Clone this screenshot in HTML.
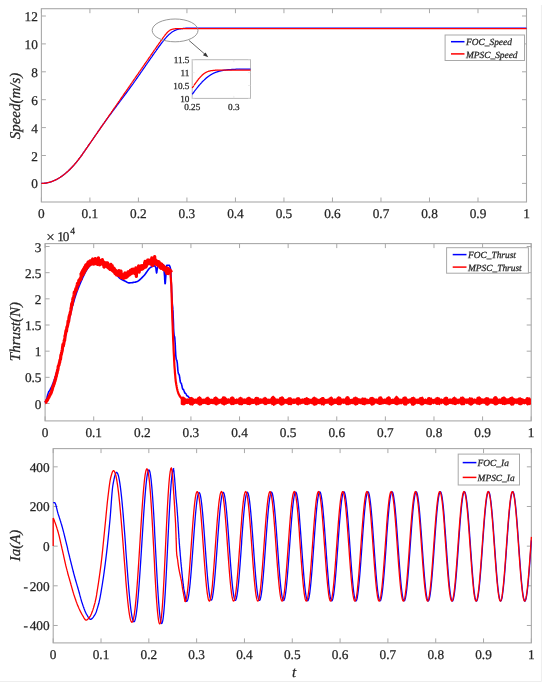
<!DOCTYPE html>
<html><head><meta charset="utf-8"><title>Speed, Thrust and Ia</title>
<style>
html,body{margin:0;padding:0;background:#fff;}
body{width:550px;height:688px;overflow:hidden;}
svg{display:block;}
svg text{fill:#262626;font-family:'Liberation Serif', 'Times New Roman', serif;text-rendering:geometricPrecision;stroke:#262626;stroke-width:0.25px;}
</style></head>
<body>
<svg width="550" height="688" viewBox="0 0 550 688">
<rect x="41.40" y="8.70" width="485.10" height="193.30" fill="none" stroke="#a9a9a9" stroke-width="1.1"/>
<path d="M41.40,202.00v-4.5 M41.40,8.70v4.5 M89.91,202.00v-4.5 M89.91,8.70v4.5 M138.42,202.00v-4.5 M138.42,8.70v4.5 M186.93,202.00v-4.5 M186.93,8.70v4.5 M235.44,202.00v-4.5 M235.44,8.70v4.5 M283.95,202.00v-4.5 M283.95,8.70v4.5 M332.46,202.00v-4.5 M332.46,8.70v4.5 M380.97,202.00v-4.5 M380.97,8.70v4.5 M429.48,202.00v-4.5 M429.48,8.70v4.5 M477.99,202.00v-4.5 M477.99,8.70v4.5 M526.50,202.00v-4.5 M526.50,8.70v4.5 M41.40,183.40h4.5 M526.50,183.40h-4.5 M41.40,155.50h4.5 M526.50,155.50h-4.5 M41.40,127.60h4.5 M526.50,127.60h-4.5 M41.40,99.70h4.5 M526.50,99.70h-4.5 M41.40,71.80h4.5 M526.50,71.80h-4.5 M41.40,43.90h4.5 M526.50,43.90h-4.5 M41.40,16.00h4.5 M526.50,16.00h-4.5" stroke="#a9a9a9" stroke-width="1" fill="none"/>
<text x="41.40" y="218.40" text-anchor="middle" font-size="13.3">0</text>
<text x="89.91" y="218.40" text-anchor="middle" font-size="13.3">0.1</text>
<text x="138.42" y="218.40" text-anchor="middle" font-size="13.3">0.2</text>
<text x="186.93" y="218.40" text-anchor="middle" font-size="13.3">0.3</text>
<text x="235.44" y="218.40" text-anchor="middle" font-size="13.3">0.4</text>
<text x="283.95" y="218.40" text-anchor="middle" font-size="13.3">0.5</text>
<text x="332.46" y="218.40" text-anchor="middle" font-size="13.3">0.6</text>
<text x="380.97" y="218.40" text-anchor="middle" font-size="13.3">0.7</text>
<text x="429.48" y="218.40" text-anchor="middle" font-size="13.3">0.8</text>
<text x="477.99" y="218.40" text-anchor="middle" font-size="13.3">0.9</text>
<text x="526.50" y="218.40" text-anchor="middle" font-size="13.3">1</text>
<text x="37.80" y="188.40" text-anchor="end" font-size="13.3">0</text>
<text x="37.80" y="160.50" text-anchor="end" font-size="13.3">2</text>
<text x="37.80" y="132.60" text-anchor="end" font-size="13.3">4</text>
<text x="37.80" y="104.70" text-anchor="end" font-size="13.3">6</text>
<text x="37.80" y="76.80" text-anchor="end" font-size="13.3">8</text>
<text x="37.80" y="48.90" text-anchor="end" font-size="13.3">10</text>
<text x="37.80" y="21.00" text-anchor="end" font-size="13.3">12</text>
<path d="M41.4,183.4 L41.7,183.4 L42.0,183.4 L42.4,183.4 L42.7,183.4 L43.0,183.4 L43.3,183.3 L43.7,183.3 L44.0,183.3 L44.3,183.3 L44.6,183.2 L45.0,183.2 L45.3,183.1 L45.6,183.1 L45.9,183.0 L46.3,183.0 L46.6,182.9 L46.9,182.9 L47.2,182.8 L47.5,182.7 L47.9,182.7 L48.2,182.6 L48.5,182.5 L48.8,182.4 L49.2,182.4 L49.5,182.3 L49.8,182.2 L50.1,182.1 L50.5,182.0 L50.8,181.9 L51.1,181.8 L51.4,181.7 L51.8,181.5 L52.1,181.4 L52.4,181.3 L52.7,181.2 L53.1,181.0 L53.4,180.9 L53.7,180.8 L54.0,180.6 L54.3,180.5 L54.7,180.3 L55.0,180.2 L55.3,180.0 L55.6,179.9 L56.0,179.7 L56.3,179.6 L56.6,179.4 L56.9,179.2 L57.3,179.0 L57.6,178.9 L57.9,178.7 L58.2,178.5 L58.6,178.3 L58.9,178.1 L59.2,177.9 L59.5,177.7 L59.8,177.5 L60.2,177.3 L60.5,177.1 L60.8,176.9 L61.1,176.6 L61.5,176.4 L61.8,176.2 L62.1,176.0 L62.4,175.7 L62.8,175.5 L63.1,175.2 L63.4,175.0 L63.7,174.8 L64.1,174.5 L64.4,174.2 L64.7,174.0 L65.0,173.7 L65.3,173.5 L65.7,173.2 L66.0,172.9 L66.3,172.6 L66.6,172.4 L67.0,172.1 L67.3,171.8 L67.6,171.5 L67.9,171.2 L68.3,170.9 L68.6,170.6 L68.9,170.3 L69.2,170.0 L69.6,169.7 L69.9,169.3 L70.2,169.0 L70.5,168.7 L70.8,168.4 L71.2,168.0 L71.5,167.7 L71.8,167.4 L72.1,167.0 L72.5,166.7 L72.8,166.3 L73.1,166.0 L73.4,165.6 L73.8,165.2 L74.1,164.9 L74.4,164.5 L74.7,164.1 L75.1,163.8 L75.4,163.4 L75.7,163.0 L76.0,162.6 L76.4,162.2 L76.7,161.8 L77.0,161.4 L77.3,161.0 L77.6,160.6 L78.0,160.2 L78.3,159.8 L78.6,159.4 L78.9,159.0 L79.3,158.5 L79.6,158.1 L79.9,157.7 L80.2,157.3 L80.6,156.8 L80.9,156.4 L81.2,155.9 L81.5,155.5 L81.9,155.0 L82.2,154.6 L82.5,154.1 L82.8,153.7 L83.1,153.2 L83.5,152.7 L83.8,152.3 L84.1,151.8 L84.4,151.3 L84.8,150.8 L85.1,150.4 L85.4,149.9 L85.7,149.4 L86.1,149.0 L86.4,148.5 L86.7,148.0 L87.0,147.6 L87.4,147.1 L87.7,146.6 L88.0,146.2 L88.3,145.7 L88.6,145.2 L89.0,144.8 L89.3,144.3 L89.6,143.8 L89.9,143.4 L90.3,142.9 L90.6,142.4 L90.9,142.0 L91.2,141.5 L91.6,141.0 L91.9,140.5 L92.2,140.1 L92.5,139.6 L92.9,139.1 L93.2,138.7 L93.5,138.2 L93.8,137.7 L94.1,137.3 L94.5,136.8 L94.8,136.3 L95.1,135.9 L95.4,135.4 L95.8,134.9 L96.1,134.5 L96.4,134.0 L96.7,133.5 L97.1,133.1 L97.4,132.6 L97.7,132.1 L98.0,131.7 L98.4,131.2 L98.7,130.7 L99.0,130.3 L99.3,129.8 L99.7,129.3 L100.0,128.8 L100.3,128.4 L100.6,127.9 L100.9,127.5 L101.3,127.0 L101.6,126.5 L101.9,126.1 L102.2,125.6 L102.6,125.1 L102.9,124.7 L103.2,124.2 L103.5,123.8 L103.9,123.3 L104.2,122.9 L104.5,122.4 L104.8,122.0 L105.2,121.5 L105.5,121.1 L105.8,120.6 L106.1,120.2 L106.4,119.7 L106.8,119.3 L107.1,118.8 L107.4,118.4 L107.7,117.9 L108.1,117.5 L108.4,117.0 L108.7,116.6 L109.0,116.2 L109.4,115.7 L109.7,115.3 L110.0,114.8 L110.3,114.4 L110.7,114.0 L111.0,113.5 L111.3,113.1 L111.6,112.6 L111.9,112.2 L112.3,111.8 L112.6,111.3 L112.9,110.9 L113.2,110.4 L113.6,110.0 L113.9,109.6 L114.2,109.1 L114.5,108.7 L114.9,108.3 L115.2,107.8 L115.5,107.4 L115.8,107.0 L116.2,106.5 L116.5,106.1 L116.8,105.7 L117.1,105.2 L117.4,104.8 L117.8,104.4 L118.1,103.9 L118.4,103.5 L118.7,103.1 L119.1,102.6 L119.4,102.2 L119.7,101.8 L120.0,101.3 L120.4,100.9 L120.7,100.5 L121.0,100.0 L121.3,99.6 L121.7,99.2 L122.0,98.7 L122.3,98.3 L122.6,97.9 L123.0,97.4 L123.3,97.0 L123.6,96.6 L123.9,96.1 L124.2,95.7 L124.6,95.3 L124.9,94.8 L125.2,94.4 L125.5,94.0 L125.9,93.5 L126.2,93.1 L126.5,92.6 L126.8,92.2 L127.2,91.8 L127.5,91.3 L127.8,90.9 L128.1,90.4 L128.5,90.0 L128.8,89.6 L129.1,89.1 L129.4,88.7 L129.7,88.2 L130.1,87.8 L130.4,87.3 L130.7,86.9 L131.0,86.4 L131.4,86.0 L131.7,85.6 L132.0,85.1 L132.3,84.7 L132.7,84.2 L133.0,83.8 L133.3,83.3 L133.6,82.9 L134.0,82.4 L134.3,81.9 L134.6,81.5 L134.9,81.0 L135.2,80.6 L135.6,80.1 L135.9,79.7 L136.2,79.2 L136.5,78.7 L136.9,78.3 L137.2,77.8 L137.5,77.4 L137.8,76.9 L138.2,76.4 L138.5,76.0 L138.8,75.5 L139.1,75.0 L139.5,74.5 L139.8,74.1 L140.1,73.6 L140.4,73.1 L140.8,72.7 L141.1,72.2 L141.4,71.7 L141.7,71.3 L142.0,70.8 L142.4,70.3 L142.7,69.9 L143.0,69.4 L143.3,68.9 L143.7,68.5 L144.0,68.0 L144.3,67.5 L144.6,67.1 L145.0,66.6 L145.3,66.1 L145.6,65.7 L145.9,65.2 L146.3,64.7 L146.6,64.3 L146.9,63.8 L147.2,63.3 L147.5,62.9 L147.9,62.4 L148.2,61.9 L148.5,61.5 L148.8,61.0 L149.2,60.5 L149.5,60.1 L149.8,59.6 L150.1,59.1 L150.5,58.7 L150.8,58.2 L151.1,57.7 L151.4,57.3 L151.8,56.8 L152.1,56.4 L152.4,55.9 L152.7,55.4 L153.0,55.0 L153.4,54.5 L153.7,54.0 L154.0,53.6 L154.3,53.1 L154.7,52.7 L155.0,52.2 L155.3,51.8 L155.6,51.3 L156.0,50.8 L156.3,50.4 L156.6,49.9 L156.9,49.5 L157.3,49.0 L157.6,48.6 L157.9,48.1 L158.2,47.7 L158.5,47.2 L158.9,46.8 L159.2,46.3 L159.5,45.9 L159.8,45.5 L160.2,45.0 L160.5,44.6 L160.8,44.1 L161.1,43.7 L161.5,43.3 L161.8,42.9 L162.1,42.4 L162.4,42.0 L162.8,41.6 L163.1,41.2 L163.4,40.8 L163.7,40.4 L164.1,40.0 L164.4,39.6 L164.7,39.2 L165.0,38.8 L165.3,38.4 L165.7,38.0 L166.0,37.7 L166.3,37.3 L166.6,36.9 L167.0,36.6 L167.3,36.3 L167.6,35.9 L167.9,35.6 L168.3,35.3 L168.6,34.9 L168.9,34.6 L169.2,34.3 L169.6,34.0 L169.9,33.7 L170.2,33.5 L170.5,33.2 L170.8,32.9 L171.2,32.7 L171.5,32.5 L171.8,32.2 L172.1,32.0 L172.5,31.8 L172.8,31.6 L173.1,31.4 L173.4,31.2 L173.8,31.0 L174.1,30.8 L174.4,30.7 L174.7,30.5 L175.1,30.4 L175.4,30.2 L175.7,30.1 L176.0,29.9 L176.3,29.8 L176.7,29.7 L177.0,29.6 L177.3,29.5 L177.6,29.4 L178.0,29.3 L178.3,29.2 L178.6,29.1 L178.9,29.1 L179.3,29.0 L179.6,28.9 L179.9,28.9 L180.2,28.8 L180.6,28.8 L180.9,28.7 L181.2,28.7 L181.5,28.6 L181.8,28.6 L182.2,28.5 L182.5,28.5 L182.8,28.5 L183.1,28.4 L183.5,28.4 L183.8,28.4 L184.1,28.3 L184.4,28.3 L184.8,28.3 L185.1,28.3 L185.4,28.3 L185.7,28.2 L186.1,28.2 L186.4,28.2 L186.7,28.2 L187.0,28.2 L187.4,28.2 L187.7,28.2 L188.0,28.1 L188.3,28.1 L188.6,28.1 L189.0,28.1 L189.3,28.1 L189.6,28.1 L189.9,28.1 L190.3,28.1 L190.6,28.1 L190.9,28.1 L191.2,28.1 L191.6,28.1 L191.9,28.1 L192.2,28.1 L192.5,28.0 L192.9,28.0 L193.2,28.0 L193.5,28.0 L193.8,28.0 L194.1,28.0 L194.5,28.0 L194.8,28.0 L195.1,28.0 L195.4,28.0 L195.8,28.0 L196.1,28.0 L196.4,28.0 L196.7,28.0 L197.1,28.0 L197.4,28.0 L197.7,28.0 L198.0,28.0 L198.4,28.0 L198.7,28.0 L199.0,28.0 L199.3,28.0 L199.6,28.0 L200.0,28.0 L200.3,28.0 L200.6,28.0 L200.9,28.0 L201.3,28.0 L201.6,28.0 L201.9,28.0 L202.2,28.0 L202.6,28.0 L202.9,28.0 L203.2,28.0 L203.5,28.0 L203.9,28.0 L204.2,28.0 L204.5,28.0 L204.8,28.0 L205.1,28.0 L205.5,28.0 L205.8,28.0 L206.1,28.0 L206.4,28.0 L206.8,28.0 L207.1,28.0 L207.4,28.0 L207.7,28.0 L208.1,28.0 L208.4,28.0 L208.7,28.0 L209.0,28.0 L209.4,28.0 L209.7,28.0 L210.0,28.0 L210.3,28.0 L210.7,28.0 L211.0,28.0 L211.3,28.0 L211.6,28.0 L211.9,28.0 L212.3,28.0 L212.6,28.0 L212.9,28.0 L213.2,28.0 L213.6,28.0 L213.9,28.0 L214.2,28.0 L214.5,28.0 L214.9,28.0 L215.2,28.0 L215.5,28.0 L215.8,28.0 L216.2,28.0 L216.5,28.0 L216.8,28.0 L217.1,28.0 L217.4,28.0 L217.8,28.0 L218.1,28.0 L218.4,28.0 L218.7,28.0 L219.1,28.0 L219.4,28.0 L219.7,28.0 L220.0,28.0 L220.4,28.0 L220.7,28.0 L221.0,28.0 L221.3,28.0 L221.7,28.0 L222.0,28.0 L222.3,28.0 L222.6,28.0 L222.9,28.0 L223.3,28.0 L223.6,28.0 L223.9,28.0 L224.2,28.0 L224.6,28.0 L224.9,28.0 L225.2,28.0 L225.5,28.0 L225.9,28.0 L226.2,28.0 L226.5,28.0 L226.8,28.0 L227.2,28.0 L227.5,28.0 L227.8,28.0 L228.1,28.0 L228.4,28.0 L228.8,28.0 L229.1,28.0 L229.4,28.0 L229.7,28.0 L230.1,28.0 L230.4,28.0 L230.7,28.0 L231.0,28.0 L231.4,28.0 L231.7,28.0 L232.0,28.0 L232.3,28.0 L232.7,28.0 L233.0,28.0 L233.3,28.0 L233.6,28.0 L234.0,28.0 L234.3,28.0 L234.6,28.0 L234.9,28.0 L235.2,28.0 L235.6,28.0 L235.9,28.0 L236.2,28.0 L236.5,28.0 L236.9,28.0 L237.2,28.0 L237.5,28.0 L237.8,28.0 L238.2,28.0 L238.5,28.0 L238.8,28.0 L239.1,28.0 L239.5,28.0 L239.8,28.0 L240.1,28.0 L240.4,28.0 L240.7,28.0 L241.1,28.0 L241.4,28.0 L241.7,28.0 L242.0,28.0 L242.4,28.0 L242.7,28.0 L243.0,28.0 L243.3,28.0 L243.7,28.0 L244.0,28.0 L244.3,28.0 L244.6,28.0 L245.0,28.0 L245.3,28.0 L245.6,28.0 L245.9,28.0 L246.2,28.0 L246.6,28.0 L246.9,28.0 L247.2,28.0 L247.5,28.0 L247.9,28.0 L248.2,28.0 L248.5,28.0 L248.8,28.0 L249.2,28.0 L249.5,28.0 L249.8,28.0 L250.1,28.0 L250.5,28.0 L250.8,28.0 L251.1,28.0 L251.4,28.0 L251.8,28.0 L252.1,28.0 L252.4,28.0 L252.7,28.0 L253.0,28.0 L253.4,28.0 L253.7,28.0 L254.0,28.0 L254.3,28.0 L254.7,28.0 L255.0,28.0 L255.3,28.0 L255.6,28.0 L256.0,28.0 L256.3,28.0 L256.6,28.0 L256.9,28.0 L257.3,28.0 L257.6,28.0 L257.9,28.0 L258.2,28.0 L258.5,28.0 L258.9,28.0 L259.2,28.0 L259.5,28.0 L259.8,28.0 L260.2,28.0 L260.5,28.0 L260.8,28.0 L261.1,28.0 L261.5,28.0 L261.8,28.0 L262.1,28.0 L262.4,28.0 L262.8,28.0 L263.1,28.0 L263.4,28.0 L263.7,28.0 L264.0,28.0 L264.4,28.0 L264.7,28.0 L265.0,28.0 L265.3,28.0 L265.7,28.0 L266.0,28.0 L266.3,28.0 L266.6,28.0 L267.0,28.0 L267.3,28.0 L267.6,28.0 L267.9,28.0 L268.3,28.0 L268.6,28.0 L268.9,28.0 L269.2,28.0 L269.5,28.0 L269.9,28.0 L270.2,28.0 L270.5,28.0 L270.8,28.0 L271.2,28.0 L271.5,28.0 L271.8,28.0 L272.1,28.0 L272.5,28.0 L272.8,28.0 L273.1,28.0 L273.4,28.0 L273.8,28.0 L274.1,28.0 L274.4,28.0 L274.7,28.0 L275.1,28.0 L275.4,28.0 L275.7,28.0 L276.0,28.0 L276.3,28.0 L276.7,28.0 L277.0,28.0 L277.3,28.0 L277.6,28.0 L278.0,28.0 L278.3,28.0 L278.6,28.0 L278.9,28.0 L279.3,28.0 L279.6,28.0 L279.9,28.0 L280.2,28.0 L280.6,28.0 L280.9,28.0 L281.2,28.0 L281.5,28.0 L281.8,28.0 L282.2,28.0 L282.5,28.0 L282.8,28.0 L283.1,28.0 L283.5,28.0 L283.8,28.0 L284.1,28.0 L284.4,28.0 L284.8,28.0 L285.1,28.0 L285.4,28.0 L285.7,28.0 L286.1,28.0 L286.4,28.0 L286.7,28.0 L287.0,28.0 L287.3,28.0 L287.7,28.0 L288.0,28.0 L288.3,28.0 L288.6,28.0 L289.0,28.0 L289.3,28.0 L289.6,28.0 L289.9,28.0 L290.3,28.0 L290.6,28.0 L290.9,28.0 L291.2,28.0 L291.6,28.0 L291.9,28.0 L292.2,28.0 L292.5,28.0 L292.8,28.0 L293.2,28.0 L293.5,28.0 L293.8,28.0 L294.1,28.0 L294.5,28.0 L294.8,28.0 L295.1,28.0 L295.4,28.0 L295.8,28.0 L296.1,28.0 L296.4,28.0 L296.7,28.0 L297.1,28.0 L297.4,28.0 L297.7,28.0 L298.0,28.0 L298.4,28.0 L298.7,28.0 L299.0,28.0 L299.3,28.0 L299.6,28.0 L300.0,28.0 L300.3,28.0 L300.6,28.0 L300.9,28.0 L301.3,28.0 L301.6,28.0 L301.9,28.0 L302.2,28.0 L302.6,28.0 L302.9,28.0 L303.2,28.0 L303.5,28.0 L303.9,28.0 L304.2,28.0 L304.5,28.0 L304.8,28.0 L305.1,28.0 L305.5,28.0 L305.8,28.0 L306.1,28.0 L306.4,28.0 L306.8,28.0 L307.1,28.0 L307.4,28.0 L307.7,28.0 L308.1,28.0 L308.4,28.0 L308.7,28.0 L309.0,28.0 L309.4,28.0 L309.7,28.0 L310.0,28.0 L310.3,28.0 L310.6,28.0 L311.0,28.0 L311.3,28.0 L311.6,28.0 L311.9,28.0 L312.3,28.0 L312.6,28.0 L312.9,28.0 L313.2,28.0 L313.6,28.0 L313.9,28.0 L314.2,28.0 L314.5,28.0 L314.9,28.0 L315.2,28.0 L315.5,28.0 L315.8,28.0 L316.1,28.0 L316.5,28.0 L316.8,28.0 L317.1,28.0 L317.4,28.0 L317.8,28.0 L318.1,28.0 L318.4,28.0 L318.7,28.0 L319.1,28.0 L319.4,28.0 L319.7,28.0 L320.0,28.0 L320.4,28.0 L320.7,28.0 L321.0,28.0 L321.3,28.0 L321.7,28.0 L322.0,28.0 L322.3,28.0 L322.6,28.0 L322.9,28.0 L323.3,28.0 L323.6,28.0 L323.9,28.0 L324.2,28.0 L324.6,28.0 L324.9,28.0 L325.2,28.0 L325.5,28.0 L325.9,28.0 L326.2,28.0 L326.5,28.0 L326.8,28.0 L327.2,28.0 L327.5,28.0 L327.8,28.0 L328.1,28.0 L328.4,28.0 L328.8,28.0 L329.1,28.0 L329.4,28.0 L329.7,28.0 L330.1,28.0 L330.4,28.0 L330.7,28.0 L331.0,28.0 L331.4,28.0 L331.7,28.0 L332.0,28.0 L332.3,28.0 L332.7,28.0 L333.0,28.0 L333.3,28.0 L333.6,28.0 L333.9,28.0 L334.3,28.0 L334.6,28.0 L334.9,28.0 L335.2,28.0 L335.6,28.0 L335.9,28.0 L336.2,28.0 L336.5,28.0 L336.9,28.0 L337.2,28.0 L337.5,28.0 L337.8,28.0 L338.2,28.0 L338.5,28.0 L338.8,28.0 L339.1,28.0 L339.5,28.0 L339.8,28.0 L340.1,28.0 L340.4,28.0 L340.7,28.0 L341.1,28.0 L341.4,28.0 L341.7,28.0 L342.0,28.0 L342.4,28.0 L342.7,28.0 L343.0,28.0 L343.3,28.0 L343.7,28.0 L344.0,28.0 L344.3,28.0 L344.6,28.0 L345.0,28.0 L345.3,28.0 L345.6,28.0 L345.9,28.0 L346.2,28.0 L346.6,28.0 L346.9,28.0 L347.2,28.0 L347.5,28.0 L347.9,28.0 L348.2,28.0 L348.5,28.0 L348.8,28.0 L349.2,28.0 L349.5,28.0 L349.8,28.0 L350.1,28.0 L350.5,28.0 L350.8,28.0 L351.1,28.0 L351.4,28.0 L351.7,28.0 L352.1,28.0 L352.4,28.0 L352.7,28.0 L353.0,28.0 L353.4,28.0 L353.7,28.0 L354.0,28.0 L354.3,28.0 L354.7,28.0 L355.0,28.0 L355.3,28.0 L355.6,28.0 L356.0,28.0 L356.3,28.0 L356.6,28.0 L356.9,28.0 L357.2,28.0 L357.6,28.0 L357.9,28.0 L358.2,28.0 L358.5,28.0 L358.9,28.0 L359.2,28.0 L359.5,28.0 L359.8,28.0 L360.2,28.0 L360.5,28.0 L360.8,28.0 L361.1,28.0 L361.5,28.0 L361.8,28.0 L362.1,28.0 L362.4,28.0 L362.8,28.0 L363.1,28.0 L363.4,28.0 L363.7,28.0 L364.0,28.0 L364.4,28.0 L364.7,28.0 L365.0,28.0 L365.3,28.0 L365.7,28.0 L366.0,28.0 L366.3,28.0 L366.6,28.0 L367.0,28.0 L367.3,28.0 L367.6,28.0 L367.9,28.0 L368.3,28.0 L368.6,28.0 L368.9,28.0 L369.2,28.0 L369.5,28.0 L369.9,28.0 L370.2,28.0 L370.5,28.0 L370.8,28.0 L371.2,28.0 L371.5,28.0 L371.8,28.0 L372.1,28.0 L372.5,28.0 L372.8,28.0 L373.1,28.0 L373.4,28.0 L373.8,28.0 L374.1,28.0 L374.4,28.0 L374.7,28.0 L375.0,28.0 L375.4,28.0 L375.7,28.0 L376.0,28.0 L376.3,28.0 L376.7,28.0 L377.0,28.0 L377.3,28.0 L377.6,28.0 L378.0,28.0 L378.3,28.0 L378.6,28.0 L378.9,28.0 L379.3,28.0 L379.6,28.0 L379.9,28.0 L380.2,28.0 L380.5,28.0 L380.9,28.0 L381.2,28.0 L381.5,28.0 L381.8,28.0 L382.2,28.0 L382.5,28.0 L382.8,28.0 L383.1,28.0 L383.5,28.0 L383.8,28.0 L384.1,28.0 L384.4,28.0 L384.8,28.0 L385.1,28.0 L385.4,28.0 L385.7,28.0 L386.1,28.0 L386.4,28.0 L386.7,28.0 L387.0,28.0 L387.3,28.0 L387.7,28.0 L388.0,28.0 L388.3,28.0 L388.6,28.0 L389.0,28.0 L389.3,28.0 L389.6,28.0 L389.9,28.0 L390.3,28.0 L390.6,28.0 L390.9,28.0 L391.2,28.0 L391.6,28.0 L391.9,28.0 L392.2,28.0 L392.5,28.0 L392.8,28.0 L393.2,28.0 L393.5,28.0 L393.8,28.0 L394.1,28.0 L394.5,28.0 L394.8,28.0 L395.1,28.0 L395.4,28.0 L395.8,28.0 L396.1,28.0 L396.4,28.0 L396.7,28.0 L397.1,28.0 L397.4,28.0 L397.7,28.0 L398.0,28.0 L398.3,28.0 L398.7,28.0 L399.0,28.0 L399.3,28.0 L399.6,28.0 L400.0,28.0 L400.3,28.0 L400.6,28.0 L400.9,28.0 L401.3,28.0 L401.6,28.0 L401.9,28.0 L402.2,28.0 L402.6,28.0 L402.9,28.0 L403.2,28.0 L403.5,28.0 L403.8,28.0 L404.2,28.0 L404.5,28.0 L404.8,28.0 L405.1,28.0 L405.5,28.0 L405.8,28.0 L406.1,28.0 L406.4,28.0 L406.8,28.0 L407.1,28.0 L407.4,28.0 L407.7,28.0 L408.1,28.0 L408.4,28.0 L408.7,28.0 L409.0,28.0 L409.4,28.0 L409.7,28.0 L410.0,28.0 L410.3,28.0 L410.6,28.0 L411.0,28.0 L411.3,28.0 L411.6,28.0 L411.9,28.0 L412.3,28.0 L412.6,28.0 L412.9,28.0 L413.2,28.0 L413.6,28.0 L413.9,28.0 L414.2,28.0 L414.5,28.0 L414.9,28.0 L415.2,28.0 L415.5,28.0 L415.8,28.0 L416.1,28.0 L416.5,28.0 L416.8,28.0 L417.1,28.0 L417.4,28.0 L417.8,28.0 L418.1,28.0 L418.4,28.0 L418.7,28.0 L419.1,28.0 L419.4,28.0 L419.7,28.0 L420.0,28.0 L420.4,28.0 L420.7,28.0 L421.0,28.0 L421.3,28.0 L421.6,28.0 L422.0,28.0 L422.3,28.0 L422.6,28.0 L422.9,28.0 L423.3,28.0 L423.6,28.0 L423.9,28.0 L424.2,28.0 L424.6,28.0 L424.9,28.0 L425.2,28.0 L425.5,28.0 L425.9,28.0 L426.2,28.0 L426.5,28.0 L426.8,28.0 L427.1,28.0 L427.5,28.0 L427.8,28.0 L428.1,28.0 L428.4,28.0 L428.8,28.0 L429.1,28.0 L429.4,28.0 L429.7,28.0 L430.1,28.0 L430.4,28.0 L430.7,28.0 L431.0,28.0 L431.4,28.0 L431.7,28.0 L432.0,28.0 L432.3,28.0 L432.7,28.0 L433.0,28.0 L433.3,28.0 L433.6,28.0 L433.9,28.0 L434.3,28.0 L434.6,28.0 L434.9,28.0 L435.2,28.0 L435.6,28.0 L435.9,28.0 L436.2,28.0 L436.5,28.0 L436.9,28.0 L437.2,28.0 L437.5,28.0 L437.8,28.0 L438.2,28.0 L438.5,28.0 L438.8,28.0 L439.1,28.0 L439.4,28.0 L439.8,28.0 L440.1,28.0 L440.4,28.0 L440.7,28.0 L441.1,28.0 L441.4,28.0 L441.7,28.0 L442.0,28.0 L442.4,28.0 L442.7,28.0 L443.0,28.0 L443.3,28.0 L443.7,28.0 L444.0,28.0 L444.3,28.0 L444.6,28.0 L444.9,28.0 L445.3,28.0 L445.6,28.0 L445.9,28.0 L446.2,28.0 L446.6,28.0 L446.9,28.0 L447.2,28.0 L447.5,28.0 L447.9,28.0 L448.2,28.0 L448.5,28.0 L448.8,28.0 L449.2,28.0 L449.5,28.0 L449.8,28.0 L450.1,28.0 L450.5,28.0 L450.8,28.0 L451.1,28.0 L451.4,28.0 L451.7,28.0 L452.1,28.0 L452.4,28.0 L452.7,28.0 L453.0,28.0 L453.4,28.0 L453.7,28.0 L454.0,28.0 L454.3,28.0 L454.7,28.0 L455.0,28.0 L455.3,28.0 L455.6,28.0 L456.0,28.0 L456.3,28.0 L456.6,28.0 L456.9,28.0 L457.2,28.0 L457.6,28.0 L457.9,28.0 L458.2,28.0 L458.5,28.0 L458.9,28.0 L459.2,28.0 L459.5,28.0 L459.8,28.0 L460.2,28.0 L460.5,28.0 L460.8,28.0 L461.1,28.0 L461.5,28.0 L461.8,28.0 L462.1,28.0 L462.4,28.0 L462.7,28.0 L463.1,28.0 L463.4,28.0 L463.7,28.0 L464.0,28.0 L464.4,28.0 L464.7,28.0 L465.0,28.0 L465.3,28.0 L465.7,28.0 L466.0,28.0 L466.3,28.0 L466.6,28.0 L467.0,28.0 L467.3,28.0 L467.6,28.0 L467.9,28.0 L468.2,28.0 L468.6,28.0 L468.9,28.0 L469.2,28.0 L469.5,28.0 L469.9,28.0 L470.2,28.0 L470.5,28.0 L470.8,28.0 L471.2,28.0 L471.5,28.0 L471.8,28.0 L472.1,28.0 L472.5,28.0 L472.8,28.0 L473.1,28.0 L473.4,28.0 L473.8,28.0 L474.1,28.0 L474.4,28.0 L474.7,28.0 L475.0,28.0 L475.4,28.0 L475.7,28.0 L476.0,28.0 L476.3,28.0 L476.7,28.0 L477.0,28.0 L477.3,28.0 L477.6,28.0 L478.0,28.0 L478.3,28.0 L478.6,28.0 L478.9,28.0 L479.3,28.0 L479.6,28.0 L479.9,28.0 L480.2,28.0 L480.5,28.0 L480.9,28.0 L481.2,28.0 L481.5,28.0 L481.8,28.0 L482.2,28.0 L482.5,28.0 L482.8,28.0 L483.1,28.0 L483.5,28.0 L483.8,28.0 L484.1,28.0 L484.4,28.0 L484.8,28.0 L485.1,28.0 L485.4,28.0 L485.7,28.0 L486.0,28.0 L486.4,28.0 L486.7,28.0 L487.0,28.0 L487.3,28.0 L487.7,28.0 L488.0,28.0 L488.3,28.0 L488.6,28.0 L489.0,28.0 L489.3,28.0 L489.6,28.0 L489.9,28.0 L490.3,28.0 L490.6,28.0 L490.9,28.0 L491.2,28.0 L491.5,28.0 L491.9,28.0 L492.2,28.0 L492.5,28.0 L492.8,28.0 L493.2,28.0 L493.5,28.0 L493.8,28.0 L494.1,28.0 L494.5,28.0 L494.8,28.0 L495.1,28.0 L495.4,28.0 L495.8,28.0 L496.1,28.0 L496.4,28.0 L496.7,28.0 L497.1,28.0 L497.4,28.0 L497.7,28.0 L498.0,28.0 L498.3,28.0 L498.7,28.0 L499.0,28.0 L499.3,28.0 L499.6,28.0 L500.0,28.0 L500.3,28.0 L500.6,28.0 L500.9,28.0 L501.3,28.0 L501.6,28.0 L501.9,28.0 L502.2,28.0 L502.6,28.0 L502.9,28.0 L503.2,28.0 L503.5,28.0 L503.8,28.0 L504.2,28.0 L504.5,28.0 L504.8,28.0 L505.1,28.0 L505.5,28.0 L505.8,28.0 L506.1,28.0 L506.4,28.0 L506.8,28.0 L507.1,28.0 L507.4,28.0 L507.7,28.0 L508.1,28.0 L508.4,28.0 L508.7,28.0 L509.0,28.0 L509.3,28.0 L509.7,28.0 L510.0,28.0 L510.3,28.0 L510.6,28.0 L511.0,28.0 L511.3,28.0 L511.6,28.0 L511.9,28.0 L512.3,28.0 L512.6,28.0 L512.9,28.0 L513.2,28.0 L513.6,28.0 L513.9,28.0 L514.2,28.0 L514.5,28.0 L514.8,28.0 L515.2,28.0 L515.5,28.0 L515.8,28.0 L516.1,28.0 L516.5,28.0 L516.8,28.0 L517.1,28.0 L517.4,28.0 L517.8,28.0 L518.1,28.0 L518.4,28.0 L518.7,28.0 L519.1,28.0 L519.4,28.0 L519.7,28.0 L520.0,28.0 L520.4,28.0 L520.7,28.0 L521.0,28.0 L521.3,28.0 L521.6,28.0 L522.0,28.0 L522.3,28.0 L522.6,28.0 L522.9,28.0 L523.3,28.0 L523.6,28.0 L523.9,28.0 L524.2,28.0 L524.6,28.0 L524.9,28.0 L525.2,28.0 L525.5,28.0 L525.9,28.0 L526.2,28.0 L526.5,28.0" stroke="#0000ff" stroke-width="1.25" fill="none"/>
<path d="M41.4,183.4 L41.7,183.4 L42.0,183.4 L42.4,183.4 L42.7,183.4 L43.0,183.4 L43.3,183.3 L43.7,183.3 L44.0,183.3 L44.3,183.3 L44.6,183.2 L45.0,183.2 L45.3,183.1 L45.6,183.1 L45.9,183.0 L46.3,183.0 L46.6,182.9 L46.9,182.9 L47.2,182.8 L47.5,182.7 L47.9,182.7 L48.2,182.6 L48.5,182.5 L48.8,182.4 L49.2,182.4 L49.5,182.3 L49.8,182.2 L50.1,182.1 L50.5,182.0 L50.8,181.9 L51.1,181.8 L51.4,181.7 L51.8,181.5 L52.1,181.4 L52.4,181.3 L52.7,181.2 L53.1,181.0 L53.4,180.9 L53.7,180.8 L54.0,180.6 L54.3,180.5 L54.7,180.3 L55.0,180.2 L55.3,180.0 L55.6,179.9 L56.0,179.7 L56.3,179.6 L56.6,179.4 L56.9,179.2 L57.3,179.0 L57.6,178.9 L57.9,178.7 L58.2,178.5 L58.6,178.3 L58.9,178.1 L59.2,177.9 L59.5,177.7 L59.8,177.5 L60.2,177.3 L60.5,177.1 L60.8,176.9 L61.1,176.6 L61.5,176.4 L61.8,176.2 L62.1,176.0 L62.4,175.7 L62.8,175.5 L63.1,175.2 L63.4,175.0 L63.7,174.8 L64.1,174.5 L64.4,174.2 L64.7,174.0 L65.0,173.7 L65.3,173.5 L65.7,173.2 L66.0,172.9 L66.3,172.6 L66.6,172.4 L67.0,172.1 L67.3,171.8 L67.6,171.5 L67.9,171.2 L68.3,170.9 L68.6,170.6 L68.9,170.3 L69.2,170.0 L69.6,169.7 L69.9,169.3 L70.2,169.0 L70.5,168.7 L70.8,168.4 L71.2,168.0 L71.5,167.7 L71.8,167.4 L72.1,167.0 L72.5,166.7 L72.8,166.3 L73.1,166.0 L73.4,165.6 L73.8,165.2 L74.1,164.9 L74.4,164.5 L74.7,164.1 L75.1,163.8 L75.4,163.4 L75.7,163.0 L76.0,162.6 L76.4,162.2 L76.7,161.8 L77.0,161.4 L77.3,161.0 L77.6,160.6 L78.0,160.2 L78.3,159.8 L78.6,159.4 L78.9,159.0 L79.3,158.5 L79.6,158.1 L79.9,157.7 L80.2,157.3 L80.6,156.8 L80.9,156.4 L81.2,155.9 L81.5,155.5 L81.9,155.0 L82.2,154.6 L82.5,154.1 L82.8,153.7 L83.1,153.2 L83.5,152.7 L83.8,152.3 L84.1,151.8 L84.4,151.3 L84.8,150.8 L85.1,150.4 L85.4,149.9 L85.7,149.4 L86.1,149.0 L86.4,148.5 L86.7,148.0 L87.0,147.6 L87.4,147.1 L87.7,146.6 L88.0,146.2 L88.3,145.7 L88.6,145.2 L89.0,144.8 L89.3,144.3 L89.6,143.8 L89.9,143.4 L90.3,142.9 L90.6,142.4 L90.9,142.0 L91.2,141.5 L91.6,141.0 L91.9,140.5 L92.2,140.1 L92.5,139.6 L92.9,139.1 L93.2,138.7 L93.5,138.2 L93.8,137.7 L94.1,137.3 L94.5,136.8 L94.8,136.3 L95.1,135.9 L95.4,135.4 L95.8,134.9 L96.1,134.5 L96.4,134.0 L96.7,133.5 L97.1,133.1 L97.4,132.6 L97.7,132.1 L98.0,131.7 L98.4,131.2 L98.7,130.7 L99.0,130.3 L99.3,129.8 L99.7,129.3 L100.0,128.8 L100.3,128.4 L100.6,127.9 L100.9,127.4 L101.3,127.0 L101.6,126.5 L101.9,126.0 L102.2,125.6 L102.6,125.1 L102.9,124.6 L103.2,124.2 L103.5,123.7 L103.9,123.2 L104.2,122.8 L104.5,122.3 L104.8,121.8 L105.2,121.4 L105.5,120.9 L105.8,120.4 L106.1,120.0 L106.4,119.5 L106.8,119.0 L107.1,118.5 L107.4,118.1 L107.7,117.6 L108.1,117.1 L108.4,116.7 L108.7,116.2 L109.0,115.7 L109.4,115.3 L109.7,114.8 L110.0,114.3 L110.3,113.9 L110.7,113.4 L111.0,112.9 L111.3,112.5 L111.6,112.0 L111.9,111.5 L112.3,111.1 L112.6,110.6 L112.9,110.1 L113.2,109.7 L113.6,109.2 L113.9,108.7 L114.2,108.2 L114.5,107.8 L114.9,107.3 L115.2,106.8 L115.5,106.4 L115.8,105.9 L116.2,105.4 L116.5,105.0 L116.8,104.5 L117.1,104.0 L117.4,103.6 L117.8,103.1 L118.1,102.6 L118.4,102.2 L118.7,101.7 L119.1,101.2 L119.4,100.8 L119.7,100.3 L120.0,99.8 L120.4,99.4 L120.7,98.9 L121.0,98.4 L121.3,98.0 L121.7,97.5 L122.0,97.0 L122.3,96.5 L122.6,96.1 L123.0,95.6 L123.3,95.1 L123.6,94.7 L123.9,94.2 L124.2,93.7 L124.6,93.3 L124.9,92.8 L125.2,92.3 L125.5,91.9 L125.9,91.4 L126.2,90.9 L126.5,90.5 L126.8,90.0 L127.2,89.5 L127.5,89.1 L127.8,88.6 L128.1,88.1 L128.5,87.7 L128.8,87.2 L129.1,86.7 L129.4,86.2 L129.7,85.8 L130.1,85.3 L130.4,84.8 L130.7,84.4 L131.0,83.9 L131.4,83.4 L131.7,83.0 L132.0,82.5 L132.3,82.0 L132.7,81.6 L133.0,81.1 L133.3,80.6 L133.6,80.2 L134.0,79.7 L134.3,79.2 L134.6,78.8 L134.9,78.3 L135.2,77.8 L135.6,77.4 L135.9,76.9 L136.2,76.4 L136.5,76.0 L136.9,75.5 L137.2,75.0 L137.5,74.5 L137.8,74.1 L138.2,73.6 L138.5,73.1 L138.8,72.7 L139.1,72.2 L139.5,71.7 L139.8,71.3 L140.1,70.8 L140.4,70.3 L140.8,69.9 L141.1,69.4 L141.4,68.9 L141.7,68.5 L142.0,68.0 L142.4,67.5 L142.7,67.1 L143.0,66.6 L143.3,66.1 L143.7,65.7 L144.0,65.2 L144.3,64.7 L144.6,64.2 L145.0,63.8 L145.3,63.3 L145.6,62.8 L145.9,62.4 L146.3,61.9 L146.6,61.4 L146.9,61.0 L147.2,60.5 L147.5,60.0 L147.9,59.6 L148.2,59.1 L148.5,58.6 L148.8,58.2 L149.2,57.7 L149.5,57.2 L149.8,56.8 L150.1,56.3 L150.5,55.8 L150.8,55.4 L151.1,54.9 L151.4,54.4 L151.8,54.0 L152.1,53.5 L152.4,53.0 L152.7,52.5 L153.0,52.1 L153.4,51.6 L153.7,51.1 L154.0,50.7 L154.3,50.2 L154.7,49.7 L155.0,49.3 L155.3,48.8 L155.6,48.3 L156.0,47.9 L156.3,47.4 L156.6,46.9 L156.9,46.5 L157.3,46.0 L157.6,45.5 L157.9,45.1 L158.2,44.6 L158.5,44.1 L158.9,43.7 L159.2,43.2 L159.5,42.7 L159.8,42.3 L160.2,41.8 L160.5,41.4 L160.8,40.9 L161.1,40.4 L161.5,40.0 L161.8,39.5 L162.1,39.1 L162.4,38.6 L162.8,38.2 L163.1,37.7 L163.4,37.3 L163.7,36.8 L164.1,36.4 L164.4,36.0 L164.7,35.6 L165.0,35.1 L165.3,34.7 L165.7,34.3 L166.0,33.9 L166.3,33.6 L166.6,33.2 L167.0,32.8 L167.3,32.5 L167.6,32.2 L167.9,31.8 L168.3,31.5 L168.6,31.3 L168.9,31.0 L169.2,30.7 L169.6,30.5 L169.9,30.3 L170.2,30.1 L170.5,29.9 L170.8,29.8 L171.2,29.6 L171.5,29.5 L171.8,29.4 L172.1,29.3 L172.5,29.2 L172.8,29.1 L173.1,29.0 L173.4,29.0 L173.8,28.9 L174.1,28.9 L174.4,28.8 L174.7,28.8 L175.1,28.8 L175.4,28.7 L175.7,28.7 L176.0,28.7 L176.3,28.7 L176.7,28.6 L177.0,28.6 L177.3,28.6 L177.6,28.6 L178.0,28.6 L178.3,28.6 L178.6,28.6 L178.9,28.6 L179.3,28.6 L179.6,28.6 L179.9,28.6 L180.2,28.6 L180.6,28.6 L180.9,28.6 L181.2,28.6 L181.5,28.6 L181.8,28.6 L182.2,28.6 L182.5,28.6 L182.8,28.6 L183.1,28.6 L183.5,28.6 L183.8,28.6 L184.1,28.6 L184.4,28.6 L184.8,28.6 L185.1,28.6 L185.4,28.6 L185.7,28.6 L186.1,28.6 L186.4,28.6 L186.7,28.6 L187.0,28.6 L187.4,28.6 L187.7,28.6 L188.0,28.6 L188.3,28.6 L188.6,28.6 L189.0,28.6 L189.3,28.6 L189.6,28.6 L189.9,28.6 L190.3,28.6 L190.6,28.6 L190.9,28.6 L191.2,28.6 L191.6,28.6 L191.9,28.6 L192.2,28.6 L192.5,28.6 L192.9,28.6 L193.2,28.6 L193.5,28.6 L193.8,28.6 L194.1,28.6 L194.5,28.6 L194.8,28.6 L195.1,28.6 L195.4,28.6 L195.8,28.6 L196.1,28.6 L196.4,28.6 L196.7,28.6 L197.1,28.6 L197.4,28.6 L197.7,28.6 L198.0,28.6 L198.4,28.6 L198.7,28.6 L199.0,28.6 L199.3,28.6 L199.6,28.6 L200.0,28.6 L200.3,28.6 L200.6,28.6 L200.9,28.6 L201.3,28.6 L201.6,28.6 L201.9,28.6 L202.2,28.6 L202.6,28.6 L202.9,28.6 L203.2,28.6 L203.5,28.6 L203.9,28.6 L204.2,28.6 L204.5,28.6 L204.8,28.6 L205.1,28.6 L205.5,28.6 L205.8,28.6 L206.1,28.6 L206.4,28.6 L206.8,28.6 L207.1,28.6 L207.4,28.6 L207.7,28.6 L208.1,28.6 L208.4,28.6 L208.7,28.6 L209.0,28.6 L209.4,28.6 L209.7,28.6 L210.0,28.6 L210.3,28.6 L210.7,28.6 L211.0,28.6 L211.3,28.6 L211.6,28.6 L211.9,28.6 L212.3,28.6 L212.6,28.6 L212.9,28.6 L213.2,28.6 L213.6,28.6 L213.9,28.6 L214.2,28.6 L214.5,28.6 L214.9,28.6 L215.2,28.6 L215.5,28.6 L215.8,28.6 L216.2,28.6 L216.5,28.6 L216.8,28.6 L217.1,28.6 L217.4,28.6 L217.8,28.6 L218.1,28.6 L218.4,28.6 L218.7,28.6 L219.1,28.6 L219.4,28.6 L219.7,28.6 L220.0,28.6 L220.4,28.6 L220.7,28.6 L221.0,28.6 L221.3,28.6 L221.7,28.6 L222.0,28.6 L222.3,28.6 L222.6,28.6 L222.9,28.6 L223.3,28.6 L223.6,28.6 L223.9,28.6 L224.2,28.6 L224.6,28.6 L224.9,28.6 L225.2,28.6 L225.5,28.6 L225.9,28.6 L226.2,28.6 L226.5,28.6 L226.8,28.6 L227.2,28.6 L227.5,28.6 L227.8,28.6 L228.1,28.6 L228.4,28.6 L228.8,28.6 L229.1,28.6 L229.4,28.6 L229.7,28.6 L230.1,28.6 L230.4,28.6 L230.7,28.6 L231.0,28.6 L231.4,28.6 L231.7,28.6 L232.0,28.6 L232.3,28.6 L232.7,28.6 L233.0,28.6 L233.3,28.6 L233.6,28.6 L234.0,28.6 L234.3,28.6 L234.6,28.6 L234.9,28.6 L235.2,28.6 L235.6,28.6 L235.9,28.6 L236.2,28.6 L236.5,28.6 L236.9,28.6 L237.2,28.6 L237.5,28.6 L237.8,28.6 L238.2,28.6 L238.5,28.6 L238.8,28.6 L239.1,28.6 L239.5,28.6 L239.8,28.6 L240.1,28.6 L240.4,28.6 L240.7,28.6 L241.1,28.6 L241.4,28.6 L241.7,28.6 L242.0,28.6 L242.4,28.6 L242.7,28.6 L243.0,28.6 L243.3,28.6 L243.7,28.6 L244.0,28.6 L244.3,28.6 L244.6,28.6 L245.0,28.6 L245.3,28.6 L245.6,28.6 L245.9,28.6 L246.2,28.6 L246.6,28.6 L246.9,28.6 L247.2,28.6 L247.5,28.6 L247.9,28.6 L248.2,28.6 L248.5,28.6 L248.8,28.6 L249.2,28.6 L249.5,28.6 L249.8,28.6 L250.1,28.6 L250.5,28.6 L250.8,28.6 L251.1,28.6 L251.4,28.6 L251.8,28.6 L252.1,28.6 L252.4,28.6 L252.7,28.6 L253.0,28.6 L253.4,28.6 L253.7,28.6 L254.0,28.6 L254.3,28.6 L254.7,28.6 L255.0,28.6 L255.3,28.6 L255.6,28.6 L256.0,28.6 L256.3,28.6 L256.6,28.6 L256.9,28.6 L257.3,28.6 L257.6,28.6 L257.9,28.6 L258.2,28.6 L258.5,28.6 L258.9,28.6 L259.2,28.6 L259.5,28.6 L259.8,28.6 L260.2,28.6 L260.5,28.6 L260.8,28.6 L261.1,28.6 L261.5,28.6 L261.8,28.6 L262.1,28.6 L262.4,28.6 L262.8,28.6 L263.1,28.6 L263.4,28.6 L263.7,28.6 L264.0,28.6 L264.4,28.6 L264.7,28.6 L265.0,28.6 L265.3,28.6 L265.7,28.6 L266.0,28.6 L266.3,28.6 L266.6,28.6 L267.0,28.6 L267.3,28.6 L267.6,28.6 L267.9,28.6 L268.3,28.6 L268.6,28.6 L268.9,28.6 L269.2,28.6 L269.5,28.6 L269.9,28.6 L270.2,28.6 L270.5,28.6 L270.8,28.6 L271.2,28.6 L271.5,28.6 L271.8,28.6 L272.1,28.6 L272.5,28.6 L272.8,28.6 L273.1,28.6 L273.4,28.6 L273.8,28.6 L274.1,28.6 L274.4,28.6 L274.7,28.6 L275.1,28.6 L275.4,28.6 L275.7,28.6 L276.0,28.6 L276.3,28.6 L276.7,28.6 L277.0,28.6 L277.3,28.6 L277.6,28.6 L278.0,28.6 L278.3,28.6 L278.6,28.6 L278.9,28.6 L279.3,28.6 L279.6,28.6 L279.9,28.6 L280.2,28.6 L280.6,28.6 L280.9,28.6 L281.2,28.6 L281.5,28.6 L281.8,28.6 L282.2,28.6 L282.5,28.6 L282.8,28.6 L283.1,28.6 L283.5,28.6 L283.8,28.6 L284.1,28.6 L284.4,28.6 L284.8,28.6 L285.1,28.6 L285.4,28.6 L285.7,28.6 L286.1,28.6 L286.4,28.6 L286.7,28.6 L287.0,28.6 L287.3,28.6 L287.7,28.6 L288.0,28.6 L288.3,28.6 L288.6,28.6 L289.0,28.6 L289.3,28.6 L289.6,28.6 L289.9,28.6 L290.3,28.6 L290.6,28.6 L290.9,28.6 L291.2,28.6 L291.6,28.6 L291.9,28.6 L292.2,28.6 L292.5,28.6 L292.8,28.6 L293.2,28.6 L293.5,28.6 L293.8,28.6 L294.1,28.6 L294.5,28.6 L294.8,28.6 L295.1,28.6 L295.4,28.6 L295.8,28.6 L296.1,28.6 L296.4,28.6 L296.7,28.6 L297.1,28.6 L297.4,28.6 L297.7,28.6 L298.0,28.6 L298.4,28.6 L298.7,28.6 L299.0,28.6 L299.3,28.6 L299.6,28.6 L300.0,28.6 L300.3,28.6 L300.6,28.6 L300.9,28.6 L301.3,28.6 L301.6,28.6 L301.9,28.6 L302.2,28.6 L302.6,28.6 L302.9,28.6 L303.2,28.6 L303.5,28.6 L303.9,28.6 L304.2,28.6 L304.5,28.6 L304.8,28.6 L305.1,28.6 L305.5,28.6 L305.8,28.6 L306.1,28.6 L306.4,28.6 L306.8,28.6 L307.1,28.6 L307.4,28.6 L307.7,28.6 L308.1,28.6 L308.4,28.6 L308.7,28.6 L309.0,28.6 L309.4,28.6 L309.7,28.6 L310.0,28.6 L310.3,28.6 L310.6,28.6 L311.0,28.6 L311.3,28.6 L311.6,28.6 L311.9,28.6 L312.3,28.6 L312.6,28.6 L312.9,28.6 L313.2,28.6 L313.6,28.6 L313.9,28.6 L314.2,28.6 L314.5,28.6 L314.9,28.6 L315.2,28.6 L315.5,28.6 L315.8,28.6 L316.1,28.6 L316.5,28.6 L316.8,28.6 L317.1,28.6 L317.4,28.6 L317.8,28.6 L318.1,28.6 L318.4,28.6 L318.7,28.6 L319.1,28.6 L319.4,28.6 L319.7,28.6 L320.0,28.6 L320.4,28.6 L320.7,28.6 L321.0,28.6 L321.3,28.6 L321.7,28.6 L322.0,28.6 L322.3,28.6 L322.6,28.6 L322.9,28.6 L323.3,28.6 L323.6,28.6 L323.9,28.6 L324.2,28.6 L324.6,28.6 L324.9,28.6 L325.2,28.6 L325.5,28.6 L325.9,28.6 L326.2,28.6 L326.5,28.6 L326.8,28.6 L327.2,28.6 L327.5,28.6 L327.8,28.6 L328.1,28.6 L328.4,28.6 L328.8,28.6 L329.1,28.6 L329.4,28.6 L329.7,28.6 L330.1,28.6 L330.4,28.6 L330.7,28.6 L331.0,28.6 L331.4,28.6 L331.7,28.6 L332.0,28.6 L332.3,28.6 L332.7,28.6 L333.0,28.6 L333.3,28.6 L333.6,28.6 L333.9,28.6 L334.3,28.6 L334.6,28.6 L334.9,28.6 L335.2,28.6 L335.6,28.6 L335.9,28.6 L336.2,28.6 L336.5,28.6 L336.9,28.6 L337.2,28.6 L337.5,28.6 L337.8,28.6 L338.2,28.6 L338.5,28.6 L338.8,28.6 L339.1,28.6 L339.5,28.6 L339.8,28.6 L340.1,28.6 L340.4,28.6 L340.7,28.6 L341.1,28.6 L341.4,28.6 L341.7,28.6 L342.0,28.6 L342.4,28.6 L342.7,28.6 L343.0,28.6 L343.3,28.6 L343.7,28.6 L344.0,28.6 L344.3,28.6 L344.6,28.6 L345.0,28.6 L345.3,28.6 L345.6,28.6 L345.9,28.6 L346.2,28.6 L346.6,28.6 L346.9,28.6 L347.2,28.6 L347.5,28.6 L347.9,28.6 L348.2,28.6 L348.5,28.6 L348.8,28.6 L349.2,28.6 L349.5,28.6 L349.8,28.6 L350.1,28.6 L350.5,28.6 L350.8,28.6 L351.1,28.6 L351.4,28.6 L351.7,28.6 L352.1,28.6 L352.4,28.6 L352.7,28.6 L353.0,28.6 L353.4,28.6 L353.7,28.6 L354.0,28.6 L354.3,28.6 L354.7,28.6 L355.0,28.6 L355.3,28.6 L355.6,28.6 L356.0,28.6 L356.3,28.6 L356.6,28.6 L356.9,28.6 L357.2,28.6 L357.6,28.6 L357.9,28.6 L358.2,28.6 L358.5,28.6 L358.9,28.6 L359.2,28.6 L359.5,28.6 L359.8,28.6 L360.2,28.6 L360.5,28.6 L360.8,28.6 L361.1,28.6 L361.5,28.6 L361.8,28.6 L362.1,28.6 L362.4,28.6 L362.8,28.6 L363.1,28.6 L363.4,28.6 L363.7,28.6 L364.0,28.6 L364.4,28.6 L364.7,28.6 L365.0,28.6 L365.3,28.6 L365.7,28.6 L366.0,28.6 L366.3,28.6 L366.6,28.6 L367.0,28.6 L367.3,28.6 L367.6,28.6 L367.9,28.6 L368.3,28.6 L368.6,28.6 L368.9,28.6 L369.2,28.6 L369.5,28.6 L369.9,28.6 L370.2,28.6 L370.5,28.6 L370.8,28.6 L371.2,28.6 L371.5,28.6 L371.8,28.6 L372.1,28.6 L372.5,28.6 L372.8,28.6 L373.1,28.6 L373.4,28.6 L373.8,28.6 L374.1,28.6 L374.4,28.6 L374.7,28.6 L375.0,28.6 L375.4,28.6 L375.7,28.6 L376.0,28.6 L376.3,28.6 L376.7,28.6 L377.0,28.6 L377.3,28.6 L377.6,28.6 L378.0,28.6 L378.3,28.6 L378.6,28.6 L378.9,28.6 L379.3,28.6 L379.6,28.6 L379.9,28.6 L380.2,28.6 L380.5,28.6 L380.9,28.6 L381.2,28.6 L381.5,28.6 L381.8,28.6 L382.2,28.6 L382.5,28.6 L382.8,28.6 L383.1,28.6 L383.5,28.6 L383.8,28.6 L384.1,28.6 L384.4,28.6 L384.8,28.6 L385.1,28.6 L385.4,28.6 L385.7,28.6 L386.1,28.6 L386.4,28.6 L386.7,28.6 L387.0,28.6 L387.3,28.6 L387.7,28.6 L388.0,28.6 L388.3,28.6 L388.6,28.6 L389.0,28.6 L389.3,28.6 L389.6,28.6 L389.9,28.6 L390.3,28.6 L390.6,28.6 L390.9,28.6 L391.2,28.6 L391.6,28.6 L391.9,28.6 L392.2,28.6 L392.5,28.6 L392.8,28.6 L393.2,28.6 L393.5,28.6 L393.8,28.6 L394.1,28.6 L394.5,28.6 L394.8,28.6 L395.1,28.6 L395.4,28.6 L395.8,28.6 L396.1,28.6 L396.4,28.6 L396.7,28.6 L397.1,28.6 L397.4,28.6 L397.7,28.6 L398.0,28.6 L398.3,28.6 L398.7,28.6 L399.0,28.6 L399.3,28.6 L399.6,28.6 L400.0,28.6 L400.3,28.6 L400.6,28.6 L400.9,28.6 L401.3,28.6 L401.6,28.6 L401.9,28.6 L402.2,28.6 L402.6,28.6 L402.9,28.6 L403.2,28.6 L403.5,28.6 L403.8,28.6 L404.2,28.6 L404.5,28.6 L404.8,28.6 L405.1,28.6 L405.5,28.6 L405.8,28.6 L406.1,28.6 L406.4,28.6 L406.8,28.6 L407.1,28.6 L407.4,28.6 L407.7,28.6 L408.1,28.6 L408.4,28.6 L408.7,28.6 L409.0,28.6 L409.4,28.6 L409.7,28.6 L410.0,28.6 L410.3,28.6 L410.6,28.6 L411.0,28.6 L411.3,28.6 L411.6,28.6 L411.9,28.6 L412.3,28.6 L412.6,28.6 L412.9,28.6 L413.2,28.6 L413.6,28.6 L413.9,28.6 L414.2,28.6 L414.5,28.6 L414.9,28.6 L415.2,28.6 L415.5,28.6 L415.8,28.6 L416.1,28.6 L416.5,28.6 L416.8,28.6 L417.1,28.6 L417.4,28.6 L417.8,28.6 L418.1,28.6 L418.4,28.6 L418.7,28.6 L419.1,28.6 L419.4,28.6 L419.7,28.6 L420.0,28.6 L420.4,28.6 L420.7,28.6 L421.0,28.6 L421.3,28.6 L421.6,28.6 L422.0,28.6 L422.3,28.6 L422.6,28.6 L422.9,28.6 L423.3,28.6 L423.6,28.6 L423.9,28.6 L424.2,28.6 L424.6,28.6 L424.9,28.6 L425.2,28.6 L425.5,28.6 L425.9,28.6 L426.2,28.6 L426.5,28.6 L426.8,28.6 L427.1,28.6 L427.5,28.6 L427.8,28.6 L428.1,28.6 L428.4,28.6 L428.8,28.6 L429.1,28.6 L429.4,28.6 L429.7,28.6 L430.1,28.6 L430.4,28.6 L430.7,28.6 L431.0,28.6 L431.4,28.6 L431.7,28.6 L432.0,28.6 L432.3,28.6 L432.7,28.6 L433.0,28.6 L433.3,28.6 L433.6,28.6 L433.9,28.6 L434.3,28.6 L434.6,28.6 L434.9,28.6 L435.2,28.6 L435.6,28.6 L435.9,28.6 L436.2,28.6 L436.5,28.6 L436.9,28.6 L437.2,28.6 L437.5,28.6 L437.8,28.6 L438.2,28.6 L438.5,28.6 L438.8,28.6 L439.1,28.6 L439.4,28.6 L439.8,28.6 L440.1,28.6 L440.4,28.6 L440.7,28.6 L441.1,28.6 L441.4,28.6 L441.7,28.6 L442.0,28.6 L442.4,28.6 L442.7,28.6 L443.0,28.6 L443.3,28.6 L443.7,28.6 L444.0,28.6 L444.3,28.6 L444.6,28.6 L444.9,28.6 L445.3,28.6 L445.6,28.6 L445.9,28.6 L446.2,28.6 L446.6,28.6 L446.9,28.6 L447.2,28.6 L447.5,28.6 L447.9,28.6 L448.2,28.6 L448.5,28.6 L448.8,28.6 L449.2,28.6 L449.5,28.6 L449.8,28.6 L450.1,28.6 L450.5,28.6 L450.8,28.6 L451.1,28.6 L451.4,28.6 L451.7,28.6 L452.1,28.6 L452.4,28.6 L452.7,28.6 L453.0,28.6 L453.4,28.6 L453.7,28.6 L454.0,28.6 L454.3,28.6 L454.7,28.6 L455.0,28.6 L455.3,28.6 L455.6,28.6 L456.0,28.6 L456.3,28.6 L456.6,28.6 L456.9,28.6 L457.2,28.6 L457.6,28.6 L457.9,28.6 L458.2,28.6 L458.5,28.6 L458.9,28.6 L459.2,28.6 L459.5,28.6 L459.8,28.6 L460.2,28.6 L460.5,28.6 L460.8,28.6 L461.1,28.6 L461.5,28.6 L461.8,28.6 L462.1,28.6 L462.4,28.6 L462.7,28.6 L463.1,28.6 L463.4,28.6 L463.7,28.6 L464.0,28.6 L464.4,28.6 L464.7,28.6 L465.0,28.6 L465.3,28.6 L465.7,28.6 L466.0,28.6 L466.3,28.6 L466.6,28.6 L467.0,28.6 L467.3,28.6 L467.6,28.6 L467.9,28.6 L468.2,28.6 L468.6,28.6 L468.9,28.6 L469.2,28.6 L469.5,28.6 L469.9,28.6 L470.2,28.6 L470.5,28.6 L470.8,28.6 L471.2,28.6 L471.5,28.6 L471.8,28.6 L472.1,28.6 L472.5,28.6 L472.8,28.6 L473.1,28.6 L473.4,28.6 L473.8,28.6 L474.1,28.6 L474.4,28.6 L474.7,28.6 L475.0,28.6 L475.4,28.6 L475.7,28.6 L476.0,28.6 L476.3,28.6 L476.7,28.6 L477.0,28.6 L477.3,28.6 L477.6,28.6 L478.0,28.6 L478.3,28.6 L478.6,28.6 L478.9,28.6 L479.3,28.6 L479.6,28.6 L479.9,28.6 L480.2,28.6 L480.5,28.6 L480.9,28.6 L481.2,28.6 L481.5,28.6 L481.8,28.6 L482.2,28.6 L482.5,28.6 L482.8,28.6 L483.1,28.6 L483.5,28.6 L483.8,28.6 L484.1,28.6 L484.4,28.6 L484.8,28.6 L485.1,28.6 L485.4,28.6 L485.7,28.6 L486.0,28.6 L486.4,28.6 L486.7,28.6 L487.0,28.6 L487.3,28.6 L487.7,28.6 L488.0,28.6 L488.3,28.6 L488.6,28.6 L489.0,28.6 L489.3,28.6 L489.6,28.6 L489.9,28.6 L490.3,28.6 L490.6,28.6 L490.9,28.6 L491.2,28.6 L491.5,28.6 L491.9,28.6 L492.2,28.6 L492.5,28.6 L492.8,28.6 L493.2,28.6 L493.5,28.6 L493.8,28.6 L494.1,28.6 L494.5,28.6 L494.8,28.6 L495.1,28.6 L495.4,28.6 L495.8,28.6 L496.1,28.6 L496.4,28.6 L496.7,28.6 L497.1,28.6 L497.4,28.6 L497.7,28.6 L498.0,28.6 L498.3,28.6 L498.7,28.6 L499.0,28.6 L499.3,28.6 L499.6,28.6 L500.0,28.6 L500.3,28.6 L500.6,28.6 L500.9,28.6 L501.3,28.6 L501.6,28.6 L501.9,28.6 L502.2,28.6 L502.6,28.6 L502.9,28.6 L503.2,28.6 L503.5,28.6 L503.8,28.6 L504.2,28.6 L504.5,28.6 L504.8,28.6 L505.1,28.6 L505.5,28.6 L505.8,28.6 L506.1,28.6 L506.4,28.6 L506.8,28.6 L507.1,28.6 L507.4,28.6 L507.7,28.6 L508.1,28.6 L508.4,28.6 L508.7,28.6 L509.0,28.6 L509.3,28.6 L509.7,28.6 L510.0,28.6 L510.3,28.6 L510.6,28.6 L511.0,28.6 L511.3,28.6 L511.6,28.6 L511.9,28.6 L512.3,28.6 L512.6,28.6 L512.9,28.6 L513.2,28.6 L513.6,28.6 L513.9,28.6 L514.2,28.6 L514.5,28.6 L514.8,28.6 L515.2,28.6 L515.5,28.6 L515.8,28.6 L516.1,28.6 L516.5,28.6 L516.8,28.6 L517.1,28.6 L517.4,28.6 L517.8,28.6 L518.1,28.6 L518.4,28.6 L518.7,28.6 L519.1,28.6 L519.4,28.6 L519.7,28.6 L520.0,28.6 L520.4,28.6 L520.7,28.6 L521.0,28.6 L521.3,28.6 L521.6,28.6 L522.0,28.6 L522.3,28.6 L522.6,28.6 L522.9,28.6 L523.3,28.6 L523.6,28.6 L523.9,28.6 L524.2,28.6 L524.6,28.6 L524.9,28.6 L525.2,28.6 L525.5,28.6 L525.9,28.6 L526.2,28.6 L526.5,28.6" stroke="#ff0000" stroke-width="1.25" fill="none"/>
<ellipse cx="175.1" cy="30.4" rx="22.9" ry="11.4" fill="none" stroke="#8c8c8c" stroke-width="0.9"/>
<path d="M189.1,40.5 L206.5,55.6" stroke="#555" stroke-width="0.9" fill="none"/>
<path d="M208.3,57.3 L202.9,55.2 L205.6,52.4 Z" fill="#333"/>
<rect x="192.2" y="59.7" width="58.30" height="38.70" fill="#fff" stroke="#b8b8b8" stroke-width="1"/>
<path d="M192.2,94.3 L192.4,94.1 L192.6,93.8 L192.8,93.5 L193.0,93.3 L193.2,93.0 L193.4,92.7 L193.6,92.5 L193.8,92.2 L194.0,92.0 L194.1,91.7 L194.3,91.4 L194.5,91.2 L194.7,90.9 L194.9,90.7 L195.1,90.4 L195.3,90.1 L195.5,89.9 L195.7,89.6 L195.9,89.4 L196.1,89.1 L196.3,88.9 L196.5,88.6 L196.7,88.4 L196.9,88.1 L197.1,87.9 L197.3,87.7 L197.5,87.4 L197.7,87.2 L197.9,86.9 L198.0,86.7 L198.2,86.5 L198.4,86.2 L198.6,86.0 L198.8,85.8 L199.0,85.5 L199.2,85.3 L199.4,85.1 L199.6,84.8 L199.8,84.6 L200.0,84.4 L200.2,84.2 L200.4,83.9 L200.6,83.7 L200.8,83.5 L201.0,83.3 L201.2,83.1 L201.4,82.9 L201.6,82.7 L201.8,82.4 L201.9,82.2 L202.1,82.0 L202.3,81.8 L202.5,81.6 L202.7,81.4 L202.9,81.2 L203.1,81.0 L203.3,80.8 L203.5,80.6 L203.7,80.4 L203.9,80.3 L204.1,80.1 L204.3,79.9 L204.5,79.7 L204.7,79.5 L204.9,79.3 L205.1,79.2 L205.3,79.0 L205.5,78.8 L205.7,78.6 L205.8,78.5 L206.0,78.3 L206.2,78.1 L206.4,78.0 L206.6,77.8 L206.8,77.6 L207.0,77.5 L207.2,77.3 L207.4,77.2 L207.6,77.0 L207.8,76.9 L208.0,76.7 L208.2,76.6 L208.4,76.4 L208.6,76.3 L208.8,76.1 L209.0,76.0 L209.2,75.9 L209.4,75.7 L209.6,75.6 L209.7,75.5 L209.9,75.3 L210.1,75.2 L210.3,75.1 L210.5,75.0 L210.7,74.8 L210.9,74.7 L211.1,74.6 L211.3,74.5 L211.5,74.4 L211.7,74.3 L211.9,74.2 L212.1,74.0 L212.3,73.9 L212.5,73.8 L212.7,73.7 L212.9,73.6 L213.1,73.5 L213.3,73.4 L213.5,73.3 L213.6,73.2 L213.8,73.2 L214.0,73.1 L214.2,73.0 L214.4,72.9 L214.6,72.8 L214.8,72.7 L215.0,72.6 L215.2,72.6 L215.4,72.5 L215.6,72.4 L215.8,72.3 L216.0,72.2 L216.2,72.2 L216.4,72.1 L216.6,72.0 L216.8,72.0 L217.0,71.9 L217.2,71.8 L217.4,71.8 L217.5,71.7 L217.7,71.6 L217.9,71.6 L218.1,71.5 L218.3,71.5 L218.5,71.4 L218.7,71.3 L218.9,71.3 L219.1,71.2 L219.3,71.2 L219.5,71.1 L219.7,71.1 L219.9,71.0 L220.1,71.0 L220.3,70.9 L220.5,70.9 L220.7,70.8 L220.9,70.8 L221.1,70.8 L221.3,70.7 L221.4,70.7 L221.6,70.6 L221.8,70.6 L222.0,70.5 L222.2,70.5 L222.4,70.5 L222.6,70.4 L222.8,70.4 L223.0,70.4 L223.2,70.3 L223.4,70.3 L223.6,70.3 L223.8,70.2 L224.0,70.2 L224.2,70.2 L224.4,70.1 L224.6,70.1 L224.8,70.1 L225.0,70.1 L225.2,70.0 L225.3,70.0 L225.5,70.0 L225.7,70.0 L225.9,69.9 L226.1,69.9 L226.3,69.9 L226.5,69.9 L226.7,69.8 L226.9,69.8 L227.1,69.8 L227.3,69.8 L227.5,69.8 L227.7,69.7 L227.9,69.7 L228.1,69.7 L228.3,69.7 L228.5,69.7 L228.7,69.7 L228.9,69.6 L229.1,69.6 L229.2,69.6 L229.4,69.6 L229.6,69.6 L229.8,69.6 L230.0,69.5 L230.2,69.5 L230.4,69.5 L230.6,69.5 L230.8,69.5 L231.0,69.5 L231.2,69.5 L231.4,69.5 L231.6,69.4 L231.8,69.4 L232.0,69.4 L232.2,69.4 L232.4,69.4 L232.6,69.4 L232.8,69.4 L233.0,69.4 L233.1,69.4 L233.3,69.3 L233.5,69.3 L233.7,69.3 L233.9,69.3 L234.1,69.3 L234.3,69.3 L234.5,69.3 L234.7,69.3 L234.9,69.3 L235.1,69.3 L235.3,69.3 L235.5,69.3 L235.7,69.3 L235.9,69.2 L236.1,69.2 L236.3,69.2 L236.5,69.2 L236.7,69.2 L236.9,69.2 L237.0,69.2 L237.2,69.2 L237.4,69.2 L237.6,69.2 L237.8,69.2 L238.0,69.2 L238.2,69.2 L238.4,69.2 L238.6,69.2 L238.8,69.2 L239.0,69.2 L239.2,69.2 L239.4,69.1 L239.6,69.1 L239.8,69.1 L240.0,69.1 L240.2,69.1 L240.4,69.1 L240.6,69.1 L240.8,69.1 L240.9,69.1 L241.1,69.1 L241.3,69.1 L241.5,69.1 L241.7,69.1 L241.9,69.1 L242.1,69.1 L242.3,69.1 L242.5,69.1 L242.7,69.1 L242.9,69.1 L243.1,69.1 L243.3,69.1 L243.5,69.1 L243.7,69.1 L243.9,69.1 L244.1,69.1 L244.3,69.1 L244.5,69.1 L244.7,69.1 L244.8,69.1 L245.0,69.1 L245.2,69.1 L245.4,69.1 L245.6,69.1 L245.8,69.1 L246.0,69.1 L246.2,69.1 L246.4,69.1 L246.6,69.0 L246.8,69.0 L247.0,69.0 L247.2,69.0 L247.4,69.0 L247.6,69.0 L247.8,69.0 L248.0,69.0 L248.2,69.0 L248.4,69.0 L248.6,69.0 L248.7,69.0 L248.9,69.0 L249.1,69.0 L249.3,69.0 L249.5,69.0 L249.7,69.0 L249.9,69.0 L250.1,69.0 L250.3,69.0 L250.5,69.0" stroke="#0000ff" stroke-width="1.25" fill="none"/>
<path d="M192.2,88.0 L192.4,87.7 L192.6,87.4 L192.8,87.1 L193.0,86.9 L193.2,86.6 L193.4,86.3 L193.6,86.0 L193.8,85.7 L194.0,85.4 L194.1,85.1 L194.3,84.9 L194.5,84.6 L194.7,84.3 L194.9,84.0 L195.1,83.7 L195.3,83.5 L195.5,83.2 L195.7,82.9 L195.9,82.6 L196.1,82.4 L196.3,82.1 L196.5,81.8 L196.7,81.6 L196.9,81.3 L197.1,81.0 L197.3,80.8 L197.5,80.5 L197.7,80.3 L197.9,80.0 L198.0,79.8 L198.2,79.5 L198.4,79.3 L198.6,79.0 L198.8,78.8 L199.0,78.6 L199.2,78.3 L199.4,78.1 L199.6,77.9 L199.8,77.6 L200.0,77.4 L200.2,77.2 L200.4,77.0 L200.6,76.8 L200.8,76.6 L201.0,76.4 L201.2,76.1 L201.4,75.9 L201.6,75.8 L201.8,75.6 L201.9,75.4 L202.1,75.2 L202.3,75.0 L202.5,74.8 L202.7,74.7 L202.9,74.5 L203.1,74.3 L203.3,74.2 L203.5,74.0 L203.7,73.9 L203.9,73.7 L204.1,73.6 L204.3,73.4 L204.5,73.3 L204.7,73.2 L204.9,73.0 L205.1,72.9 L205.3,72.8 L205.5,72.7 L205.7,72.6 L205.8,72.5 L206.0,72.4 L206.2,72.3 L206.4,72.2 L206.6,72.1 L206.8,72.0 L207.0,71.9 L207.2,71.8 L207.4,71.7 L207.6,71.6 L207.8,71.6 L208.0,71.5 L208.2,71.4 L208.4,71.4 L208.6,71.3 L208.8,71.2 L209.0,71.2 L209.2,71.1 L209.4,71.1 L209.6,71.0 L209.7,71.0 L209.9,70.9 L210.1,70.9 L210.3,70.8 L210.5,70.8 L210.7,70.8 L210.9,70.7 L211.1,70.7 L211.3,70.7 L211.5,70.6 L211.7,70.6 L211.9,70.6 L212.1,70.5 L212.3,70.5 L212.5,70.5 L212.7,70.5 L212.9,70.4 L213.1,70.4 L213.3,70.4 L213.5,70.4 L213.6,70.4 L213.8,70.4 L214.0,70.3 L214.2,70.3 L214.4,70.3 L214.6,70.3 L214.8,70.3 L215.0,70.3 L215.2,70.2 L215.4,70.2 L215.6,70.2 L215.8,70.2 L216.0,70.2 L216.2,70.2 L216.4,70.2 L216.6,70.2 L216.8,70.2 L217.0,70.2 L217.2,70.2 L217.4,70.1 L217.5,70.1 L217.7,70.1 L217.9,70.1 L218.1,70.1 L218.3,70.1 L218.5,70.1 L218.7,70.1 L218.9,70.1 L219.1,70.1 L219.3,70.1 L219.5,70.1 L219.7,70.1 L219.9,70.1 L220.1,70.1 L220.3,70.1 L220.5,70.1 L220.7,70.1 L220.9,70.1 L221.1,70.1 L221.3,70.1 L221.4,70.1 L221.6,70.1 L221.8,70.1 L222.0,70.1 L222.2,70.1 L222.4,70.1 L222.6,70.1 L222.8,70.0 L223.0,70.0 L223.2,70.0 L223.4,70.0 L223.6,70.0 L223.8,70.0 L224.0,70.0 L224.2,70.0 L224.4,70.0 L224.6,70.0 L224.8,70.0 L225.0,70.0 L225.2,70.0 L225.3,70.0 L225.5,70.0 L225.7,70.0 L225.9,70.0 L226.1,70.0 L226.3,70.0 L226.5,70.0 L226.7,70.0 L226.9,70.0 L227.1,70.0 L227.3,70.0 L227.5,70.0 L227.7,70.0 L227.9,70.0 L228.1,70.0 L228.3,70.0 L228.5,70.0 L228.7,70.0 L228.9,70.0 L229.1,70.0 L229.2,70.0 L229.4,70.0 L229.6,70.0 L229.8,70.0 L230.0,70.0 L230.2,70.0 L230.4,70.0 L230.6,70.0 L230.8,70.0 L231.0,70.0 L231.2,70.0 L231.4,70.0 L231.6,70.0 L231.8,70.0 L232.0,70.0 L232.2,70.0 L232.4,70.0 L232.6,70.0 L232.8,70.0 L233.0,70.0 L233.1,70.0 L233.3,70.0 L233.5,70.0 L233.7,70.0 L233.9,70.0 L234.1,70.0 L234.3,70.0 L234.5,70.0 L234.7,70.0 L234.9,70.0 L235.1,70.0 L235.3,70.0 L235.5,70.0 L235.7,70.0 L235.9,70.0 L236.1,70.0 L236.3,70.0 L236.5,70.0 L236.7,70.0 L236.9,70.0 L237.0,70.0 L237.2,70.0 L237.4,70.0 L237.6,70.0 L237.8,70.0 L238.0,70.0 L238.2,70.0 L238.4,70.0 L238.6,70.0 L238.8,70.0 L239.0,70.0 L239.2,70.0 L239.4,70.0 L239.6,70.0 L239.8,70.0 L240.0,70.0 L240.2,70.0 L240.4,70.0 L240.6,70.0 L240.8,70.0 L240.9,70.0 L241.1,70.0 L241.3,70.0 L241.5,70.0 L241.7,70.0 L241.9,70.0 L242.1,70.0 L242.3,70.0 L242.5,70.0 L242.7,70.0 L242.9,70.0 L243.1,70.0 L243.3,70.0 L243.5,70.0 L243.7,70.0 L243.9,70.0 L244.1,70.0 L244.3,70.0 L244.5,70.0 L244.7,70.0 L244.8,70.0 L245.0,70.0 L245.2,70.0 L245.4,70.0 L245.6,70.0 L245.8,70.0 L246.0,70.0 L246.2,70.0 L246.4,70.0 L246.6,70.0 L246.8,70.0 L247.0,70.0 L247.2,70.0 L247.4,70.0 L247.6,70.0 L247.8,70.0 L248.0,70.0 L248.2,70.0 L248.4,70.0 L248.6,70.0 L248.7,70.0 L248.9,70.0 L249.1,70.0 L249.3,70.0 L249.5,70.0 L249.7,70.0 L249.9,70.0 L250.1,70.0 L250.3,70.0 L250.5,70.0" stroke="#ff0000" stroke-width="1.25" fill="none"/>
<path d="M192.2,98.40h2.5 M250.5,98.40h-2.5 M192.2,85.50h2.5 M250.5,85.50h-2.5 M192.2,72.60h2.5 M250.5,72.60h-2.5 M192.2,59.70h2.5 M250.5,59.70h-2.5 M192.20,98.4v-2.5 M192.20,59.7v2.5 M233.84,98.4v-2.5 M233.84,59.7v2.5" stroke="#dddddd" stroke-width="0.6" fill="none"/>
<text x="189.40" y="101.60" text-anchor="end" font-size="9.2">10</text>
<text x="189.40" y="88.70" text-anchor="end" font-size="9.2">10.5</text>
<text x="189.40" y="75.80" text-anchor="end" font-size="9.2">11</text>
<text x="189.40" y="62.90" text-anchor="end" font-size="9.2">11.5</text>
<text x="192.20" y="110.00" text-anchor="middle" font-size="9.2">0.25</text>
<text x="233.84" y="110.00" text-anchor="middle" font-size="9.2">0.3</text>
<rect x="445.1" y="35.0" width="79.40" height="25.50" fill="#fff" stroke="#a9a9a9" stroke-width="1"/>
<path d="M451,41.7H464.5" stroke="#0000ff" stroke-width="1.5"/>
<path d="M451,53.9H464.5" stroke="#ff0000" stroke-width="1.5"/>
<text x="466" y="45.30" font-size="9.4" font-style="italic">FOC_Speed</text>
<text x="466" y="57.50" font-size="9.4" font-style="italic">MPSC_Speed</text>
<text transform="translate(19.5,106) rotate(-90)" text-anchor="middle" font-size="15" font-style="italic">Speed(m/s)</text>
<rect x="45.10" y="243.60" width="486.10" height="177.30" fill="none" stroke="#a9a9a9" stroke-width="1.1"/>
<path d="M45.10,420.90v-4.5 M45.10,243.60v4.5 M93.71,420.90v-4.5 M93.71,243.60v4.5 M142.32,420.90v-4.5 M142.32,243.60v4.5 M190.93,420.90v-4.5 M190.93,243.60v4.5 M239.54,420.90v-4.5 M239.54,243.60v4.5 M288.15,420.90v-4.5 M288.15,243.60v4.5 M336.76,420.90v-4.5 M336.76,243.60v4.5 M385.37,420.90v-4.5 M385.37,243.60v4.5 M433.98,420.90v-4.5 M433.98,243.60v4.5 M482.59,420.90v-4.5 M482.59,243.60v4.5 M531.20,420.90v-4.5 M531.20,243.60v4.5 M45.10,403.50h4.5 M531.20,403.50h-4.5 M45.10,377.33h4.5 M531.20,377.33h-4.5 M45.10,351.17h4.5 M531.20,351.17h-4.5 M45.10,325.00h4.5 M531.20,325.00h-4.5 M45.10,298.84h4.5 M531.20,298.84h-4.5 M45.10,272.68h4.5 M531.20,272.68h-4.5 M45.10,246.51h4.5 M531.20,246.51h-4.5" stroke="#a9a9a9" stroke-width="1" fill="none"/>
<text x="45.10" y="437.30" text-anchor="middle" font-size="13.3">0</text>
<text x="93.71" y="437.30" text-anchor="middle" font-size="13.3">0.1</text>
<text x="142.32" y="437.30" text-anchor="middle" font-size="13.3">0.2</text>
<text x="190.93" y="437.30" text-anchor="middle" font-size="13.3">0.3</text>
<text x="239.54" y="437.30" text-anchor="middle" font-size="13.3">0.4</text>
<text x="288.15" y="437.30" text-anchor="middle" font-size="13.3">0.5</text>
<text x="336.76" y="437.30" text-anchor="middle" font-size="13.3">0.6</text>
<text x="385.37" y="437.30" text-anchor="middle" font-size="13.3">0.7</text>
<text x="433.98" y="437.30" text-anchor="middle" font-size="13.3">0.8</text>
<text x="482.59" y="437.30" text-anchor="middle" font-size="13.3">0.9</text>
<text x="531.20" y="437.30" text-anchor="middle" font-size="13.3">1</text>
<text x="41.50" y="408.50" text-anchor="end" font-size="13.3">0</text>
<text x="41.50" y="382.33" text-anchor="end" font-size="13.3">0.5</text>
<text x="41.50" y="356.17" text-anchor="end" font-size="13.3">1</text>
<text x="41.50" y="330.00" text-anchor="end" font-size="13.3">1.5</text>
<text x="41.50" y="303.84" text-anchor="end" font-size="13.3">2</text>
<text x="41.50" y="277.68" text-anchor="end" font-size="13.3">2.5</text>
<text x="41.50" y="251.51" text-anchor="end" font-size="13.3">3</text>
<text x="46.3" y="242.2" font-size="15">&#215;</text>
<text x="57.2" y="241.0" font-size="13.3" letter-spacing="-1.1">10</text>
<text x="70.2" y="234" font-size="9.6">4</text>
<path d="M45.1,402.7 L45.3,402.4 L45.4,402.0 L45.6,401.7 L45.7,401.3 L45.9,400.9 L46.1,400.4 L46.2,400.0 L46.4,399.5 L46.6,399.1 L46.7,398.5 L46.9,397.9 L47.0,397.3 L47.2,396.6 L47.4,396.0 L47.5,395.3 L47.7,394.6 L47.9,394.0 L48.0,393.5 L48.2,393.0 L48.3,392.6 L48.5,392.3 L48.7,392.0 L48.8,391.7 L49.0,391.4 L49.2,391.1 L49.3,390.9 L49.5,390.7 L49.6,390.4 L49.8,390.2 L50.0,389.9 L50.1,389.7 L50.3,389.4 L50.4,389.1 L50.6,388.7 L50.8,388.4 L50.9,388.1 L51.1,387.7 L51.3,387.4 L51.4,387.0 L51.6,386.6 L51.7,386.3 L51.9,385.9 L52.1,385.5 L52.2,385.1 L52.4,384.7 L52.6,384.3 L52.7,383.9 L52.9,383.5 L53.0,383.1 L53.2,382.7 L53.4,382.3 L53.5,381.9 L53.7,381.4 L53.9,381.0 L54.0,380.5 L54.2,380.1 L54.3,379.6 L54.5,379.2 L54.7,378.7 L54.8,378.2 L55.0,377.8 L55.1,377.3 L55.3,376.8 L55.5,376.3 L55.6,375.8 L55.8,375.3 L56.0,374.7 L56.1,374.2 L56.3,373.7 L56.4,373.1 L56.6,372.5 L56.8,372.0 L56.9,371.4 L57.1,370.8 L57.3,370.2 L57.4,369.6 L57.6,369.0 L57.7,368.4 L57.9,367.8 L58.1,367.2 L58.2,366.6 L58.4,366.0 L58.6,365.4 L58.7,364.7 L58.9,364.1 L59.0,363.5 L59.2,362.9 L59.4,362.2 L59.5,361.6 L59.7,361.0 L59.8,360.4 L60.0,359.8 L60.2,359.1 L60.3,358.5 L60.5,357.8 L60.7,357.2 L60.8,356.6 L61.0,355.9 L61.1,355.2 L61.3,354.6 L61.5,353.9 L61.6,353.3 L61.8,352.6 L62.0,351.9 L62.1,351.2 L62.3,350.6 L62.4,349.9 L62.6,349.2 L62.8,348.5 L62.9,347.8 L63.1,347.1 L63.3,346.4 L63.4,345.7 L63.6,345.0 L63.7,344.3 L63.9,343.6 L64.1,342.9 L64.2,342.2 L64.4,341.5 L64.6,340.7 L64.7,340.0 L64.9,339.3 L65.0,338.5 L65.2,337.8 L65.4,337.1 L65.5,336.3 L65.7,335.6 L65.8,334.8 L66.0,334.1 L66.2,333.3 L66.3,332.6 L66.5,331.8 L66.7,331.1 L66.8,330.3 L67.0,329.6 L67.1,328.9 L67.3,328.1 L67.5,327.4 L67.6,326.7 L67.8,326.0 L68.0,325.3 L68.1,324.5 L68.3,323.8 L68.4,323.1 L68.6,322.4 L68.8,321.7 L68.9,320.9 L69.1,320.2 L69.3,319.5 L69.4,318.8 L69.6,318.1 L69.7,317.3 L69.9,316.6 L70.1,315.9 L70.2,315.2 L70.4,314.5 L70.5,313.8 L70.7,313.1 L70.9,312.5 L71.0,311.8 L71.2,311.1 L71.4,310.5 L71.5,309.8 L71.7,309.2 L71.8,308.6 L72.0,307.9 L72.2,307.3 L72.3,306.7 L72.5,306.1 L72.7,305.5 L72.8,304.9 L73.0,304.3 L73.1,303.7 L73.3,303.1 L73.5,302.6 L73.6,302.0 L73.8,301.4 L74.0,300.9 L74.1,300.3 L74.3,299.8 L74.4,299.2 L74.6,298.7 L74.8,298.1 L74.9,297.6 L75.1,297.1 L75.2,296.6 L75.4,296.1 L75.6,295.6 L75.7,295.1 L75.9,294.6 L76.1,294.2 L76.2,293.7 L76.4,293.2 L76.5,292.8 L76.7,292.3 L76.9,291.9 L77.0,291.4 L77.2,291.0 L77.4,290.5 L77.5,290.1 L77.7,289.7 L77.8,289.3 L78.0,288.8 L78.2,288.4 L78.3,288.0 L78.5,287.6 L78.7,287.2 L78.8,286.8 L79.0,286.4 L79.1,286.0 L79.3,285.6 L79.5,285.2 L79.6,284.8 L79.8,284.4 L79.9,284.1 L80.1,283.7 L80.3,283.3 L80.4,282.9 L80.6,282.5 L80.8,282.1 L80.9,281.8 L81.1,281.4 L81.2,281.0 L81.4,280.6 L81.6,280.3 L81.7,279.9 L81.9,279.5 L82.1,279.2 L82.2,278.8 L82.4,278.4 L82.5,278.1 L82.7,277.7 L82.9,277.3 L83.0,277.0 L83.2,276.6 L83.4,276.3 L83.5,275.9 L83.7,275.6 L83.8,275.3 L84.0,274.9 L84.2,274.6 L84.3,274.3 L84.5,274.0 L84.6,273.6 L84.8,273.3 L85.0,273.0 L85.1,272.7 L85.3,272.4 L85.5,272.1 L85.6,271.8 L85.8,271.5 L85.9,271.2 L86.1,270.9 L86.3,270.6 L86.4,270.4 L86.6,270.1 L86.8,269.8 L86.9,269.5 L87.1,269.2 L87.2,269.0 L87.4,268.7 L87.6,268.5 L87.7,268.2 L87.9,268.0 L88.1,267.7 L88.2,267.5 L88.4,267.3 L88.5,267.1 L88.7,266.9 L88.9,266.8 L89.0,266.6 L89.2,266.4 L89.3,266.3 L89.5,266.1 L89.7,265.9 L89.8,265.8 L90.0,265.6 L90.2,265.4 L90.3,265.3 L90.5,265.1 L90.6,264.9 L90.8,264.8 L91.0,264.6 L91.1,264.5 L91.3,264.3 L91.5,264.2 L91.6,264.0 L91.8,263.9 L91.9,263.7 L92.1,263.6 L92.3,263.5 L92.4,263.4 L92.6,263.2 L92.8,263.1 L92.9,263.0 L93.1,262.9 L93.2,262.8 L93.4,262.7 L93.6,262.6 L93.7,262.5 L93.9,262.4 L94.1,262.4 L94.2,262.3 L94.4,262.2 L94.5,262.2 L94.7,262.1 L94.9,262.1 L95.0,262.1 L95.2,262.0 L95.3,262.0 L95.5,262.0 L95.7,262.0 L95.8,262.0 L96.0,262.0 L96.2,262.0 L96.3,262.1 L96.5,262.1 L96.6,262.1 L96.8,262.1 L97.0,262.1 L97.1,262.1 L97.3,262.2 L97.5,262.2 L97.6,262.2 L97.8,262.2 L97.9,262.3 L98.1,262.3 L98.3,262.3 L98.4,262.4 L98.6,262.4 L98.8,262.4 L98.9,262.5 L99.1,262.5 L99.2,262.5 L99.4,262.6 L99.6,262.6 L99.7,262.7 L99.9,262.7 L100.0,262.8 L100.2,262.8 L100.4,262.8 L100.5,262.9 L100.7,262.9 L100.9,263.0 L101.0,263.0 L101.2,263.1 L101.3,263.1 L101.5,263.2 L101.7,263.2 L101.8,263.3 L102.0,263.3 L102.2,263.4 L102.3,263.5 L102.5,263.5 L102.6,263.6 L102.8,263.6 L103.0,263.7 L103.1,263.7 L103.3,263.8 L103.5,263.9 L103.6,263.9 L103.8,264.0 L103.9,264.1 L104.1,264.2 L104.3,264.3 L104.4,264.3 L104.6,264.4 L104.7,264.5 L104.9,264.6 L105.1,264.7 L105.2,264.8 L105.4,264.9 L105.6,265.0 L105.7,265.2 L105.9,265.3 L106.0,265.4 L106.2,265.5 L106.4,265.6 L106.5,265.7 L106.7,265.9 L106.9,266.0 L107.0,266.1 L107.2,266.2 L107.3,266.4 L107.5,266.5 L107.7,266.6 L107.8,266.7 L108.0,266.9 L108.2,267.0 L108.3,267.1 L108.5,267.3 L108.6,267.4 L108.8,267.5 L109.0,267.6 L109.1,267.8 L109.3,267.9 L109.4,268.0 L109.6,268.2 L109.8,268.3 L109.9,268.4 L110.1,268.6 L110.3,268.7 L110.4,268.8 L110.6,269.0 L110.7,269.1 L110.9,269.3 L111.1,269.4 L111.2,269.6 L111.4,269.7 L111.6,269.9 L111.7,270.0 L111.9,270.2 L112.0,270.3 L112.2,270.5 L112.4,270.6 L112.5,270.8 L112.7,271.0 L112.9,271.1 L113.0,271.3 L113.2,271.5 L113.3,271.6 L113.5,271.8 L113.7,272.0 L113.8,272.1 L114.0,272.3 L114.1,272.5 L114.3,272.6 L114.5,272.8 L114.6,273.0 L114.8,273.1 L115.0,273.3 L115.1,273.5 L115.3,273.6 L115.4,273.8 L115.6,274.0 L115.8,274.1 L115.9,274.3 L116.1,274.5 L116.3,274.6 L116.4,274.8 L116.6,274.9 L116.7,275.1 L116.9,275.3 L117.1,275.4 L117.2,275.6 L117.4,275.8 L117.6,275.9 L117.7,276.1 L117.9,276.3 L118.0,276.4 L118.2,276.6 L118.4,276.8 L118.5,277.0 L118.7,277.1 L118.8,277.3 L119.0,277.5 L119.2,277.6 L119.3,277.8 L119.5,277.9 L119.7,278.1 L119.8,278.2 L120.0,278.4 L120.1,278.5 L120.3,278.6 L120.5,278.7 L120.6,278.8 L120.8,278.9 L121.0,279.0 L121.1,279.1 L121.3,279.2 L121.4,279.3 L121.6,279.4 L121.8,279.5 L121.9,279.6 L122.1,279.7 L122.3,279.8 L122.4,279.9 L122.6,280.0 L122.7,280.0 L122.9,280.1 L123.1,280.2 L123.2,280.3 L123.4,280.4 L123.6,280.4 L123.7,280.5 L123.9,280.6 L124.0,280.7 L124.2,280.7 L124.4,280.8 L124.5,280.9 L124.7,281.0 L124.8,281.0 L125.0,281.1 L125.2,281.2 L125.3,281.3 L125.5,281.4 L125.7,281.4 L125.8,281.5 L126.0,281.6 L126.1,281.7 L126.3,281.8 L126.5,281.9 L126.6,282.0 L126.8,282.1 L127.0,282.2 L127.1,282.3 L127.3,282.3 L127.4,282.4 L127.6,282.5 L127.8,282.6 L127.9,282.6 L128.1,282.7 L128.3,282.8 L128.4,282.8 L128.6,282.8 L128.7,282.9 L128.9,282.9 L129.1,282.9 L129.2,282.9 L129.4,282.9 L129.5,282.9 L129.7,282.9 L129.9,282.9 L130.0,282.8 L130.2,282.8 L130.4,282.8 L130.5,282.8 L130.7,282.8 L130.8,282.8 L131.0,282.8 L131.2,282.8 L131.3,282.7 L131.5,282.7 L131.7,282.7 L131.8,282.7 L132.0,282.7 L132.1,282.6 L132.3,282.6 L132.5,282.6 L132.6,282.6 L132.8,282.6 L133.0,282.5 L133.1,282.5 L133.3,282.5 L133.4,282.4 L133.6,282.4 L133.8,282.4 L133.9,282.4 L134.1,282.3 L134.2,282.3 L134.4,282.3 L134.6,282.2 L134.7,282.2 L134.9,282.2 L135.1,282.1 L135.2,282.1 L135.4,282.1 L135.5,282.0 L135.7,282.0 L135.9,281.9 L136.0,281.9 L136.2,281.9 L136.4,281.8 L136.5,281.8 L136.7,281.7 L136.8,281.7 L137.0,281.6 L137.2,281.5 L137.3,281.5 L137.5,281.4 L137.7,281.3 L137.8,281.2 L138.0,281.1 L138.1,281.0 L138.3,280.9 L138.5,280.8 L138.6,280.7 L138.8,280.6 L138.9,280.4 L139.1,280.3 L139.3,280.2 L139.4,280.0 L139.6,279.9 L139.8,279.8 L139.9,279.6 L140.1,279.5 L140.2,279.3 L140.4,279.2 L140.6,279.0 L140.7,278.9 L140.9,278.7 L141.1,278.6 L141.2,278.4 L141.4,278.2 L141.5,278.1 L141.7,277.9 L141.9,277.8 L142.0,277.6 L142.2,277.4 L142.4,277.3 L142.5,277.1 L142.7,276.9 L142.8,276.8 L143.0,276.6 L143.2,276.5 L143.3,276.3 L143.5,276.1 L143.6,276.0 L143.8,275.8 L144.0,275.6 L144.1,275.5 L144.3,275.3 L144.5,275.1 L144.6,274.9 L144.8,274.7 L144.9,274.5 L145.1,274.2 L145.3,274.0 L145.4,273.8 L145.6,273.6 L145.8,273.3 L145.9,273.1 L146.1,272.9 L146.2,272.6 L146.4,272.4 L146.6,272.2 L146.7,271.9 L146.9,271.7 L147.1,271.5 L147.2,271.2 L147.4,271.0 L147.5,270.8 L147.7,270.5 L147.9,270.3 L148.0,270.1 L148.2,269.9 L148.3,269.6 L148.5,269.4 L148.7,269.2 L148.8,269.0 L149.0,268.8 L149.2,268.7 L149.3,268.5 L149.5,268.3 L149.6,268.1 L149.8,268.0 L150.0,267.8 L150.1,267.7 L150.3,267.6 L150.5,267.5 L150.6,267.4 L150.8,267.3 L150.9,267.2 L151.1,267.1 L151.3,267.0 L151.4,266.9 L151.6,266.8 L151.8,266.8 L151.9,266.7 L152.1,266.6 L152.2,266.5 L152.4,266.4 L152.6,266.4 L152.7,266.3 L152.9,266.2 L153.1,266.2 L153.2,266.1 L153.4,266.1 L153.5,266.0 L153.7,266.0 L153.9,266.0 L154.0,266.0 L154.2,265.9 L154.3,265.9 L154.5,265.9 L154.7,266.0 L154.8,266.1 L155.0,266.2 L155.2,266.4 L155.3,266.6 L155.5,266.9 L155.6,267.2 L155.8,267.7 L156.0,268.8 L156.1,270.1 L156.3,271.5 L156.5,272.6 L156.6,273.0 L156.8,272.5 L156.9,271.4 L157.1,270.0 L157.3,268.6 L157.4,267.5 L157.6,266.9 L157.8,266.4 L157.9,265.9 L158.1,265.4 L158.2,265.1 L158.4,264.8 L158.6,264.7 L158.7,264.6 L158.9,264.5 L159.0,264.5 L159.2,264.4 L159.4,264.4 L159.5,264.3 L159.7,264.3 L159.9,264.2 L160.0,264.2 L160.2,264.2 L160.3,264.2 L160.5,264.1 L160.7,264.1 L160.8,264.1 L161.0,264.1 L161.2,264.1 L161.3,264.1 L161.5,264.1 L161.6,264.1 L161.8,264.2 L162.0,264.2 L162.1,264.2 L162.3,264.2 L162.5,264.3 L162.6,264.3 L162.8,264.4 L162.9,264.4 L163.1,264.5 L163.3,264.5 L163.4,264.6 L163.6,265.0 L163.7,266.1 L163.9,267.9 L164.1,270.1 L164.2,272.4 L164.4,274.6 L164.6,276.8 L164.7,279.5 L164.9,282.1 L165.0,283.7 L165.2,283.7 L165.4,282.3 L165.5,280.2 L165.7,277.8 L165.9,275.5 L166.0,273.6 L166.2,271.3 L166.3,269.0 L166.5,267.1 L166.7,265.7 L166.8,265.2 L167.0,265.2 L167.2,265.2 L167.3,265.2 L167.5,265.2 L167.6,265.2 L167.8,265.2 L168.0,265.2 L168.1,265.2 L168.3,265.2 L168.4,265.2 L168.6,265.2 L168.8,265.2 L168.9,265.2 L169.1,265.2 L169.3,265.2 L169.4,265.4 L169.6,265.7 L169.7,266.1 L169.9,266.5 L170.1,267.0 L170.2,267.6 L170.4,268.2 L170.6,269.2 L170.7,271.2 L170.9,273.9 L171.0,277.2 L171.2,280.9 L171.4,284.8 L171.5,288.7 L171.7,292.3 L171.9,295.7 L172.0,298.5 L172.2,301.1 L172.3,303.6 L172.5,305.6 L172.7,307.4 L172.8,309.4 L173.0,311.8 L173.1,315.0 L173.3,319.1 L173.5,323.7 L173.6,328.2 L173.8,331.7 L174.0,334.0 L174.1,335.3 L174.3,336.0 L174.4,336.4 L174.6,336.9 L174.8,337.9 L174.9,339.7 L175.1,342.3 L175.3,345.5 L175.4,348.7 L175.6,351.7 L175.7,354.5 L175.9,356.6 L176.1,358.2 L176.2,359.2 L176.4,359.7 L176.6,360.0 L176.7,360.2 L176.9,360.6 L177.0,361.3 L177.2,362.4 L177.4,364.0 L177.5,365.8 L177.7,367.7 L177.8,369.6 L178.0,371.2 L178.2,372.4 L178.3,373.2 L178.5,373.7 L178.7,374.0 L178.8,374.1 L179.0,374.3 L179.1,374.6 L179.3,375.3 L179.5,376.1 L179.6,377.2 L179.8,378.4 L180.0,379.6 L180.1,380.7 L180.3,381.6 L180.4,382.2 L180.6,382.7 L180.8,382.9 L180.9,383.0 L181.1,383.1 L181.3,383.3 L181.4,383.6 L181.6,384.1 L181.7,384.9 L181.9,385.7 L182.1,386.6 L182.2,387.4 L182.4,388.1 L182.6,388.7 L182.7,389.0 L182.9,389.3 L183.0,389.4 L183.2,389.4 L183.4,389.5 L183.5,389.7 L183.7,389.9 L183.8,390.3 L184.0,390.8 L184.2,391.3 L184.3,391.8 L184.5,392.3 L184.7,392.6 L184.8,392.9 L185.0,393.1 L185.1,393.2 L185.3,393.2 L185.5,393.3 L185.6,393.4 L185.8,393.5 L186.0,393.7 L186.1,394.0 L186.3,394.4 L186.4,394.8 L186.6,395.1 L186.8,395.4 L186.9,395.7 L187.1,395.8 L187.3,395.9 L187.4,396.0 L187.6,396.0 L187.7,396.1 L187.9,396.2 L188.1,396.3 L188.2,396.5 L188.4,396.7 L188.5,396.9 L188.7,397.1 L188.9,397.3 L189.0,397.4 L189.2,397.5 L189.4,397.6 L189.5,397.7 L189.7,397.8 L189.8,397.9 L190.0,398.0 L190.2,398.1 L190.3,398.2 L190.5,398.3 L190.7,398.4 L190.8,398.5 L191.0,398.6 L191.1,398.7 L191.3,398.8 L191.5,398.9 L191.6,399.0 L191.8,399.1 L192.0,399.1 L192.1,399.2 L192.3,399.3 L192.4,399.4 L192.6,399.5 L192.8,399.6 L192.9,399.6 L193.1,399.7 L193.2,399.8 L193.4,399.8 L193.6,399.9 L193.7,400.0 L193.9,400.0 L194.1,400.1 L194.2,400.1 L194.4,400.2 L194.5,400.2 L194.7,400.2 L194.9,400.3 L195.0,400.3 L195.2,400.3 L195.4,400.3 L195.5,400.3 L195.7,400.4 L195.8,400.4 L196.0,400.4 L196.2,400.4 L196.3,400.4 L196.5,400.4 L196.7,400.4 L196.8,400.4 L197.0,400.4 L197.1,400.4 L197.3,400.4 L197.5,400.4 L197.6,400.4 L197.8,400.4 L197.9,400.4 L198.1,400.4 L198.3,400.4 L198.4,400.4 L198.6,400.4 L198.8,400.4 L198.9,400.4 L199.1,400.4 L199.2,400.4 L199.4,400.4 L199.6,400.4 L199.7,400.4 L199.9,400.4 L200.1,400.4 L200.2,400.4 L200.4,400.4 L200.5,400.4" stroke="#0000ff" stroke-width="1.6" fill="none" stroke-linejoin="round"/>
<path d="M45.1,402.7 L45.3,402.6 L45.4,402.6 L45.6,402.3 L45.7,402.2 L45.9,402.1 L46.1,401.9 L46.2,401.8 L46.4,401.1 L46.6,400.8 L46.7,400.5 L46.9,400.6 L47.0,400.5 L47.2,400.3 L47.4,400.1 L47.5,399.7 L47.7,399.4 L47.9,398.9 L48.0,398.7 L48.2,398.4 L48.3,398.0 L48.5,397.6 L48.7,397.4 L48.8,397.3 L49.0,397.0 L49.2,396.4 L49.3,396.0 L49.5,395.8 L49.6,395.7 L49.8,395.4 L50.0,395.1 L50.1,394.8 L50.3,394.2 L50.4,393.8 L50.6,393.5 L50.8,393.7 L50.9,393.2 L51.1,393.1 L51.3,392.4 L51.4,392.2 L51.6,391.4 L51.7,390.7 L51.9,390.5 L52.1,390.2 L52.2,389.7 L52.4,388.7 L52.6,388.0 L52.7,387.4 L52.9,387.0 L53.0,386.7 L53.2,386.4 L53.4,386.0 L53.5,385.3 L53.7,384.6 L53.9,384.4 L54.0,383.9 L54.2,383.9 L54.3,383.0 L54.5,382.4 L54.7,381.6 L54.8,381.2 L55.0,381.1 L55.1,379.9 L55.3,379.9 L55.5,379.3 L55.6,378.7 L55.8,377.2 L56.0,377.0 L56.1,376.7 L56.3,376.3 L56.4,375.3 L56.6,374.0 L56.8,373.8 L56.9,372.9 L57.1,373.0 L57.3,371.6 L57.4,371.0 L57.6,370.1 L57.7,370.4 L57.9,369.2 L58.1,368.2 L58.2,366.7 L58.4,366.2 L58.6,365.6 L58.7,365.4 L58.9,365.3 L59.0,365.0 L59.2,363.7 L59.4,363.2 L59.5,362.4 L59.7,362.3 L59.8,361.1 L60.0,360.0 L60.2,359.6 L60.3,359.6 L60.5,359.1 L60.7,357.5 L60.8,355.8 L61.0,355.0 L61.1,354.9 L61.3,354.3 L61.5,353.7 L61.6,352.6 L61.8,352.2 L62.0,351.4 L62.1,351.0 L62.3,349.7 L62.4,348.9 L62.6,347.1 L62.8,346.0 L62.9,344.7 L63.1,345.8 L63.3,345.8 L63.4,345.9 L63.6,344.1 L63.7,344.2 L63.9,342.7 L64.1,341.7 L64.2,340.5 L64.4,340.7 L64.6,340.7 L64.7,339.4 L64.9,337.9 L65.0,335.9 L65.2,335.2 L65.4,334.4 L65.5,334.4 L65.7,332.8 L65.8,332.0 L66.0,330.7 L66.2,331.2 L66.3,330.8 L66.5,331.1 L66.7,329.1 L66.8,327.9 L67.0,326.9 L67.1,327.1 L67.3,326.4 L67.5,325.8 L67.6,325.3 L67.8,324.5 L68.0,322.2 L68.1,321.1 L68.3,320.8 L68.4,321.9 L68.6,321.6 L68.8,320.3 L68.9,318.5 L69.1,317.0 L69.3,316.3 L69.4,315.9 L69.6,315.0 L69.7,315.2 L69.9,314.8 L70.1,314.0 L70.2,312.8 L70.4,312.1 L70.5,311.8 L70.7,310.8 L70.9,309.4 L71.0,308.4 L71.2,307.6 L71.4,306.9 L71.5,305.6 L71.7,303.8 L71.8,304.8 L72.0,304.0 L72.2,304.6 L72.3,302.6 L72.5,302.0 L72.7,300.4 L72.8,299.2 L73.0,299.0 L73.1,298.0 L73.3,298.2 L73.5,297.7 L73.6,297.6 L73.8,297.1 L74.0,295.1 L74.1,294.4 L74.3,292.1 L74.4,292.9 L74.6,293.1 L74.8,293.8 L74.9,292.8 L75.1,292.4 L75.2,291.7 L75.4,291.6 L75.6,289.7 L75.7,289.8 L75.9,288.6 L76.1,289.6 L76.2,289.3 L76.4,290.0 L76.5,289.8 L76.7,288.6 L76.9,287.0 L77.0,285.6 L77.2,284.8 L77.4,283.9 L77.5,283.4 L77.7,283.2 L77.8,284.1 L78.0,284.9 L78.2,284.1 L78.3,284.7 L78.5,282.7 L78.7,282.8 L78.8,280.3 L79.0,280.4 L79.1,280.6 L79.3,280.8 L79.5,280.7 L79.6,279.8 L79.8,279.7 L79.9,279.0 L80.1,278.6 L80.3,278.9 L80.4,278.5 L80.6,279.7 L80.8,278.8 L80.9,279.2 L81.1,276.4 L81.2,274.9 L81.4,275.1 L81.6,275.5 L81.7,276.3 L81.9,275.3 L82.1,274.6 L82.2,274.6 L82.4,274.8 L82.5,275.1 L82.7,274.6 L82.9,272.7 L83.0,273.2 L83.2,272.3 L83.4,271.5 L83.5,271.1 L83.7,271.9 L83.8,272.3 L84.0,271.5 L84.2,269.2 L84.3,268.7 L84.5,268.8 L84.6,270.7 L84.8,270.7 L85.0,267.6 L85.1,266.8 L85.3,266.4 L85.5,267.7 L85.6,267.4 L85.8,265.2 L85.9,265.9 L86.1,265.0 L86.3,266.7 L86.4,265.4 L86.6,266.9 L86.8,265.2 L86.9,265.7 L87.1,264.4 L87.2,266.7 L87.4,267.0 L87.6,266.4 L87.7,264.4 L87.9,262.9 L88.1,262.1 L88.2,262.2 L88.4,262.7 L88.5,262.9 L88.7,262.9 L88.9,262.9 L89.0,262.9 L89.2,262.1 L89.3,261.6 L89.5,262.6 L89.7,263.0 L89.8,261.3 L90.0,261.0 L90.2,261.7 L90.3,263.5 L90.5,262.1 L90.6,263.6 L90.8,263.0 L91.0,263.0 L91.1,261.9 L91.3,260.7 L91.5,261.2 L91.6,260.9 L91.8,262.0 L91.9,263.9 L92.1,263.8 L92.3,262.2 L92.4,261.5 L92.6,259.1 L92.8,260.9 L92.9,259.0 L93.1,260.6 L93.2,262.6 L93.4,264.1 L93.6,263.9 L93.7,262.8 L93.9,263.5 L94.1,263.2 L94.2,262.7 L94.4,263.0 L94.5,264.0 L94.7,262.5 L94.9,261.3 L95.0,259.8 L95.2,259.1 L95.3,258.6 L95.5,260.6 L95.7,263.3 L95.8,263.3 L96.0,261.4 L96.2,259.9 L96.3,259.4 L96.5,260.7 L96.6,260.7 L96.8,261.7 L97.0,261.6 L97.1,263.1 L97.3,264.2 L97.5,264.4 L97.6,264.3 L97.8,263.7 L97.9,262.7 L98.1,261.7 L98.3,258.1 L98.4,257.9 L98.6,258.4 L98.8,260.5 L98.9,261.1 L99.1,261.2 L99.2,261.0 L99.4,262.1 L99.6,264.4 L99.7,264.8 L99.9,264.7 L100.0,260.4 L100.2,261.9 L100.4,262.5 L100.5,262.5 L100.7,262.9 L100.9,261.7 L101.0,261.8 L101.2,260.8 L101.3,261.1 L101.5,262.4 L101.7,261.8 L101.8,262.6 L102.0,262.2 L102.2,262.5 L102.3,259.5 L102.5,260.5 L102.6,262.0 L102.8,263.6 L103.0,263.7 L103.1,262.6 L103.3,263.3 L103.5,261.8 L103.6,262.8 L103.8,263.1 L103.9,266.8 L104.1,267.1 L104.3,265.6 L104.4,263.9 L104.6,263.8 L104.7,266.5 L104.9,265.4 L105.1,264.6 L105.2,264.7 L105.4,264.7 L105.6,264.7 L105.7,263.0 L105.9,264.3 L106.0,263.0 L106.2,263.4 L106.4,263.0 L106.5,265.3 L106.7,266.0 L106.9,265.2 L107.0,265.1 L107.2,263.9 L107.3,264.3 L107.5,262.9 L107.7,263.2 L107.8,263.9 L108.0,267.2 L108.2,267.8 L108.3,267.1 L108.5,265.2 L108.6,265.1 L108.8,266.4 L109.0,267.0 L109.1,268.5 L109.3,266.9 L109.4,266.5 L109.6,266.2 L109.8,268.8 L109.9,269.3 L110.1,267.5 L110.3,265.9 L110.4,266.6 L110.6,266.7 L110.7,265.9 L110.9,264.4 L111.1,265.1 L111.2,265.5 L111.4,266.0 L111.6,266.2 L111.7,268.1 L111.9,267.4 L112.0,268.0 L112.2,265.5 L112.4,269.0 L112.5,268.6 L112.7,269.8 L112.9,268.3 L113.0,268.6 L113.2,269.0 L113.3,268.2 L113.5,269.3 L113.7,270.3 L113.8,270.0 L114.0,268.4 L114.1,268.3 L114.3,269.3 L114.5,270.5 L114.6,269.7 L114.8,270.9 L115.0,272.5 L115.1,273.5 L115.3,273.7 L115.4,273.1 L115.6,273.2 L115.8,271.8 L115.9,272.4 L116.1,271.8 L116.3,274.1 L116.4,272.7 L116.6,275.0 L116.7,274.7 L116.9,274.7 L117.1,273.7 L117.2,273.3 L117.4,274.5 L117.6,273.8 L117.7,273.2 L117.9,272.9 L118.0,272.4 L118.2,273.2 L118.4,273.7 L118.5,275.3 L118.7,273.6 L118.8,272.3 L119.0,270.7 L119.2,272.0 L119.3,273.2 L119.5,273.7 L119.7,274.1 L119.8,273.3 L120.0,273.5 L120.1,273.9 L120.3,274.8 L120.5,275.7 L120.6,273.5 L120.8,271.0 L121.0,271.1 L121.1,272.8 L121.3,277.6 L121.4,277.3 L121.6,277.4 L121.8,276.4 L121.9,275.9 L122.1,277.4 L122.3,276.7 L122.4,277.4 L122.6,277.1 L122.7,276.2 L122.9,275.4 L123.1,275.6 L123.2,277.8 L123.4,278.3 L123.6,277.0 L123.7,276.9 L123.9,277.8 L124.0,278.0 L124.2,277.0 L124.4,275.9 L124.5,275.5 L124.7,273.7 L124.8,273.2 L125.0,273.0 L125.2,273.6 L125.3,273.7 L125.5,273.6 L125.7,275.8 L125.8,276.1 L126.0,276.6 L126.1,273.8 L126.3,274.4 L126.5,273.8 L126.6,274.9 L126.8,273.2 L127.0,273.3 L127.1,273.7 L127.3,274.8 L127.4,275.2 L127.6,274.5 L127.8,274.7 L127.9,273.8 L128.1,271.9 L128.3,272.1 L128.4,272.2 L128.6,274.1 L128.7,273.0 L128.9,274.1 L129.1,274.4 L129.2,275.0 L129.4,273.3 L129.5,272.6 L129.7,272.9 L129.9,274.2 L130.0,273.6 L130.2,271.7 L130.4,270.4 L130.5,270.7 L130.7,271.6 L130.8,272.7 L131.0,273.1 L131.2,273.7 L131.3,272.5 L131.5,272.1 L131.7,273.0 L131.8,272.1 L132.0,270.4 L132.1,269.4 L132.3,270.1 L132.5,271.4 L132.6,270.3 L132.8,272.0 L133.0,270.7 L133.1,271.8 L133.3,269.1 L133.4,270.5 L133.6,270.4 L133.8,271.7 L133.9,270.9 L134.1,271.2 L134.2,271.4 L134.4,272.7 L134.6,273.4 L134.7,271.8 L134.9,270.7 L135.1,269.0 L135.2,269.1 L135.4,270.5 L135.5,270.4 L135.7,269.8 L135.9,267.9 L136.0,269.9 L136.2,274.7 L136.4,276.5 L136.5,273.3 L136.7,270.5 L136.8,269.6 L137.0,270.0 L137.2,270.3 L137.3,269.8 L137.5,269.6 L137.7,268.2 L137.8,268.0 L138.0,269.2 L138.1,269.1 L138.3,269.8 L138.5,268.0 L138.6,265.9 L138.8,266.1 L138.9,269.4 L139.1,272.2 L139.3,271.0 L139.4,267.9 L139.6,266.4 L139.8,267.4 L139.9,269.1 L140.1,268.9 L140.2,269.1 L140.4,267.2 L140.6,268.5 L140.7,266.7 L140.9,267.0 L141.1,265.9 L141.2,265.8 L141.4,267.3 L141.5,267.7 L141.7,268.4 L141.9,267.1 L142.0,266.1 L142.2,266.3 L142.4,267.2 L142.5,269.0 L142.7,268.9 L142.8,267.4 L143.0,267.4 L143.2,265.9 L143.3,266.2 L143.5,265.6 L143.6,267.9 L143.8,267.8 L144.0,266.8 L144.1,267.1 L144.3,266.0 L144.5,265.0 L144.6,262.8 L144.8,263.3 L144.9,262.4 L145.1,261.4 L145.3,262.5 L145.4,264.6 L145.6,265.8 L145.8,264.9 L145.9,266.9 L146.1,265.9 L146.2,266.2 L146.4,263.6 L146.6,264.2 L146.7,262.6 L146.9,262.9 L147.1,263.3 L147.2,263.5 L147.4,261.7 L147.5,261.1 L147.7,260.1 L147.9,261.1 L148.0,261.1 L148.2,260.9 L148.3,261.8 L148.5,260.2 L148.7,262.1 L148.8,260.8 L149.0,262.8 L149.2,263.1 L149.3,262.5 L149.5,261.1 L149.6,260.3 L149.8,261.7 L150.0,261.5 L150.1,262.8 L150.3,263.5 L150.5,264.1 L150.6,263.6 L150.8,263.2 L150.9,263.1 L151.1,262.4 L151.3,262.0 L151.4,260.4 L151.6,259.3 L151.8,257.9 L151.9,259.5 L152.1,261.0 L152.2,263.6 L152.4,263.9 L152.6,265.5 L152.7,264.7 L152.9,263.6 L153.1,260.1 L153.2,258.6 L153.4,260.2 L153.5,261.3 L153.7,263.0 L153.9,261.5 L154.0,262.1 L154.2,260.5 L154.3,258.9 L154.5,257.9 L154.7,256.6 L154.8,258.9 L155.0,260.1 L155.2,261.1 L155.3,259.7 L155.5,259.9 L155.6,261.2 L155.8,264.2 L156.0,263.9 L156.1,263.2 L156.3,261.9 L156.5,262.3 L156.6,264.6 L156.8,264.2 L156.9,263.0 L157.1,261.1 L157.3,261.3 L157.4,263.3 L157.6,262.3 L157.8,262.7 L157.9,261.7 L158.1,262.8 L158.2,264.9 L158.4,265.0 L158.6,265.9 L158.7,263.6 L158.9,262.4 L159.0,261.9 L159.2,264.1 L159.4,265.9 L159.5,266.3 L159.7,264.5 L159.9,265.5 L160.0,267.5 L160.2,267.2 L160.3,265.8 L160.5,264.4 L160.7,266.7 L160.8,265.4 L161.0,268.3 L161.2,267.1 L161.3,267.0 L161.5,264.5 L161.6,264.0 L161.8,267.3 L162.0,266.0 L162.1,267.6 L162.3,266.3 L162.5,267.6 L162.6,267.5 L162.8,267.0 L162.9,268.6 L163.1,268.4 L163.3,269.4 L163.4,268.5 L163.6,267.5 L163.7,266.8 L163.9,266.8 L164.1,267.9 L164.2,269.4 L164.4,269.6 L164.6,268.4 L164.7,268.3 L164.9,267.7 L165.0,268.6 L165.2,269.4 L165.4,269.1 L165.5,270.1 L165.7,269.4 L165.9,268.9 L166.0,269.1 L166.2,269.3 L166.3,272.3 L166.5,271.9 L166.7,273.4 L166.8,272.3 L167.0,272.5 L167.2,271.0 L167.3,269.2 L167.5,268.6 L167.6,268.1 L167.8,269.8 L168.0,270.4 L168.1,271.9 L168.3,273.6 L168.4,273.4 L168.6,271.1 L168.8,268.9 L168.9,269.6 L169.1,269.6 L169.3,270.5 L169.4,270.7 L169.6,272.8 L169.7,272.7 L169.9,272.3 L170.1,271.5 L170.2,272.4 L170.4,273.6" stroke="#ff0000" stroke-width="3.2" fill="none" stroke-linejoin="round"/>
<path d="M81.6,275.1 L81.7,274.8 L81.9,274.4 L82.1,274.1 L82.2,273.8 L82.4,273.4 L82.5,273.1 L82.7,272.8 L82.9,272.5 L83.0,272.2 L83.2,271.9 L83.4,271.6 L83.5,271.3 L83.7,271.0 L83.8,270.7 L84.0,270.4 L84.2,270.1 L84.3,269.9 L84.5,269.6 L84.6,269.3 L84.8,269.1 L85.0,268.9 L85.1,268.6 L85.3,268.4 L85.5,268.1 L85.6,267.9 L85.8,267.7 L85.9,267.4 L86.1,267.2 L86.3,267.0 L86.4,266.8 L86.6,266.6 L86.8,266.3 L86.9,266.1 L87.1,265.9 L87.2,265.7 L87.4,265.5 L87.6,265.4 L87.7,265.2 L87.9,265.0 L88.1,264.8 L88.2,264.7 L88.4,264.5 L88.5,264.4 L88.7,264.3 L88.9,264.1 L89.0,264.0 L89.2,263.9 L89.3,263.8 L89.5,263.7 L89.7,263.6 L89.8,263.5 L90.0,263.3 L90.2,263.2 L90.3,263.1 L90.5,263.0 L90.6,262.9 L90.8,262.8 L91.0,262.7 L91.1,262.6 L91.3,262.5 L91.5,262.4 L91.6,262.3 L91.8,262.2 L91.9,262.1 L92.1,262.0 L92.3,261.9 L92.4,261.8 L92.6,261.8 L92.8,261.7 L92.9,261.6 L93.1,261.5 L93.2,261.5 L93.4,261.4 L93.6,261.4 L93.7,261.3 L93.9,261.2 L94.1,261.2 L94.2,261.2 L94.4,261.1 L94.5,261.1 L94.7,261.1 L94.9,261.0 L95.0,261.0 L95.2,261.0 L95.3,261.0 L95.5,261.0 L95.7,261.0 L95.8,261.0 L96.0,261.0 L96.2,261.0 L96.3,261.0 L96.5,261.0 L96.6,261.1 L96.8,261.1 L97.0,261.1 L97.1,261.1 L97.3,261.2 L97.5,261.2 L97.6,261.2 L97.8,261.3 L97.9,261.3 L98.1,261.4 L98.3,261.4 L98.4,261.5 L98.6,261.5 L98.8,261.6 L98.9,261.6 L99.1,261.7 L99.2,261.7 L99.4,261.8 L99.6,261.8 L99.7,261.9 L99.9,261.9 L100.0,262.0 L100.2,262.1 L100.4,262.1 L100.5,262.2 L100.7,262.3 L100.9,262.3 L101.0,262.4 L101.2,262.4 L101.3,262.5 L101.5,262.6 L101.7,262.6 L101.8,262.7 L102.0,262.8 L102.2,262.8 L102.3,262.9 L102.5,263.0 L102.6,263.0 L102.8,263.1 L103.0,263.2 L103.1,263.2 L103.3,263.3 L103.5,263.4 L103.6,263.4 L103.8,263.5 L103.9,263.6 L104.1,263.7 L104.3,263.8 L104.4,263.8 L104.6,263.9 L104.7,264.0 L104.9,264.1 L105.1,264.2 L105.2,264.3 L105.4,264.4 L105.6,264.5 L105.7,264.6 L105.9,264.7 L106.0,264.8 L106.2,264.9 L106.4,265.0 L106.5,265.1 L106.7,265.2 L106.9,265.3 L107.0,265.4 L107.2,265.5 L107.3,265.6 L107.5,265.7 L107.7,265.8 L107.8,265.9 L108.0,266.1 L108.2,266.2 L108.3,266.3 L108.5,266.4 L108.6,266.5 L108.8,266.6 L109.0,266.7 L109.1,266.8 L109.3,266.9 L109.4,267.0 L109.6,267.1 L109.8,267.3 L109.9,267.4 L110.1,267.5 L110.3,267.6 L110.4,267.7 L110.6,267.8 L110.7,267.9 L110.9,268.1 L111.1,268.2 L111.2,268.3 L111.4,268.4 L111.6,268.5 L111.7,268.7 L111.9,268.8 L112.0,268.9 L112.2,269.0 L112.4,269.2 L112.5,269.3 L112.7,269.4 L112.9,269.5 L113.0,269.7 L113.2,269.8 L113.3,269.9 L113.5,270.1 L113.7,270.2 L113.8,270.3 L114.0,270.4 L114.1,270.6 L114.3,270.7 L114.5,270.8 L114.6,271.0 L114.8,271.1 L115.0,271.2 L115.1,271.3 L115.3,271.4 L115.4,271.6 L115.6,271.7 L115.8,271.8 L115.9,271.9 L116.1,272.0 L116.3,272.1 L116.4,272.3 L116.6,272.4 L116.7,272.5 L116.9,272.6 L117.1,272.7 L117.2,272.8 L117.4,272.9 L117.6,273.0 L117.7,273.1 L117.9,273.2 L118.0,273.4 L118.2,273.5 L118.4,273.6 L118.5,273.7 L118.7,273.8 L118.8,273.9 L119.0,274.0 L119.2,274.1 L119.3,274.2 L119.5,274.3 L119.7,274.4 L119.8,274.5 L120.0,274.6 L120.1,274.7 L120.3,274.8 L120.5,274.9 L120.6,275.0 L120.8,275.1 L121.0,275.1 L121.1,275.2 L121.3,275.3 L121.4,275.4 L121.6,275.5 L121.8,275.5 L121.9,275.6 L122.1,275.7 L122.3,275.7 L122.4,275.8 L122.6,275.9 L122.7,275.9 L122.9,276.0 L123.1,276.1 L123.2,276.1 L123.4,276.2 L123.6,276.2 L123.7,276.3 L123.9,276.4 L124.0,276.4 L124.2,276.5 L124.4,276.5 L124.5,276.5 L124.7,276.6 L124.8,276.6 L125.0,276.6 L125.2,276.6 L125.3,276.6 L125.5,276.6 L125.7,276.5 L125.8,276.5 L126.0,276.4 L126.1,276.2 L126.3,276.1 L126.5,275.9 L126.6,275.8 L126.8,275.6 L127.0,275.4 L127.1,275.2 L127.3,275.0 L127.4,274.8 L127.6,274.6 L127.8,274.4 L127.9,274.2 L128.1,274.0 L128.3,273.9 L128.4,273.7 L128.6,273.6 L128.7,273.5 L128.9,273.4 L129.1,273.3 L129.2,273.2 L129.4,273.1 L129.5,273.0 L129.7,272.9 L129.9,272.8 L130.0,272.8 L130.2,272.7 L130.4,272.6 L130.5,272.5 L130.7,272.5 L130.8,272.4 L131.0,272.3 L131.2,272.3 L131.3,272.2 L131.5,272.1 L131.7,272.1 L131.8,272.0 L132.0,271.9 L132.1,271.9 L132.3,271.8 L132.5,271.7 L132.6,271.7 L132.8,271.6 L133.0,271.6 L133.1,271.5 L133.3,271.4 L133.4,271.4 L133.6,271.3 L133.8,271.3 L133.9,271.2 L134.1,271.1 L134.2,271.1 L134.4,271.0 L134.6,271.0 L134.7,270.9 L134.9,270.8 L135.1,270.8 L135.2,270.7 L135.4,270.6 L135.5,270.6 L135.7,270.5 L135.9,270.4 L136.0,270.4 L136.2,270.3 L136.4,270.2 L136.5,270.1 L136.7,270.1 L136.8,270.0 L137.0,269.9 L137.2,269.8 L137.3,269.8 L137.5,269.7 L137.7,269.6 L137.8,269.6 L138.0,269.5 L138.1,269.4 L138.3,269.4 L138.5,269.3 L138.6,269.2 L138.8,269.1 L138.9,269.1 L139.1,269.0 L139.3,268.9 L139.4,268.9 L139.6,268.8 L139.8,268.7 L139.9,268.6 L140.1,268.6 L140.2,268.5 L140.4,268.4 L140.6,268.3 L140.7,268.3 L140.9,268.2 L141.1,268.1 L141.2,268.0 L141.4,267.9 L141.5,267.8 L141.7,267.8 L141.9,267.7 L142.0,267.6 L142.2,267.5 L142.4,267.4 L142.5,267.3 L142.7,267.2 L142.8,267.1 L143.0,267.0 L143.2,266.9 L143.3,266.8 L143.5,266.7 L143.6,266.6 L143.8,266.5 L144.0,266.4 L144.1,266.3 L144.3,266.1 L144.5,266.0 L144.6,265.8 L144.8,265.7 L144.9,265.5 L145.1,265.3 L145.3,265.1 L145.4,265.0 L145.6,264.8 L145.8,264.6 L145.9,264.4 L146.1,264.2 L146.2,264.0 L146.4,263.8 L146.6,263.6 L146.7,263.5 L146.9,263.3 L147.1,263.1 L147.2,262.9 L147.4,262.8 L147.5,262.6 L147.7,262.5 L147.9,262.3 L148.0,262.2 L148.2,262.1 L148.3,262.0 L148.5,261.9 L148.7,261.8 L148.8,261.7 L149.0,261.6 L149.2,261.6 L149.3,261.5 L149.5,261.5 L149.6,261.5 L149.8,261.5 L150.0,261.5 L150.1,261.5 L150.3,261.5 L150.5,261.5 L150.6,261.5 L150.8,261.5 L150.9,261.6 L151.1,261.6 L151.3,261.6 L151.4,261.6 L151.6,261.6 L151.8,261.6 L151.9,261.7 L152.1,261.7 L152.2,261.7 L152.4,261.7 L152.6,261.7 L152.7,261.8 L152.9,261.8 L153.1,261.8 L153.2,261.8 L153.4,261.9 L153.5,261.9 L153.7,261.9 L153.9,262.0 L154.0,262.0 L154.2,262.0 L154.3,262.1 L154.5,262.1 L154.7,262.1 L154.8,262.2 L155.0,262.2 L155.2,262.2 L155.3,262.3 L155.5,262.3 L155.6,262.4 L155.8,262.4 L156.0,262.4 L156.1,262.5 L156.3,262.5 L156.5,262.6 L156.6,262.6 L156.8,262.7 L156.9,262.7 L157.1,262.8 L157.3,262.9 L157.4,262.9 L157.6,263.0 L157.8,263.1 L157.9,263.2 L158.1,263.3 L158.2,263.4 L158.4,263.5 L158.6,263.6 L158.7,263.8 L158.9,263.9 L159.0,264.0 L159.2,264.1 L159.4,264.3 L159.5,264.4 L159.7,264.5 L159.9,264.6 L160.0,264.8 L160.2,264.9 L160.3,265.1 L160.5,265.2 L160.7,265.3 L160.8,265.5 L161.0,265.6 L161.2,265.7 L161.3,265.9 L161.5,266.0 L161.6,266.1 L161.8,266.2 L162.0,266.4 L162.1,266.5 L162.3,266.6 L162.5,266.7 L162.6,266.8 L162.8,267.0 L162.9,267.1 L163.1,267.2 L163.3,267.3 L163.4,267.4 L163.6,267.6 L163.7,267.7 L163.9,267.8 L164.1,268.0 L164.2,268.1 L164.4,268.2 L164.6,268.4 L164.7,268.5 L164.9,268.6 L165.0,268.7 L165.2,268.9 L165.4,269.0 L165.5,269.1 L165.7,269.3 L165.9,269.4 L166.0,269.5 L166.2,269.6 L166.3,269.7 L166.5,269.8 L166.7,270.0 L166.8,270.1 L167.0,270.2 L167.2,270.3 L167.3,270.4 L167.5,270.5 L167.6,270.6 L167.8,270.6 L168.0,270.7 L168.1,270.8 L168.3,270.9 L168.4,270.9 L168.6,271.0 L168.8,271.0 L168.9,271.1 L169.1,271.1 L169.3,271.1 L169.4,271.2 L169.6,271.2 L169.7,271.3 L169.9,271.4 L170.1,271.7 L170.2,272.4" stroke="#ff0000" stroke-width="5.2" fill="none" stroke-linejoin="round"/>
<path d="M170.1,271.5 L170.2,272.4 L170.4,273.6 L170.6,275.1 L170.7,276.9 L170.9,278.9 L171.0,281.1 L171.2,283.6 L171.4,287.4 L171.5,292.2 L171.7,297.5 L171.9,303.1 L172.0,308.6 L172.2,313.6 L172.3,318.0 L172.5,322.3 L172.7,326.6 L172.8,330.8 L173.0,334.8 L173.1,338.7 L173.3,342.5 L173.5,346.2 L173.6,349.8 L173.8,353.4 L174.0,356.8 L174.1,360.0 L174.3,362.9 L174.4,365.5 L174.6,367.9 L174.8,370.1 L174.9,372.3 L175.1,374.4 L175.3,376.3 L175.4,378.1 L175.6,379.7 L175.7,381.1 L175.9,382.2 L176.1,383.3 L176.2,384.2 L176.4,385.2 L176.6,386.1 L176.7,386.9 L176.9,387.7 L177.0,388.5 L177.2,389.2 L177.4,389.9 L177.5,390.5 L177.7,391.1 L177.8,391.7 L178.0,392.2 L178.2,392.7 L178.3,393.2 L178.5,393.6 L178.7,394.0 L178.8,394.3 L179.0,394.6 L179.1,394.9 L179.3,395.2 L179.5,395.5 L179.6,395.8 L179.8,396.1 L180.0,396.3 L180.1,396.6 L180.3,396.8 L180.4,397.0 L180.6,397.2 L180.8,397.4 L180.9,397.6 L181.1,397.8 L181.3,397.9 L181.4,398.1 L181.6,398.2 L181.7,398.4 L181.9,398.5" stroke="#ff0000" stroke-width="2.2" fill="none" stroke-linejoin="round"/>
<path d="M180.72,397.50 L180.97,397.50 L181.22,397.28 L181.47,397.01 L181.72,397.10 L181.97,396.88 L182.22,396.81 L182.47,396.77 L182.72,396.28 L182.97,396.56 L183.22,396.57 L183.47,396.52 L183.72,396.84 L183.97,396.91 L184.22,397.25 L184.47,397.27 L184.72,397.28 L184.97,397.40 L185.22,397.43 L185.47,398.18 L185.72,398.27 L185.97,398.34 L186.22,398.70 L186.47,398.45 L186.72,398.59 L186.97,398.57 L187.22,398.35 L187.47,398.56 L187.72,398.38 L187.97,398.27 L188.22,398.40 L188.47,398.61 L188.72,398.47 L188.97,398.19 L189.22,397.84 L189.47,397.64 L189.72,397.04 L189.97,396.80 L190.22,396.88 L190.47,396.95 L190.72,397.13 L190.97,397.28 L191.22,397.08 L191.47,396.84 L191.72,396.97 L191.97,396.93 L192.22,397.19 L192.47,397.29 L192.72,397.48 L192.97,397.71 L193.22,397.74 L193.47,398.06 L193.72,398.54 L193.97,398.48 L194.22,398.76 L194.47,398.80 L194.72,398.66 L194.97,398.76 L195.22,398.56 L195.47,398.41 L195.72,398.55 L195.97,398.65 L196.22,398.65 L196.47,398.73 L196.72,398.60 L196.97,397.94 L197.22,397.78 L197.47,397.46 L197.72,397.30 L197.97,397.05 L198.22,396.80 L198.47,396.93 L198.72,396.72 L198.97,396.43 L199.22,396.33 L199.47,395.99 L199.72,396.31 L199.97,396.52 L200.22,396.60 L200.47,396.92 L200.72,396.91 L200.97,397.12 L201.22,397.38 L201.47,397.74 L201.72,398.10 L201.97,398.89 L202.22,398.93 L202.47,398.55 L202.72,398.69 L202.97,398.28 L203.22,398.28 L203.47,398.80 L203.72,398.82 L203.97,398.90 L204.22,398.77 L204.47,398.51 L204.72,398.56 L204.97,398.60 L205.22,398.23 L205.47,397.97 L205.72,397.57 L205.97,397.46 L206.22,397.38 L206.47,397.06 L206.72,396.85 L206.97,396.90 L207.22,396.78 L207.47,396.79 L207.72,396.82 L207.97,396.62 L208.22,396.62 L208.47,396.77 L208.72,397.14 L208.97,397.48 L209.22,397.61 L209.47,397.90 L209.72,398.05 L209.97,398.43 L210.22,398.79 L210.47,398.80 L210.72,398.83 L210.97,398.72 L211.22,398.83 L211.47,398.79 L211.72,398.61 L211.97,398.64 L212.22,398.72 L212.47,398.90 L212.72,398.81 L212.97,398.82 L213.22,398.58 L213.47,397.71 L213.72,397.55 L213.97,397.27 L214.22,397.09 L214.47,396.94 L214.72,396.89 L214.97,396.68 L215.22,396.54 L215.47,396.40 L215.72,396.23 L215.97,396.44 L216.22,396.49 L216.47,396.66 L216.72,396.88 L216.97,397.01 L217.22,397.27 L217.47,397.57 L217.72,397.77 L217.97,397.98 L218.22,398.49 L218.47,398.54 L218.72,398.59 L218.97,398.73 L219.22,398.66 L219.47,398.80 L219.72,398.97 L219.97,398.81 L220.22,398.94 L220.47,398.70 L220.72,398.50 L220.97,398.43 L221.22,398.33 L221.47,398.51 L221.72,397.76 L221.97,397.41 L222.22,396.76 L222.47,396.47 L222.72,396.45 L222.97,396.33 L223.22,396.48 L223.47,396.35 L223.72,396.26 L223.97,396.30 L224.22,396.60 L224.47,396.55 L224.72,396.36 L224.97,396.46 L225.22,396.52 L225.47,396.73 L225.72,397.11 L225.97,397.27 L226.22,397.36 L226.47,397.99 L226.72,398.07 L226.97,398.17 L227.22,398.37 L227.47,398.55 L227.72,398.69 L227.97,398.59 L228.22,398.34 L228.47,398.08 L228.72,398.27 L228.97,398.66 L229.22,398.73 L229.47,398.85 L229.72,398.52 L229.97,397.59 L230.22,397.46 L230.47,397.22 L230.72,396.88 L230.97,396.90 L231.22,396.67 L231.47,396.46 L231.72,396.52 L231.97,396.38 L232.22,396.33 L232.47,396.40 L232.72,396.42 L232.97,396.41 L233.22,396.59 L233.47,396.94 L233.72,397.03 L233.97,397.44 L234.22,397.53 L234.47,397.82 L234.72,398.65 L234.97,398.78 L235.22,398.94 L235.47,398.97 L235.72,398.89 L235.97,398.56 L236.22,398.46 L236.47,398.28 L236.72,398.39 L236.97,398.42 L237.22,398.52 L237.47,398.70 L237.72,398.76 L237.97,398.63 L238.22,398.43 L238.47,397.98 L238.72,397.60 L238.97,397.39 L239.22,397.22 L239.47,397.31 L239.72,397.21 L239.97,397.10 L240.22,396.76 L240.47,396.79 L240.72,396.69 L240.97,396.77 L241.22,397.14 L241.47,397.23 L241.72,397.36 L241.97,397.49 L242.22,397.49 L242.47,397.55 L242.72,398.18 L242.97,398.74 L243.22,398.62 L243.47,398.53 L243.72,398.43 L243.97,398.42 L244.22,398.46 L244.47,398.39 L244.72,398.25 L244.97,398.17 L245.22,398.39 L245.47,398.51 L245.72,398.65 L245.97,398.83 L246.22,398.17 L246.47,397.84 L246.72,397.71 L246.97,397.34 L247.22,397.37 L247.47,397.43 L247.72,397.07 L247.97,397.01 L248.22,396.77 L248.47,396.70 L248.72,396.72 L248.97,396.75 L249.22,396.68 L249.47,396.79 L249.72,397.01 L249.97,397.07 L250.22,397.63 L250.47,397.42 L250.72,397.54 L250.97,397.72 L251.22,398.41 L251.47,398.39 L251.72,398.26 L251.97,398.37 L252.22,398.15 L252.47,398.54 L252.72,398.72 L252.97,398.77 L253.22,398.92 L253.47,398.75 L253.72,398.74 L253.97,398.96 L254.22,398.58 L254.47,398.03 L254.72,397.74 L254.97,397.32 L255.22,397.10 L255.47,397.02 L255.72,396.97 L255.97,396.78 L256.22,396.93 L256.47,396.89 L256.72,396.56 L256.97,396.77 L257.22,396.82 L257.47,396.99 L257.72,397.13 L257.97,397.07 L258.22,397.12 L258.47,397.21 L258.72,397.40 L258.97,397.59 L259.22,398.07 L259.47,398.49 L259.72,398.48 L259.97,398.49 L260.22,398.29 L260.47,398.27 L260.72,398.24 L260.97,398.37 L261.22,398.39 L261.47,398.44 L261.72,398.72 L261.97,398.47 L262.22,398.63 L262.47,398.76 L262.72,398.00 L262.97,397.86 L263.22,397.52 L263.47,397.49 L263.72,397.63 L263.97,397.55 L264.22,397.38 L264.47,396.99 L264.72,396.83 L264.97,396.69 L265.22,396.80 L265.47,396.99 L265.72,397.09 L265.97,397.42 L266.22,397.53 L266.47,397.70 L266.72,397.76 L266.97,397.91 L267.22,398.17 L267.47,398.57 L267.72,399.10 L267.97,398.90 L268.22,398.65 L268.47,398.54 L268.72,398.51 L268.97,398.52 L269.22,398.85 L269.47,398.79 L269.72,398.65 L269.97,398.77 L270.22,398.44 L270.47,398.24 L270.72,398.21 L270.97,397.26 L271.22,397.00 L271.47,396.88 L271.72,396.39 L271.97,396.23 L272.22,396.13 L272.47,395.74 L272.72,395.90 L272.97,395.78 L273.22,395.47 L273.47,395.86 L273.72,396.06 L273.97,396.23 L274.22,396.50 L274.47,396.67 L274.72,396.86 L274.97,397.12 L275.22,397.54 L275.47,397.73 L275.72,398.05 L275.97,398.68 L276.22,398.54 L276.47,398.59 L276.72,398.60 L276.97,398.48 L277.22,398.46 L277.47,398.45 L277.72,398.58 L277.97,398.68 L278.22,398.64 L278.47,398.66 L278.72,398.46 L278.97,398.28 L279.22,397.56 L279.47,397.21 L279.72,397.11 L279.97,397.07 L280.22,397.07 L280.47,396.92 L280.72,396.69 L280.97,396.63 L281.22,396.40 L281.47,396.32 L281.72,396.44 L281.97,396.39 L282.22,396.32 L282.47,396.37 L282.72,396.40 L282.97,396.57 L283.22,396.90 L283.47,397.05 L283.72,397.23 L283.97,397.83 L284.22,398.42 L284.47,398.58 L284.72,398.76 L284.97,398.91 L285.22,398.89 L285.47,398.85 L285.72,398.95 L285.97,398.73 L286.22,398.73 L286.47,398.76 L286.72,398.73 L286.97,398.75 L287.22,398.55 L287.47,398.13 L287.72,397.99 L287.97,397.71 L288.22,397.57 L288.47,397.29 L288.72,397.17 L288.97,397.19 L289.22,397.30 L289.47,397.30 L289.72,397.29 L289.97,397.25 L290.22,397.13 L290.47,397.32 L290.72,397.25 L290.97,397.34 L291.22,397.59 L291.47,397.65 L291.72,397.99 L291.97,398.55 L292.22,398.73 L292.47,398.90 L292.72,398.59 L292.97,398.18 L293.22,398.31 L293.47,398.38 L293.72,398.58 L293.97,398.76 L294.22,398.60 L294.47,398.38 L294.72,398.47 L294.97,398.45 L295.22,398.67 L295.47,398.67 L295.72,398.27 L295.97,397.98 L296.22,397.69 L296.47,397.55 L296.72,397.40 L296.97,397.53 L297.22,397.54 L297.47,397.19 L297.72,397.11 L297.97,396.94 L298.22,396.97 L298.47,397.34 L298.72,397.32 L298.97,397.30 L299.22,397.26 L299.47,397.27 L299.72,397.64 L299.97,397.96 L300.22,398.22 L300.47,398.82 L300.72,399.01 L300.97,398.92 L301.22,398.91 L301.47,398.77 L301.72,398.39 L301.97,398.34 L302.22,398.24 L302.47,398.33 L302.72,398.52 L302.97,398.69 L303.22,398.70 L303.47,398.76 L303.72,398.35 L303.97,397.92 L304.22,397.96 L304.47,397.83 L304.72,397.94 L304.97,398.09 L305.22,397.99 L305.47,397.76 L305.72,397.57 L305.97,397.23 L306.22,397.13 L306.47,397.09 L306.72,397.08 L306.97,397.10 L307.22,396.96 L307.47,397.40 L307.72,397.68 L307.97,397.69 L308.22,398.09 L308.47,397.97 L308.72,398.12 L308.97,398.32 L309.22,398.30 L309.47,398.42 L309.72,398.79 L309.97,398.71 L310.22,398.69 L310.47,398.70 L310.72,398.63 L310.97,398.77 L311.22,398.79 L311.47,398.85 L311.72,398.65 L311.97,398.01 L312.22,397.78 L312.47,397.42 L312.72,397.47 L312.97,397.49 L313.22,397.12 L313.47,396.91 L313.72,396.72 L313.97,396.58 L314.22,396.58 L314.47,396.62 L314.72,396.72 L314.97,396.91 L315.22,397.17 L315.47,397.20 L315.72,397.23 L315.97,397.41 L316.22,397.47 L316.47,397.52 L316.72,397.89 L316.97,398.43 L317.22,398.33 L317.47,398.56 L317.72,398.44 L317.97,398.57 L318.22,398.70 L318.47,398.77 L318.72,398.98 L318.97,398.96 L319.22,398.79 L319.47,398.65 L319.72,398.42 L319.97,398.40 L320.22,398.07 L320.47,398.01 L320.72,397.96 L320.97,397.69 L321.22,397.41 L321.47,397.14 L321.72,397.24 L321.97,397.11 L322.22,397.12 L322.47,397.10 L322.72,397.00 L322.97,397.09 L323.22,397.10 L323.47,397.12 L323.72,397.05 L323.97,397.17 L324.22,397.54 L324.47,398.05 L324.72,398.42 L324.97,398.77 L325.22,399.14 L325.47,398.78 L325.72,398.69 L325.97,398.76 L326.22,398.85 L326.47,398.93 L326.72,398.94 L326.97,398.77 L327.22,398.66 L327.47,398.65 L327.72,398.59 L327.97,398.60 L328.22,398.73 L328.47,398.20 L328.72,397.83 L328.97,397.70 L329.22,397.46 L329.47,397.42 L329.72,397.22 L329.97,397.14 L330.22,396.98 L330.47,396.69 L330.72,396.73 L330.97,396.45 L331.22,396.37 L331.47,396.49 L331.72,396.69 L331.97,396.78 L332.22,397.06 L332.47,397.24 L332.72,397.51 L332.97,397.93 L333.22,398.33 L333.47,399.04 L333.72,398.75 L333.97,398.69 L334.22,398.46 L334.47,398.21 L334.72,398.36 L334.97,398.38 L335.22,398.59 L335.47,398.64 L335.72,398.52 L335.97,398.53 L336.22,398.38 L336.47,398.30 L336.72,397.58 L336.97,397.24 L337.22,397.13 L337.47,396.91 L337.72,396.87 L337.97,396.49 L338.22,396.21 L338.47,396.27 L338.72,396.13 L338.97,396.40 L339.22,396.49 L339.47,396.55 L339.72,396.69 L339.97,396.57 L340.22,396.72 L340.47,396.90 L340.72,397.08 L340.97,397.49 L341.22,397.68 L341.47,397.96 L341.72,398.64 L341.97,398.59 L342.22,398.57 L342.47,398.66 L342.72,398.53 L342.97,398.48 L343.22,398.66 L343.47,398.28 L343.72,398.34 L343.97,398.60 L344.22,398.56 L344.47,398.67 L344.72,398.76 L344.97,398.00 L345.22,397.63 L345.47,397.42 L345.72,396.96 L345.97,396.47 L346.22,396.27 L346.47,396.40 L346.72,396.44 L346.97,396.15 L347.22,396.08 L347.47,395.94 L347.72,396.12 L347.97,396.38 L348.22,396.37 L348.47,396.50 L348.72,396.50 L348.97,396.58 L349.22,397.12 L349.47,397.49 L349.72,398.07 L349.97,398.85 L350.22,398.79 L350.47,398.96 L350.72,399.05 L350.97,398.93 L351.22,398.87 L351.47,398.83 L351.72,398.66 L351.97,398.64 L352.22,398.66 L352.47,398.46 L352.72,398.38 L352.97,398.08 L353.22,397.35 L353.47,397.33 L353.72,397.23 L353.97,397.48 L354.22,397.33 L354.47,396.92 L354.72,396.80 L354.97,396.66 L355.22,396.58 L355.47,396.67 L355.72,396.57 L355.97,396.62 L356.22,396.77 L356.47,396.94 L356.72,397.14 L356.97,397.37 L357.22,397.50 L357.47,397.37 L357.72,397.44 L357.97,397.81 L358.22,397.99 L358.47,398.30 L358.72,398.37 L358.97,398.35 L359.22,398.41 L359.47,398.27 L359.72,398.35 L359.97,398.39 L360.22,398.46 L360.47,398.48 L360.72,398.56 L360.97,398.63 L361.22,398.44 L361.47,398.07 L361.72,397.77 L361.97,397.51 L362.22,397.34 L362.47,397.33 L362.72,397.61 L362.97,397.73 L363.22,397.75 L363.47,397.78 L363.72,397.54 L363.97,397.56 L364.22,397.74 L364.47,397.62 L364.72,397.86 L364.97,397.71 L365.22,397.67 L365.47,397.81 L365.72,397.54 L365.97,397.64 L366.22,398.21 L366.47,398.61 L366.72,398.69 L366.97,398.76 L367.22,398.71 L367.47,398.44 L367.72,398.60 L367.97,398.95 L368.22,398.87 L368.47,399.14 L368.72,399.11 L368.97,398.70 L369.22,398.53 L369.47,397.88 L369.72,397.50 L369.97,397.30 L370.22,397.21 L370.47,397.20 L370.72,396.96 L370.97,397.06 L371.22,396.91 L371.47,396.82 L371.72,396.98 L371.97,396.91 L372.22,396.81 L372.47,397.07 L372.72,396.86 L372.97,396.97 L373.22,397.30 L373.47,397.27 L373.72,397.50 L373.97,397.64 L374.22,397.80 L374.47,398.31 L374.72,398.50 L374.97,398.47 L375.22,398.43 L375.47,398.70 L375.72,398.52 L375.97,398.42 L376.22,398.49 L376.47,398.34 L376.72,398.43 L376.97,398.83 L377.22,398.77 L377.47,398.92 L377.72,398.51 L377.97,397.93 L378.22,397.64 L378.47,397.19 L378.72,396.86 L378.97,396.56 L379.22,396.54 L379.47,396.65 L379.72,396.41 L379.97,396.45 L380.22,396.38 L380.47,396.23 L380.72,396.36 L380.97,396.37 L381.22,396.25 L381.47,396.54 L381.72,396.75 L381.97,396.94 L382.22,397.41 L382.47,397.74 L382.72,398.50 L382.97,398.60 L383.22,398.67 L383.47,398.78 L383.72,398.96 L383.97,398.85 L384.22,398.60 L384.47,398.38 L384.72,398.53 L384.97,398.50 L385.22,398.65 L385.47,398.67 L385.72,398.59 L385.97,397.86 L386.22,397.65 L386.47,397.41 L386.72,397.14 L386.97,397.13 L387.22,396.98 L387.47,396.73 L387.72,396.64 L387.97,396.59 L388.22,396.19 L388.47,396.22 L388.72,396.24 L388.97,396.26 L389.22,396.44 L389.47,396.58 L389.72,396.56 L389.97,396.67 L390.22,396.96 L390.47,397.16 L390.72,397.73 L390.97,398.66 L391.22,398.80 L391.47,399.01 L391.72,398.91 L391.97,398.88 L392.22,398.61 L392.47,398.55 L392.72,398.53 L392.97,398.63 L393.22,398.68 L393.47,398.65 L393.72,398.62 L393.97,398.54 L394.22,398.02 L394.47,397.45 L394.72,397.44 L394.97,397.17 L395.22,396.74 L395.47,396.58 L395.72,396.03 L395.97,395.66 L396.22,395.73 L396.47,395.57 L396.72,395.81 L396.97,395.89 L397.22,395.92 L397.47,396.44 L397.72,396.49 L397.97,396.83 L398.22,397.22 L398.47,397.24 L398.72,397.65 L398.97,398.00 L399.22,398.50 L399.47,398.55 L399.72,398.49 L399.97,398.50 L400.22,398.56 L400.47,398.62 L400.72,398.69 L400.97,398.77 L401.22,398.64 L401.47,398.65 L401.72,398.68 L401.97,398.56 L402.22,398.41 L402.47,397.62 L402.72,397.24 L402.97,397.15 L403.22,397.05 L403.47,397.03 L403.72,396.66 L403.97,396.54 L404.22,396.54 L404.47,396.44 L404.72,396.57 L404.97,396.44 L405.22,396.60 L405.47,396.48 L405.72,396.48 L405.97,396.60 L406.22,396.58 L406.47,396.96 L406.72,397.35 L406.97,397.69 L407.22,398.12 L407.47,398.64 L407.72,398.57 L407.97,398.64 L408.22,398.74 L408.47,398.67 L408.72,398.79 L408.97,398.65 L409.22,398.63 L409.47,398.46 L409.72,398.26 L409.97,398.27 L410.22,398.25 L410.47,398.52 L410.72,397.97 L410.97,397.81 L411.22,397.62 L411.47,397.35 L411.72,397.08 L411.97,396.97 L412.22,397.00 L412.47,396.88 L412.72,396.99 L412.97,396.72 L413.22,396.61 L413.47,396.62 L413.72,396.78 L413.97,397.03 L414.22,397.22 L414.47,397.37 L414.72,397.27 L414.97,397.45 L415.22,397.53 L415.47,398.15 L415.72,398.71 L415.97,398.87 L416.22,399.00 L416.47,398.76 L416.72,398.56 L416.97,398.38 L417.22,398.39 L417.47,398.44 L417.72,398.64 L417.97,398.70 L418.22,398.49 L418.47,398.51 L418.72,398.39 L418.97,397.77 L419.22,397.81 L419.47,397.36 L419.72,397.26 L419.97,397.17 L420.22,397.04 L420.47,397.18 L420.72,397.06 L420.97,397.08 L421.22,397.01 L421.47,396.81 L421.72,396.94 L421.97,396.72 L422.22,396.43 L422.47,396.62 L422.72,396.63 L422.97,396.73 L423.22,397.41 L423.47,397.62 L423.72,398.14 L423.97,398.75 L424.22,398.79 L424.47,398.90 L424.72,399.04 L424.97,398.83 L425.22,398.59 L425.47,398.58 L425.72,398.30 L425.97,398.46 L426.22,398.68 L426.47,398.96 L426.72,399.15 L426.97,398.83 L427.22,398.02 L427.47,397.59 L427.72,397.37 L427.97,397.39 L428.22,397.32 L428.47,397.04 L428.72,396.94 L428.97,396.82 L429.22,396.97 L429.47,396.98 L429.72,397.04 L429.97,397.23 L430.22,397.35 L430.47,397.73 L430.72,397.63 L430.97,397.48 L431.22,397.44 L431.47,397.32 L431.72,397.43 L431.97,398.19 L432.22,398.45 L432.47,398.67 L432.72,398.96 L432.97,398.92 L433.22,398.90 L433.47,398.80 L433.72,398.99 L433.97,398.73 L434.22,398.76 L434.47,398.57 L434.72,398.52 L434.97,398.63 L435.22,398.18 L435.47,397.76 L435.72,397.33 L435.97,397.40 L436.22,397.44 L436.47,397.35 L436.72,397.05 L436.97,397.07 L437.22,396.89 L437.47,396.87 L437.72,397.11 L437.97,396.87 L438.22,397.14 L438.47,397.34 L438.72,397.33 L438.97,397.44 L439.22,397.29 L439.47,397.51 L439.72,397.80 L439.97,398.09 L440.22,398.65 L440.47,398.57 L440.72,398.58 L440.97,398.52 L441.22,398.43 L441.47,398.42 L441.72,398.41 L441.97,398.31 L442.22,398.73 L442.47,398.91 L442.72,399.03 L442.97,399.06 L443.22,398.81 L443.47,398.33 L443.72,397.86 L443.97,397.53 L444.22,397.47 L444.47,397.19 L444.72,397.03 L444.97,396.97 L445.22,396.66 L445.47,396.86 L445.72,396.82 L445.97,396.77 L446.22,396.74 L446.47,396.70 L446.72,396.58 L446.97,396.76 L447.22,396.88 L447.47,396.97 L447.72,397.16 L447.97,397.33 L448.22,397.96 L448.47,398.86 L448.72,398.90 L448.97,398.89 L449.22,398.52 L449.47,398.35 L449.72,398.53 L449.97,398.47 L450.22,398.55 L450.47,398.56 L450.72,398.37 L450.97,398.49 L451.22,398.77 L451.47,398.78 L451.72,398.53 L451.97,398.38 L452.22,398.01 L452.47,397.86 L452.72,397.64 L452.97,397.22 L453.22,397.28 L453.47,396.98 L453.72,396.93 L453.97,396.86 L454.22,396.58 L454.47,396.61 L454.72,396.61 L454.97,396.86 L455.22,397.18 L455.47,397.23 L455.72,397.42 L455.97,397.49 L456.22,397.48 L456.47,397.96 L456.72,398.49 L456.97,398.53 L457.22,398.60 L457.47,398.86 L457.72,398.85 L457.97,398.90 L458.22,398.77 L458.47,398.64 L458.72,398.57 L458.97,398.52 L459.22,398.57 L459.47,398.43 L459.72,398.39 L459.97,397.63 L460.22,397.13 L460.47,396.79 L460.72,396.65 L460.97,396.68 L461.22,396.86 L461.47,396.99 L461.72,396.82 L461.97,396.59 L462.22,396.46 L462.47,396.15 L462.72,396.38 L462.97,396.64 L463.22,396.54 L463.47,396.85 L463.72,397.04 L463.97,397.17 L464.22,397.49 L464.47,397.68 L464.72,397.99 L464.97,398.53 L465.22,398.61 L465.47,398.60 L465.72,398.46 L465.97,398.44 L466.22,398.46 L466.47,398.39 L466.72,398.50 L466.97,398.40 L467.22,398.31 L467.47,398.43 L467.72,398.44 L467.97,398.75 L468.22,398.44 L468.47,398.25 L468.72,398.01 L468.97,397.65 L469.22,397.35 L469.47,397.11 L469.72,397.10 L469.97,397.27 L470.22,397.41 L470.47,397.50 L470.72,397.56 L470.97,397.43 L471.22,397.45 L471.47,397.47 L471.72,397.48 L471.97,397.59 L472.22,397.54 L472.47,397.65 L472.72,397.71 L472.97,398.18 L473.22,398.84 L473.47,398.81 L473.72,398.81 L473.97,398.62 L474.22,398.29 L474.47,398.50 L474.72,398.58 L474.97,398.53 L475.22,398.81 L475.47,398.82 L475.72,398.84 L475.97,399.00 L476.22,398.70 L476.47,397.76 L476.72,397.27 L476.97,396.70 L477.22,396.76 L477.47,396.93 L477.72,396.73 L477.97,396.73 L478.22,396.67 L478.47,396.31 L478.72,396.43 L478.97,396.41 L479.22,396.37 L479.47,396.36 L479.72,396.54 L479.97,396.81 L480.22,396.97 L480.47,397.19 L480.72,397.32 L480.97,397.62 L481.22,397.93 L481.47,398.42 L481.72,398.19 L481.97,398.08 L482.22,398.16 L482.47,398.38 L482.72,398.49 L482.97,398.39 L483.22,398.54 L483.47,398.56 L483.72,398.57 L483.97,398.67 L484.22,398.33 L484.47,398.20 L484.72,397.92 L484.97,397.80 L485.22,397.69 L485.47,397.57 L485.72,397.22 L485.97,397.06 L486.22,397.03 L486.47,397.02 L486.72,397.20 L486.97,397.19 L487.22,397.29 L487.47,397.30 L487.72,397.30 L487.97,397.29 L488.22,397.33 L488.47,397.39 L488.72,397.58 L488.97,397.83 L489.22,398.14 L489.47,398.48 L489.72,398.49 L489.97,398.44 L490.22,398.43 L490.47,398.44 L490.72,398.52 L490.97,398.52 L491.22,398.52 L491.47,398.60 L491.72,398.67 L491.97,398.60 L492.22,398.47 L492.47,398.82 L492.72,398.69 L492.97,398.08 L493.22,397.81 L493.47,396.97 L493.72,396.91 L493.97,396.66 L494.22,396.37 L494.47,396.49 L494.72,396.20 L494.97,396.17 L495.22,396.11 L495.47,396.02 L495.72,396.20 L495.97,396.19 L496.22,396.29 L496.47,396.37 L496.72,396.55 L496.97,396.66 L497.22,396.93 L497.47,397.47 L497.72,398.01 L497.97,398.54 L498.22,398.64 L498.47,398.60 L498.72,398.68 L498.97,398.73 L499.22,398.59 L499.47,398.61 L499.72,398.34 L499.97,398.48 L500.22,398.62 L500.47,398.62 L500.72,398.84 L500.97,398.24 L501.22,397.78 L501.47,397.36 L501.72,397.27 L501.97,397.18 L502.22,396.90 L502.47,397.00 L502.72,396.80 L502.97,396.65 L503.22,396.48 L503.47,396.40 L503.72,396.40 L503.97,396.59 L504.22,396.73 L504.47,396.57 L504.72,396.49 L504.97,396.68 L505.22,396.94 L505.47,397.37 L505.72,397.62 L505.97,398.36 L506.22,398.49 L506.47,398.11 L506.72,398.21 L506.97,398.14 L507.22,398.38 L507.47,398.38 L507.72,398.37 L507.97,398.33 L508.22,397.99 L508.47,398.24 L508.72,398.28 L508.97,398.27 L509.22,397.90 L509.47,397.44 L509.72,397.16 L509.97,396.94 L510.22,396.91 L510.47,396.90 L510.72,396.90 L510.97,396.99 L511.22,396.76 L511.47,396.58 L511.72,396.63 L511.97,396.47 L512.22,396.40 L512.47,396.54 L512.72,396.50 L512.97,396.89 L513.22,397.34 L513.47,397.58 L513.72,397.78 L513.97,397.91 L514.22,398.33 L514.47,398.14 L514.72,398.20 L514.97,397.94 L515.22,398.37 L515.47,398.48 L515.72,398.71 L515.97,398.74 L516.22,398.53 L516.47,398.60 L516.72,398.36 L516.97,398.61 L517.22,398.78 L517.47,398.33 L517.72,398.12 L517.97,397.91 L518.22,397.72 L518.47,397.66 L518.72,397.50 L518.97,397.34 L519.22,397.36 L519.47,397.58 L519.72,397.45 L519.97,397.36 L520.22,397.25 L520.47,397.21 L520.72,397.32 L520.97,397.77 L521.22,398.13 L521.47,397.81 L521.72,398.12 L521.97,398.09 L522.22,398.00 L522.47,398.50 L522.72,398.45 L522.97,398.34 L523.22,398.52 L523.47,398.80 L523.72,398.66 L523.97,398.93 L524.22,399.01 L524.47,399.11 L524.72,399.23 L524.97,399.11 L525.22,398.92 L525.47,398.69 L525.72,398.12 L525.97,397.78 L526.22,397.36 L526.47,397.36 L526.72,397.30 L526.97,397.20 L527.22,397.31 L527.47,397.05 L527.72,397.05 L527.97,396.94 L528.22,397.14 L528.47,397.33 L528.72,397.45 L528.97,397.66 L529.22,397.43 L529.47,397.30 L529.72,397.35 L529.97,397.51 L530.22,397.78 L530.47,398.20 L530.72,398.73 L530.97,398.61 L530.97,403.92 L530.72,404.45 L530.47,404.91 L530.22,405.12 L529.97,405.25 L529.72,405.21 L529.47,404.97 L529.22,404.99 L528.97,405.14 L528.72,404.96 L528.47,405.26 L528.22,405.27 L527.97,405.24 L527.72,405.46 L527.47,405.41 L527.22,405.45 L526.97,405.36 L526.72,404.98 L526.47,404.68 L526.22,404.41 L525.97,403.74 L525.72,404.06 L525.47,404.08 L525.22,404.05 L524.97,404.48 L524.72,404.37 L524.47,404.39 L524.22,404.36 L523.97,404.27 L523.72,404.23 L523.47,404.10 L523.22,404.12 L522.97,403.85 L522.72,404.35 L522.47,404.53 L522.22,404.70 L521.97,404.88 L521.72,404.76 L521.47,405.11 L521.22,405.27 L520.97,405.51 L520.72,405.32 L520.47,405.14 L520.22,405.34 L519.97,405.24 L519.72,405.16 L519.47,405.31 L519.22,405.01 L518.97,404.93 L518.72,405.09 L518.47,404.70 L518.22,404.42 L517.97,404.28 L517.72,403.79 L517.47,403.87 L517.22,404.14 L516.97,404.13 L516.72,404.22 L516.47,404.09 L516.22,403.78 L515.97,403.77 L515.72,403.54 L515.47,403.87 L515.22,403.95 L514.97,403.94 L514.72,403.99 L514.47,404.32 L514.22,404.84 L513.97,405.17 L513.72,405.39 L513.47,405.44 L513.22,405.44 L512.97,405.27 L512.72,405.62 L512.47,405.57 L512.22,405.82 L511.97,405.97 L511.72,405.70 L511.47,405.77 L511.22,405.62 L510.97,405.41 L510.72,405.38 L510.47,405.05 L510.22,404.87 L509.97,404.55 L509.72,404.31 L509.47,404.02 L509.22,403.96 L508.97,404.28 L508.72,404.21 L508.47,404.24 L508.22,403.98 L507.97,403.95 L507.72,404.10 L507.47,404.13 L507.22,404.53 L506.97,404.48 L506.72,404.29 L506.47,404.60 L506.22,404.78 L505.97,404.87 L505.72,404.94 L505.47,404.78 L505.22,404.82 L504.97,404.94 L504.72,405.23 L504.47,405.19 L504.22,404.95 L503.97,404.93 L503.72,404.90 L503.47,404.77 L503.22,404.76 L502.97,404.87 L502.72,404.88 L502.47,404.88 L502.22,404.92 L501.97,404.63 L501.72,404.27 L501.47,404.10 L501.22,404.08 L500.97,404.21 L500.72,404.12 L500.47,404.17 L500.22,403.91 L499.97,403.66 L499.72,403.94 L499.47,403.81 L499.22,403.81 L498.97,403.89 L498.72,403.98 L498.47,404.11 L498.22,404.23 L497.97,404.87 L497.72,404.83 L497.47,404.86 L497.22,404.98 L496.97,404.97 L496.72,405.22 L496.47,405.37 L496.22,405.40 L495.97,405.38 L495.72,405.32 L495.47,405.39 L495.22,405.48 L494.97,405.55 L494.72,405.34 L494.47,405.26 L494.22,404.90 L493.97,404.68 L493.72,404.60 L493.47,404.29 L493.22,404.36 L492.97,403.98 L492.72,403.89 L492.47,403.89 L492.22,403.80 L491.97,403.74 L491.72,403.89 L491.47,403.69 L491.22,403.47 L490.97,403.67 L490.72,403.75 L490.47,403.76 L490.22,403.78 L489.97,403.72 L489.72,404.13 L489.47,404.62 L489.22,404.84 L488.97,405.15 L488.72,405.30 L488.47,405.16 L488.22,405.39 L487.97,405.40 L487.72,405.61 L487.47,405.98 L487.22,405.89 L486.97,405.76 L486.72,405.52 L486.47,405.41 L486.22,405.45 L485.97,405.47 L485.72,405.48 L485.47,405.07 L485.22,404.61 L484.97,404.40 L484.72,403.78 L484.47,404.05 L484.22,404.01 L483.97,403.63 L483.72,403.86 L483.47,403.64 L483.22,403.75 L482.97,403.73 L482.72,403.58 L482.47,403.73 L482.22,403.94 L481.97,404.01 L481.72,404.04 L481.47,404.21 L481.22,404.17 L480.97,404.32 L480.72,404.45 L480.47,404.81 L480.22,404.83 L479.97,405.06 L479.72,405.19 L479.47,405.28 L479.22,405.36 L478.97,405.07 L478.72,405.11 L478.47,404.77 L478.22,404.83 L477.97,404.87 L477.72,404.77 L477.47,404.68 L477.22,404.46 L476.97,404.80 L476.72,404.41 L476.47,404.52 L476.22,404.43 L475.97,403.84 L475.72,403.98 L475.47,403.77 L475.22,403.55 L474.97,403.55 L474.72,403.51 L474.47,403.62 L474.22,403.90 L473.97,403.93 L473.72,404.08 L473.47,404.00 L473.22,404.43 L472.97,404.85 L472.72,404.76 L472.47,405.08 L472.22,405.20 L471.97,405.15 L471.72,405.37 L471.47,405.65 L471.22,405.70 L470.97,405.68 L470.72,405.76 L470.47,405.54 L470.22,405.41 L469.97,405.52 L469.72,405.24 L469.47,404.89 L469.22,404.86 L468.97,404.72 L468.72,404.60 L468.47,404.48 L468.22,404.22 L467.97,404.09 L467.72,403.88 L467.47,403.78 L467.22,403.78 L466.97,403.81 L466.72,404.06 L466.47,404.16 L466.22,403.89 L465.97,403.83 L465.72,403.62 L465.47,403.44 L465.22,404.21 L464.97,404.63 L464.72,404.96 L464.47,405.28 L464.22,405.06 L463.97,405.22 L463.72,405.19 L463.47,405.07 L463.22,405.29 L462.97,405.35 L462.72,405.32 L462.47,405.28 L462.22,405.27 L461.97,405.32 L461.72,405.44 L461.47,405.50 L461.22,405.10 L460.97,404.92 L460.72,404.79 L460.47,404.58 L460.22,404.44 L459.97,404.23 L459.72,403.95 L459.47,403.79 L459.22,403.49 L458.97,403.69 L458.72,403.89 L458.47,404.21 L458.22,404.48 L457.97,404.37 L457.72,404.36 L457.47,404.11 L457.22,403.91 L456.97,404.00 L456.72,404.40 L456.47,404.80 L456.22,404.99 L455.97,405.11 L455.72,405.17 L455.47,405.10 L455.22,405.21 L454.97,405.23 L454.72,405.10 L454.47,405.05 L454.22,404.94 L453.97,404.74 L453.72,404.72 L453.47,404.55 L453.22,404.47 L452.97,404.67 L452.72,404.43 L452.47,404.42 L452.22,404.49 L451.97,404.16 L451.72,404.18 L451.47,404.15 L451.22,404.12 L450.97,404.03 L450.72,403.98 L450.47,404.19 L450.22,403.81 L449.97,403.91 L449.72,404.08 L449.47,403.89 L449.22,404.00 L448.97,404.14 L448.72,404.60 L448.47,404.83 L448.22,404.98 L447.97,404.95 L447.72,404.91 L447.47,405.04 L447.22,405.44 L446.97,405.34 L446.72,405.59 L446.47,405.72 L446.22,405.67 L445.97,405.75 L445.72,405.57 L445.47,405.59 L445.22,405.25 L444.97,405.25 L444.72,405.18 L444.47,404.95 L444.22,404.86 L443.97,404.74 L443.72,404.02 L443.47,403.92 L443.22,403.90 L442.97,403.62 L442.72,403.60 L442.47,403.63 L442.22,403.62 L441.97,403.88 L441.72,404.16 L441.47,404.32 L441.22,404.18 L440.97,403.85 L440.72,403.81 L440.47,404.15 L440.22,404.62 L439.97,405.07 L439.72,405.18 L439.47,405.21 L439.22,405.18 L438.97,404.99 L438.72,404.95 L438.47,404.61 L438.22,404.72 L437.97,404.72 L437.72,404.96 L437.47,405.07 L437.22,404.76 L436.97,404.96 L436.72,404.88 L436.47,404.82 L436.22,404.71 L435.97,404.57 L435.72,404.33 L435.47,404.13 L435.22,404.29 L434.97,404.12 L434.72,403.86 L434.47,403.77 L434.22,403.84 L433.97,403.84 L433.72,404.17 L433.47,404.29 L433.22,404.24 L432.97,403.96 L432.72,403.63 L432.47,403.65 L432.22,403.88 L431.97,404.42 L431.72,404.75 L431.47,404.74 L431.22,404.98 L430.97,405.11 L430.72,405.10 L430.47,405.32 L430.22,405.35 L429.97,405.14 L429.72,405.16 L429.47,405.01 L429.22,404.77 L428.97,404.88 L428.72,404.75 L428.47,404.80 L428.22,404.81 L427.97,404.64 L427.72,404.80 L427.47,404.47 L427.22,404.38 L426.97,404.55 L426.72,404.25 L426.47,404.41 L426.22,404.21 L425.97,404.08 L425.72,404.09 L425.47,404.06 L425.22,404.24 L424.97,404.23 L424.72,404.22 L424.47,404.16 L424.22,404.09 L423.97,404.61 L423.72,404.95 L423.47,404.95 L423.22,405.19 L422.97,405.27 L422.72,405.36 L422.47,405.57 L422.22,405.50 L421.97,405.46 L421.72,405.50 L421.47,405.52 L421.22,405.53 L420.97,405.48 L420.72,405.25 L420.47,405.15 L420.22,404.64 L419.97,404.53 L419.72,404.42 L419.47,404.24 L419.22,404.27 L418.97,404.04 L418.72,404.07 L418.47,404.05 L418.22,404.08 L417.97,404.03 L417.72,404.18 L417.47,404.14 L417.22,403.84 L416.97,403.86 L416.72,403.66 L416.47,403.79 L416.22,403.92 L415.97,403.88 L415.72,404.47 L415.47,404.59 L415.22,404.86 L414.97,404.96 L414.72,405.10 L414.47,405.32 L414.22,405.49 L413.97,405.65 L413.72,405.89 L413.47,405.82 L413.22,405.70 L412.97,405.67 L412.72,405.62 L412.47,405.86 L412.22,405.86 L411.97,405.87 L411.72,405.77 L411.47,405.28 L411.22,405.14 L410.97,404.44 L410.72,403.85 L410.47,403.76 L410.22,403.49 L409.97,403.36 L409.72,403.34 L409.47,403.40 L409.22,403.36 L408.97,403.71 L408.72,403.91 L408.47,403.85 L408.22,404.00 L407.97,403.74 L407.72,403.92 L407.47,404.51 L407.22,404.71 L406.97,405.16 L406.72,405.17 L406.47,405.53 L406.22,405.84 L405.97,405.89 L405.72,405.84 L405.47,405.59 L405.22,405.29 L404.97,405.47 L404.72,405.57 L404.47,405.58 L404.22,405.69 L403.97,405.33 L403.72,405.27 L403.47,404.92 L403.22,404.74 L402.97,404.39 L402.72,403.78 L402.47,403.78 L402.22,403.76 L401.97,403.89 L401.72,404.14 L401.47,404.24 L401.22,404.42 L400.97,404.39 L400.72,404.26 L400.47,404.16 L400.22,403.98 L399.97,404.08 L399.72,404.19 L399.47,404.18 L399.22,404.66 L398.97,404.68 L398.72,404.50 L398.47,404.72 L398.22,404.69 L397.97,404.85 L397.72,405.04 L397.47,405.33 L397.22,405.39 L396.97,405.47 L396.72,405.51 L396.47,405.18 L396.22,404.96 L395.97,404.74 L395.72,404.75 L395.47,404.88 L395.22,405.08 L394.97,405.03 L394.72,404.71 L394.47,404.09 L394.22,403.90 L393.97,404.01 L393.72,403.99 L393.47,404.09 L393.22,403.96 L392.97,403.98 L392.72,404.03 L392.47,404.05 L392.22,404.13 L391.97,404.00 L391.72,404.23 L391.47,404.20 L391.22,404.34 L390.97,404.53 L390.72,404.48 L390.47,404.73 L390.22,405.12 L389.97,405.22 L389.72,405.23 L389.47,405.22 L389.22,405.26 L388.97,405.43 L388.72,405.33 L388.47,405.02 L388.22,404.68 L387.97,404.38 L387.72,404.56 L387.47,404.78 L387.22,404.77 L386.97,404.68 L386.72,404.39 L386.47,404.32 L386.22,404.16 L385.97,404.26 L385.72,404.37 L385.47,404.26 L385.22,404.11 L384.97,403.96 L384.72,403.98 L384.47,404.04 L384.22,404.03 L383.97,404.14 L383.72,404.28 L383.47,404.13 L383.22,404.19 L382.97,404.35 L382.72,404.36 L382.47,404.43 L382.22,404.44 L381.97,404.55 L381.72,404.69 L381.47,404.76 L381.22,404.73 L380.97,404.87 L380.72,404.90 L380.47,404.79 L380.22,404.94 L379.97,405.07 L379.72,405.09 L379.47,405.00 L379.22,404.88 L378.97,404.76 L378.72,404.46 L378.47,404.64 L378.22,404.44 L377.97,404.18 L377.72,404.13 L377.47,404.02 L377.22,403.98 L376.97,403.73 L376.72,403.67 L376.47,403.77 L376.22,403.50 L375.97,403.43 L375.72,403.53 L375.47,403.42 L375.22,403.70 L374.97,403.95 L374.72,404.53 L374.47,404.78 L374.22,404.86 L373.97,404.96 L373.72,404.97 L373.47,405.14 L373.22,405.47 L372.97,405.35 L372.72,405.42 L372.47,405.63 L372.22,405.62 L371.97,405.77 L371.72,405.87 L371.47,405.66 L371.22,405.53 L370.97,405.28 L370.72,404.93 L370.47,404.62 L370.22,404.52 L369.97,404.31 L369.72,403.97 L369.47,403.94 L369.22,403.89 L368.97,403.91 L368.72,404.05 L368.47,404.25 L368.22,404.16 L367.97,404.35 L367.72,404.23 L367.47,404.28 L367.22,404.35 L366.97,404.29 L366.72,404.22 L366.47,404.39 L366.22,404.30 L365.97,404.59 L365.72,404.70 L365.47,404.86 L365.22,405.31 L364.97,405.28 L364.72,405.30 L364.47,405.44 L364.22,405.36 L363.97,405.22 L363.72,405.22 L363.47,405.06 L363.22,404.97 L362.97,404.86 L362.72,405.03 L362.47,404.89 L362.22,404.96 L361.97,404.85 L361.72,404.53 L361.47,404.30 L361.22,404.13 L360.97,404.25 L360.72,404.19 L360.47,404.29 L360.22,404.27 L359.97,404.11 L359.72,404.07 L359.47,404.00 L359.22,403.81 L358.97,403.85 L358.72,403.83 L358.47,403.95 L358.22,404.59 L357.97,404.94 L357.72,405.02 L357.47,405.12 L357.22,405.09 L356.97,405.05 L356.72,405.29 L356.47,405.30 L356.22,405.57 L355.97,405.66 L355.72,405.65 L355.47,405.49 L355.22,405.43 L354.97,405.39 L354.72,405.20 L354.47,405.06 L354.22,404.85 L353.97,404.72 L353.72,404.42 L353.47,404.34 L353.22,404.08 L352.97,404.07 L352.72,404.26 L352.47,404.22 L352.22,404.14 L351.97,404.09 L351.72,404.08 L351.47,404.01 L351.22,404.24 L350.97,404.33 L350.72,404.44 L350.47,404.49 L350.22,404.40 L349.97,404.80 L349.72,404.84 L349.47,404.87 L349.22,404.86 L348.97,405.05 L348.72,405.19 L348.47,405.22 L348.22,405.25 L347.97,405.25 L347.72,405.11 L347.47,405.34 L347.22,405.31 L346.97,405.34 L346.72,405.36 L346.47,405.32 L346.22,405.22 L345.97,405.08 L345.72,404.83 L345.47,404.50 L345.22,404.13 L344.97,403.67 L344.72,403.82 L344.47,403.71 L344.22,403.82 L343.97,404.08 L343.72,404.04 L343.47,403.99 L343.22,403.81 L342.97,403.59 L342.72,403.50 L342.47,403.68 L342.22,403.83 L341.97,404.06 L341.72,404.64 L341.47,404.47 L341.22,404.51 L340.97,404.67 L340.72,404.96 L340.47,405.42 L340.22,405.37 L339.97,405.34 L339.72,405.04 L339.47,405.13 L339.22,405.28 L338.97,405.27 L338.72,405.42 L338.47,405.22 L338.22,405.10 L337.97,405.04 L337.72,405.01 L337.47,404.91 L337.22,404.89 L336.97,404.49 L336.72,403.98 L336.47,404.06 L336.22,404.17 L335.97,403.90 L335.72,403.98 L335.47,404.02 L335.22,403.82 L334.97,404.01 L334.72,404.15 L334.47,404.12 L334.22,404.32 L333.97,404.30 L333.72,404.47 L333.47,404.71 L333.22,404.97 L332.97,405.11 L332.72,405.05 L332.47,405.31 L332.22,405.41 L331.97,405.59 L331.72,405.89 L331.47,405.84 L331.22,405.71 L330.97,405.75 L330.72,405.48 L330.47,405.47 L330.22,405.24 L329.97,405.11 L329.72,405.10 L329.47,404.94 L329.22,405.01 L328.97,404.56 L328.72,403.99 L328.47,403.81 L328.22,403.59 L327.97,403.73 L327.72,403.75 L327.47,403.68 L327.22,403.73 L326.97,403.64 L326.72,403.84 L326.47,403.86 L326.22,403.88 L325.97,404.08 L325.72,403.77 L325.47,404.09 L325.22,404.27 L324.97,404.43 L324.72,404.75 L324.47,405.16 L324.22,405.52 L323.97,405.64 L323.72,405.78 L323.47,405.57 L323.22,405.64 L322.97,405.35 L322.72,405.30 L322.47,405.23 L322.22,405.08 L321.97,405.39 L321.72,405.38 L321.47,405.19 L321.22,405.13 L320.97,404.95 L320.72,404.64 L320.47,403.92 L320.22,403.99 L319.97,403.99 L319.72,404.11 L319.47,404.51 L319.22,404.30 L318.97,404.17 L318.72,404.02 L318.47,403.98 L318.22,404.05 L317.97,404.11 L317.72,404.19 L317.47,404.20 L317.22,404.78 L316.97,405.02 L316.72,405.19 L316.47,405.24 L316.22,405.18 L315.97,405.29 L315.72,405.39 L315.47,405.61 L315.22,405.61 L314.97,405.77 L314.72,405.81 L314.47,405.80 L314.22,405.87 L313.97,405.68 L313.72,405.62 L313.47,405.40 L313.22,405.26 L312.97,405.15 L312.72,404.91 L312.47,404.50 L312.22,403.89 L311.97,404.12 L311.72,404.19 L311.47,404.36 L311.22,404.30 L310.97,404.03 L310.72,403.80 L310.47,403.82 L310.22,404.00 L309.97,404.12 L309.72,404.35 L309.47,404.50 L309.22,404.41 L308.97,404.50 L308.72,404.65 L308.47,404.52 L308.22,404.69 L307.97,404.99 L307.72,404.98 L307.47,405.14 L307.22,405.28 L306.97,405.22 L306.72,405.23 L306.47,405.05 L306.22,404.87 L305.97,404.88 L305.72,405.02 L305.47,405.09 L305.22,405.06 L304.97,404.95 L304.72,404.74 L304.47,404.50 L304.22,404.21 L303.97,403.82 L303.72,403.85 L303.47,403.93 L303.22,403.68 L302.97,403.71 L302.72,403.76 L302.47,403.85 L302.22,404.19 L301.97,404.15 L301.72,404.14 L301.47,404.04 L301.22,403.95 L300.97,404.19 L300.72,404.52 L300.47,404.66 L300.22,404.71 L299.97,404.56 L299.72,404.61 L299.47,404.54 L299.22,404.88 L298.97,405.03 L298.72,405.20 L298.47,405.61 L298.22,405.67 L297.97,405.56 L297.72,405.18 L297.47,405.14 L297.22,404.95 L296.97,404.93 L296.72,404.93 L296.47,404.49 L296.22,404.34 L295.97,404.14 L295.72,403.59 L295.47,403.79 L295.22,403.83 L294.97,403.81 L294.72,403.97 L294.47,404.07 L294.22,403.92 L293.97,404.12 L293.72,404.25 L293.47,404.11 L293.22,404.06 L292.97,403.85 L292.72,403.73 L292.47,404.01 L292.22,404.45 L291.97,404.66 L291.72,405.05 L291.47,405.37 L291.22,405.29 L290.97,405.37 L290.72,405.21 L290.47,405.11 L290.22,405.20 L289.97,405.16 L289.72,404.93 L289.47,404.97 L289.22,405.00 L288.97,405.01 L288.72,405.28 L288.47,405.13 L288.22,405.02 L287.97,404.91 L287.72,404.61 L287.47,404.34 L287.22,404.31 L286.97,404.08 L286.72,404.05 L286.47,403.91 L286.22,403.79 L285.97,403.64 L285.72,403.70 L285.47,403.59 L285.22,403.63 L284.97,403.88 L284.72,403.83 L284.47,404.08 L284.22,404.63 L283.97,404.87 L283.72,404.74 L283.47,404.95 L283.22,405.14 L282.97,405.24 L282.72,405.51 L282.47,405.35 L282.22,405.48 L281.97,405.61 L281.72,405.80 L281.47,405.77 L281.22,405.78 L280.97,405.56 L280.72,405.49 L280.47,405.50 L280.22,405.15 L279.97,405.05 L279.72,404.89 L279.47,404.58 L279.22,404.30 L278.97,404.31 L278.72,403.97 L278.47,403.72 L278.22,403.68 L277.97,403.69 L277.72,403.93 L277.47,404.12 L277.22,404.03 L276.97,404.14 L276.72,404.39 L276.47,404.29 L276.22,404.16 L275.97,404.52 L275.72,404.56 L275.47,404.89 L275.22,405.21 L274.97,405.34 L274.72,405.29 L274.47,405.40 L274.22,405.63 L273.97,405.88 L273.72,406.05 L273.47,406.01 L273.22,405.76 L272.97,405.26 L272.72,405.11 L272.47,405.00 L272.22,405.14 L271.97,405.36 L271.72,405.23 L271.47,405.08 L271.22,404.29 L270.97,403.86 L270.72,403.80 L270.47,403.76 L270.22,404.19 L269.97,404.22 L269.72,403.95 L269.47,404.09 L269.22,403.79 L268.97,404.05 L268.72,404.25 L268.47,403.99 L268.22,404.01 L267.97,403.94 L267.72,404.10 L267.47,404.33 L267.22,404.52 L266.97,404.55 L266.72,404.89 L266.47,405.02 L266.22,405.15 L265.97,405.16 L265.72,405.10 L265.47,405.16 L265.22,405.11 L264.97,405.21 L264.72,405.14 L264.47,404.97 L264.22,404.80 L263.97,404.50 L263.72,404.38 L263.47,404.25 L263.22,404.02 L262.97,403.97 L262.72,403.75 L262.47,403.59 L262.22,403.86 L261.97,403.72 L261.72,403.77 L261.47,403.88 L261.22,403.83 L260.97,403.80 L260.72,403.94 L260.47,404.15 L260.22,403.97 L259.97,404.02 L259.72,404.30 L259.47,404.34 L259.22,404.82 L258.97,404.99 L258.72,404.88 L258.47,405.21 L258.22,404.83 L257.97,404.84 L257.72,404.87 L257.47,404.91 L257.22,405.40 L256.97,405.36 L256.72,405.53 L256.47,405.48 L256.22,405.41 L255.97,405.49 L255.72,405.26 L255.47,405.11 L255.22,404.82 L254.97,404.44 L254.72,403.91 L254.47,403.75 L254.22,403.86 L253.97,403.89 L253.72,403.95 L253.47,404.00 L253.22,404.05 L252.97,403.96 L252.72,404.17 L252.47,404.11 L252.22,403.92 L251.97,404.06 L251.72,404.03 L251.47,404.22 L251.22,404.48 L250.97,404.67 L250.72,404.68 L250.47,404.87 L250.22,405.11 L249.97,405.21 L249.72,405.41 L249.47,405.36 L249.22,405.12 L248.97,405.09 L248.72,404.94 L248.47,405.01 L248.22,404.97 L247.97,405.06 L247.72,404.94 L247.47,404.84 L247.22,404.93 L246.97,404.71 L246.72,404.65 L246.47,404.34 L246.22,404.32 L245.97,404.35 L245.72,404.13 L245.47,404.05 L245.22,404.08 L244.97,404.04 L244.72,404.13 L244.47,404.34 L244.22,404.04 L243.97,404.02 L243.72,404.13 L243.47,403.93 L243.22,404.30 L242.97,404.72 L242.72,404.95 L242.47,405.03 L242.22,405.28 L241.97,405.31 L241.72,405.23 L241.47,405.44 L241.22,405.36 L240.97,405.19 L240.72,405.21 L240.47,405.12 L240.22,405.19 L239.97,405.30 L239.72,405.24 L239.47,405.25 L239.22,405.05 L238.97,404.90 L238.72,404.82 L238.47,404.66 L238.22,404.35 L237.97,404.24 L237.72,404.12 L237.47,403.87 L237.22,403.79 L236.97,403.97 L236.72,404.04 L236.47,404.23 L236.22,404.35 L235.97,404.26 L235.72,404.21 L235.47,404.28 L235.22,404.12 L234.97,404.32 L234.72,404.47 L234.47,404.48 L234.22,404.78 L233.97,404.90 L233.72,405.22 L233.47,405.09 L233.22,405.08 L232.97,405.04 L232.72,404.79 L232.47,405.03 L232.22,405.16 L231.97,405.03 L231.72,405.21 L231.47,405.19 L231.22,404.97 L230.97,405.26 L230.72,404.85 L230.47,404.80 L230.22,404.41 L229.97,403.85 L229.72,403.84 L229.47,403.55 L229.22,403.65 L228.97,403.60 L228.72,403.74 L228.47,403.78 L228.22,403.81 L227.97,403.91 L227.72,404.12 L227.47,404.11 L227.22,404.09 L226.97,404.17 L226.72,404.36 L226.47,404.63 L226.22,404.67 L225.97,404.66 L225.72,404.73 L225.47,404.82 L225.22,405.06 L224.97,405.15 L224.72,405.38 L224.47,405.50 L224.22,405.43 L223.97,405.63 L223.72,405.38 L223.47,405.10 L223.22,405.19 L222.97,404.94 L222.72,404.83 L222.47,404.78 L222.22,404.70 L221.97,404.51 L221.72,404.14 L221.47,404.51 L221.22,404.25 L220.97,403.88 L220.72,403.83 L220.47,403.31 L220.22,403.53 L219.97,403.68 L219.72,403.73 L219.47,404.09 L219.22,403.98 L218.97,404.22 L218.72,404.22 L218.47,404.39 L218.22,404.45 L217.97,404.35 L217.72,404.65 L217.47,405.05 L217.22,405.21 L216.97,405.43 L216.72,405.43 L216.47,405.41 L216.22,405.53 L215.97,405.55 L215.72,405.59 L215.47,405.30 L215.22,405.10 L214.97,404.97 L214.72,404.52 L214.47,404.58 L214.22,404.38 L213.97,404.32 L213.72,404.31 L213.47,404.14 L213.22,404.29 L212.97,404.18 L212.72,404.37 L212.47,404.18 L212.22,404.10 L211.97,404.09 L211.72,403.97 L211.47,403.92 L211.22,403.96 L210.97,403.96 L210.72,404.00 L210.47,404.03 L210.22,404.40 L209.97,404.54 L209.72,404.51 L209.47,404.93 L209.22,405.04 L208.97,405.01 L208.72,405.22 L208.47,405.05 L208.22,404.97 L207.97,405.17 L207.72,405.07 L207.47,405.01 L207.22,404.92 L206.97,404.73 L206.72,404.62 L206.47,404.53 L206.22,404.56 L205.97,404.58 L205.72,404.35 L205.47,404.14 L205.22,404.08 L204.97,403.91 L204.72,404.07 L204.47,404.02 L204.22,403.81 L203.97,403.89 L203.72,404.02 L203.47,404.08 L203.22,404.37 L202.97,404.24 L202.72,404.18 L202.47,404.18 L202.22,404.08 L201.97,404.88 L201.72,405.10 L201.47,405.21 L201.22,405.39 L200.97,405.36 L200.72,405.39 L200.47,405.60 L200.22,405.77 L199.97,405.61 L199.72,405.70 L199.47,405.66 L199.22,405.56 L198.97,405.56 L198.72,405.27 L198.47,405.11 L198.22,404.78 L197.97,404.79 L197.72,404.64 L197.47,404.26 L197.22,403.83 L196.97,403.80 L196.72,403.77 L196.47,403.88 L196.22,404.02 L195.97,403.69 L195.72,403.63 L195.47,403.62 L195.22,403.67 L194.97,403.78 L194.72,404.06 L194.47,404.05 L194.22,403.95 L193.97,404.26 L193.72,404.48 L193.47,404.89 L193.22,405.27 L192.97,405.15 L192.72,405.56 L192.47,405.80 L192.22,405.69 L191.97,405.76 L191.72,405.50 L191.47,405.33 L191.22,405.35 L190.97,405.48 L190.72,405.60 L190.47,405.35 L190.22,405.32 L189.97,405.34 L189.72,405.01 L189.47,405.02 L189.22,404.75 L188.97,403.88 L188.72,404.06 L188.47,403.75 L188.22,403.85 L187.97,404.26 L187.72,403.94 L187.47,404.20 L187.22,404.02 L186.97,403.90 L186.72,403.90 L186.47,404.06 L186.22,404.00 L185.97,403.89 L185.72,404.35 L185.47,404.44 L185.22,404.84 L184.97,404.95 L184.72,405.18 L184.47,405.16 L184.22,405.14 L183.97,405.24 L183.72,405.16 L183.47,405.31 L183.22,405.49 L182.97,405.53 L182.72,405.37 L182.47,405.31 L182.22,405.04 L181.97,404.85 L181.72,404.92 L181.47,404.93 L181.22,404.82 L180.97,404.68 L180.72,404.10Z" fill="#ff0000"/>
<rect x="446.6" y="247.7" width="81.80" height="25.50" fill="#fff" stroke="#a9a9a9" stroke-width="1"/>
<path d="M452.7,254.6H466.5" stroke="#0000ff" stroke-width="1.5"/>
<path d="M452.7,267.1H466.5" stroke="#ff0000" stroke-width="1.5"/>
<text x="468" y="258.20" font-size="9.4" font-style="italic">FOC_Thrust</text>
<text x="468" y="270.70" font-size="9.4" font-style="italic">MPSC_Thrust</text>
<text transform="translate(19.5,331.6) rotate(-90)" text-anchor="middle" font-size="15" font-style="italic">Thrust(N)</text>
<rect x="53.20" y="448.60" width="478.15" height="194.30" fill="none" stroke="#a9a9a9" stroke-width="1.1"/>
<path d="M53.20,642.90v-4.5 M53.20,448.60v4.5 M101.02,642.90v-4.5 M101.02,448.60v4.5 M148.83,642.90v-4.5 M148.83,448.60v4.5 M196.64,642.90v-4.5 M196.64,448.60v4.5 M244.46,642.90v-4.5 M244.46,448.60v4.5 M292.28,642.90v-4.5 M292.28,448.60v4.5 M340.09,642.90v-4.5 M340.09,448.60v4.5 M387.90,642.90v-4.5 M387.90,448.60v4.5 M435.72,642.90v-4.5 M435.72,448.60v4.5 M483.54,642.90v-4.5 M483.54,448.60v4.5 M531.35,642.90v-4.5 M531.35,448.60v4.5 M53.20,625.47h4.5 M531.35,625.47h-4.5 M53.20,585.81h4.5 M531.35,585.81h-4.5 M53.20,546.15h4.5 M531.35,546.15h-4.5 M53.20,506.49h4.5 M531.35,506.49h-4.5 M53.20,466.83h4.5 M531.35,466.83h-4.5" stroke="#a9a9a9" stroke-width="1" fill="none"/>
<text x="53.20" y="659.30" text-anchor="middle" font-size="13.3">0</text>
<text x="101.02" y="659.30" text-anchor="middle" font-size="13.3">0.1</text>
<text x="148.83" y="659.30" text-anchor="middle" font-size="13.3">0.2</text>
<text x="196.64" y="659.30" text-anchor="middle" font-size="13.3">0.3</text>
<text x="244.46" y="659.30" text-anchor="middle" font-size="13.3">0.4</text>
<text x="292.28" y="659.30" text-anchor="middle" font-size="13.3">0.5</text>
<text x="340.09" y="659.30" text-anchor="middle" font-size="13.3">0.6</text>
<text x="387.90" y="659.30" text-anchor="middle" font-size="13.3">0.7</text>
<text x="435.72" y="659.30" text-anchor="middle" font-size="13.3">0.8</text>
<text x="483.54" y="659.30" text-anchor="middle" font-size="13.3">0.9</text>
<text x="531.35" y="659.30" text-anchor="middle" font-size="13.3">1</text>
<text x="49.60" y="630.47" text-anchor="end" font-size="13.3">-<tspan dx="1.6">400</tspan></text>
<text x="49.60" y="590.81" text-anchor="end" font-size="13.3">-<tspan dx="1.6">200</tspan></text>
<text x="49.60" y="551.15" text-anchor="end" font-size="13.3">0</text>
<text x="49.60" y="511.49" text-anchor="end" font-size="13.3">200</text>
<text x="49.60" y="471.83" text-anchor="end" font-size="13.3">400</text>
<path d="M53.2,502.7 L53.4,502.7 L53.6,502.7 L53.8,502.7 L54.0,502.7 L54.2,502.7 L54.4,502.7 L54.6,502.7 L54.8,502.8 L55.0,503.0 L55.2,503.3 L55.4,503.7 L55.6,504.2 L55.8,504.8 L56.0,505.5 L56.2,506.3 L56.4,507.0 L56.6,507.9 L56.8,508.7 L57.0,509.6 L57.2,510.4 L57.4,511.2 L57.6,512.0 L57.8,512.7 L58.0,513.4 L58.2,514.0 L58.4,514.7 L58.6,515.3 L58.8,515.9 L59.0,516.5 L59.2,517.1 L59.4,517.8 L59.6,518.4 L59.8,519.0 L60.0,519.6 L60.2,520.2 L60.4,520.9 L60.6,521.5 L60.8,522.2 L61.0,522.8 L61.2,523.5 L61.4,524.1 L61.6,524.8 L61.8,525.5 L62.0,526.2 L62.2,526.9 L62.4,527.6 L62.6,528.3 L62.8,529.1 L63.0,529.8 L63.2,530.6 L63.4,531.4 L63.6,532.2 L63.8,532.9 L64.0,533.7 L64.2,534.6 L64.4,535.4 L64.6,536.2 L64.8,537.0 L65.0,537.8 L65.2,538.6 L65.4,539.4 L65.6,540.3 L65.8,541.1 L66.0,541.9 L66.2,542.7 L66.4,543.5 L66.6,544.3 L66.8,545.1 L67.0,545.9 L67.2,546.7 L67.4,547.6 L67.6,548.4 L67.7,549.2 L67.9,550.0 L68.1,550.8 L68.3,551.6 L68.5,552.5 L68.7,553.3 L68.9,554.1 L69.1,554.9 L69.3,555.7 L69.5,556.5 L69.7,557.4 L69.9,558.2 L70.1,559.0 L70.3,559.8 L70.5,560.6 L70.7,561.4 L70.9,562.2 L71.1,563.0 L71.3,563.8 L71.5,564.6 L71.7,565.4 L71.9,566.2 L72.1,567.0 L72.3,567.8 L72.5,568.6 L72.7,569.4 L72.9,570.2 L73.1,571.0 L73.3,571.8 L73.5,572.5 L73.7,573.3 L73.9,574.1 L74.1,574.8 L74.3,575.5 L74.5,576.3 L74.7,577.0 L74.9,577.7 L75.1,578.4 L75.3,579.1 L75.5,579.8 L75.7,580.5 L75.9,581.2 L76.1,581.9 L76.3,582.6 L76.5,583.3 L76.7,583.9 L76.9,584.6 L77.1,585.3 L77.3,586.0 L77.5,586.6 L77.7,587.3 L77.9,588.0 L78.1,588.7 L78.3,589.4 L78.5,590.1 L78.7,590.8 L78.9,591.5 L79.1,592.3 L79.3,593.0 L79.5,593.7 L79.7,594.5 L79.9,595.2 L80.1,596.0 L80.3,596.7 L80.5,597.4 L80.7,598.2 L80.9,598.9 L81.1,599.6 L81.3,600.3 L81.5,601.0 L81.7,601.7 L81.9,602.3 L82.1,602.9 L82.3,603.6 L82.5,604.1 L82.7,604.7 L82.9,605.3 L83.1,605.9 L83.3,606.5 L83.5,607.0 L83.7,607.6 L83.9,608.1 L84.1,608.7 L84.3,609.2 L84.5,609.7 L84.7,610.3 L84.9,610.7 L85.1,611.2 L85.3,611.7 L85.5,612.2 L85.7,612.6 L85.9,613.0 L86.1,613.4 L86.3,613.8 L86.5,614.1 L86.7,614.5 L86.9,614.8 L87.1,615.2 L87.3,615.5 L87.5,615.9 L87.7,616.2 L87.9,616.6 L88.1,616.9 L88.3,617.2 L88.5,617.6 L88.7,617.9 L88.9,618.1 L89.1,618.4 L89.3,618.6 L89.5,618.8 L89.7,619.0 L89.9,619.1 L90.1,619.2 L90.3,619.3 L90.5,619.3 L90.7,619.3 L90.9,619.3 L91.1,619.2 L91.3,619.1 L91.5,619.0 L91.7,618.8 L91.9,618.7 L92.1,618.5 L92.3,618.3 L92.5,618.1 L92.7,617.8 L92.9,617.6 L93.1,617.3 L93.3,617.1 L93.5,616.8 L93.7,616.5 L93.9,616.2 L94.1,615.9 L94.3,615.6 L94.5,615.3 L94.7,615.0 L94.9,614.7 L95.1,614.4 L95.3,614.0 L95.5,613.6 L95.7,613.1 L95.9,612.7 L96.1,612.2 L96.3,611.7 L96.5,611.1 L96.7,610.6 L96.8,610.0 L97.0,609.4 L97.2,608.8 L97.4,608.1 L97.6,607.5 L97.8,606.8 L98.0,606.1 L98.2,605.4 L98.4,604.7 L98.6,604.0 L98.8,603.3 L99.0,602.5 L99.2,601.6 L99.4,600.7 L99.6,599.8 L99.8,598.8 L100.0,597.8 L100.2,596.8 L100.4,595.7 L100.6,594.6 L100.8,593.5 L101.0,592.3 L101.2,591.1 L101.4,589.9 L101.6,588.7 L101.8,587.5 L102.0,586.3 L102.2,585.0 L102.4,583.8 L102.6,582.5 L102.8,581.2 L103.0,579.9 L103.2,578.6 L103.4,577.3 L103.6,575.9 L103.8,574.5 L104.0,573.1 L104.2,571.6 L104.4,570.2 L104.6,568.7 L104.8,567.2 L105.0,565.6 L105.2,564.1 L105.4,562.5 L105.6,560.9 L105.8,559.3 L106.0,557.6 L106.2,556.0 L106.4,554.3 L106.6,552.6 L106.8,550.9 L107.0,549.1 L107.2,547.4 L107.4,545.6 L107.6,543.7 L107.8,541.8 L108.0,539.9 L108.2,538.0 L108.4,536.0 L108.6,534.0 L108.8,532.0 L109.0,530.0 L109.2,527.9 L109.4,525.8 L109.6,523.7 L109.8,521.6 L110.0,519.5 L110.2,517.1 L110.4,514.7 L110.6,512.1 L110.8,509.4 L111.0,506.6 L111.2,503.9 L111.4,501.1 L111.6,498.4 L111.8,495.9 L112.0,493.4 L112.2,491.2 L112.4,489.1 L112.6,487.3 L112.8,485.8 L113.0,484.5 L113.2,483.5 L113.4,482.4 L113.6,481.4 L113.8,480.4 L114.0,479.4 L114.2,478.5 L114.4,477.6 L114.6,476.7 L114.8,475.9 L115.0,475.2 L115.2,474.6 L115.4,474.0 L115.6,473.5 L115.8,473.1 L116.0,472.8 L116.2,472.5 L116.4,472.4 L116.6,472.4 L116.8,472.4 L117.0,472.6 L117.2,472.8 L117.4,473.1 L117.6,473.4 L117.8,473.9 L118.0,474.4 L118.2,475.0 L118.4,475.7 L118.6,476.5 L118.8,477.4 L119.0,478.3 L119.2,479.3 L119.4,480.4 L119.6,481.6 L119.8,482.9 L120.0,484.2 L120.2,485.6 L120.4,487.1 L120.6,488.7 L120.8,490.3 L121.0,492.0 L121.2,493.8 L121.4,495.6 L121.6,497.5 L121.8,499.5 L122.0,501.5 L122.2,503.6 L122.4,505.8 L122.6,508.0 L122.8,510.2 L123.0,512.5 L123.2,514.9 L123.4,517.3 L123.6,519.7 L123.8,522.2 L124.0,524.7 L124.2,527.3 L124.4,529.9 L124.6,532.5 L124.8,535.1 L125.0,537.8 L125.2,540.5 L125.4,543.2 L125.6,545.9 L125.7,548.6 L125.9,551.3 L126.1,554.0 L126.3,556.7 L126.5,559.4 L126.7,562.1 L126.9,564.7 L127.1,567.4 L127.3,570.0 L127.5,572.6 L127.7,575.2 L127.9,577.8 L128.1,580.3 L128.3,582.7 L128.5,585.1 L128.7,587.5 L128.9,589.8 L129.1,592.1 L129.3,594.3 L129.5,596.4 L129.7,598.5 L129.9,600.5 L130.1,602.5 L130.3,604.3 L130.5,606.1 L130.7,607.8 L130.9,609.4 L131.1,610.9 L131.3,612.4 L131.5,613.7 L131.7,614.9 L131.9,616.1 L132.1,617.1 L132.3,618.1 L132.5,618.9 L132.7,619.7 L132.9,620.3 L133.1,620.8 L133.3,621.2 L133.5,621.5 L133.7,621.7 L133.9,621.8 L134.1,621.7 L134.3,621.6 L134.5,621.3 L134.7,620.9 L134.9,620.4 L135.1,619.7 L135.3,619.0 L135.5,618.1 L135.7,617.2 L135.9,616.1 L136.1,614.9 L136.3,613.6 L136.5,612.2 L136.7,610.6 L136.9,609.0 L137.1,607.3 L137.3,605.4 L137.5,603.5 L137.7,601.4 L137.9,599.3 L138.1,597.1 L138.3,594.7 L138.5,592.3 L138.7,589.9 L138.9,587.3 L139.1,584.7 L139.3,581.9 L139.5,579.2 L139.7,576.3 L139.9,573.4 L140.1,570.5 L140.3,567.5 L140.5,564.4 L140.7,561.4 L140.9,558.3 L141.1,555.1 L141.3,551.9 L141.5,548.8 L141.7,545.6 L141.9,542.4 L142.1,539.2 L142.3,536.0 L142.5,532.8 L142.7,529.6 L142.9,526.5 L143.1,523.4 L143.3,520.3 L143.5,517.3 L143.7,514.3 L143.9,511.3 L144.1,508.4 L144.3,505.6 L144.5,502.9 L144.7,500.2 L144.9,497.6 L145.1,495.1 L145.3,492.7 L145.5,490.4 L145.7,488.1 L145.9,486.0 L146.1,484.0 L146.3,482.2 L146.5,480.4 L146.7,478.8 L146.9,477.2 L147.1,475.9 L147.3,474.6 L147.5,473.5 L147.7,472.6 L147.9,471.8 L148.1,471.1 L148.3,470.6 L148.5,470.2 L148.7,470.0 L148.9,469.9 L149.1,470.0 L149.3,470.3 L149.5,470.7 L149.7,471.3 L149.9,472.0 L150.1,472.9 L150.3,474.0 L150.5,475.2 L150.7,476.5 L150.9,478.1 L151.1,479.7 L151.3,481.6 L151.5,483.5 L151.7,485.7 L151.9,487.9 L152.1,490.3 L152.3,492.9 L152.5,495.5 L152.7,498.3 L152.9,501.2 L153.1,504.2 L153.3,507.4 L153.5,510.6 L153.7,513.9 L153.9,517.3 L154.1,520.7 L154.3,524.3 L154.5,527.9 L154.6,531.5 L154.8,535.2 L155.0,538.9 L155.2,542.7 L155.4,546.5 L155.6,550.2 L155.8,554.0 L156.0,557.8 L156.2,561.5 L156.4,565.2 L156.6,568.9 L156.8,572.5 L157.0,576.1 L157.2,579.6 L157.4,583.0 L157.6,586.3 L157.8,589.6 L158.0,592.7 L158.2,595.7 L158.4,598.6 L158.6,601.4 L158.8,604.0 L159.0,606.5 L159.2,608.9 L159.4,611.1 L159.6,613.1 L159.8,615.0 L160.0,616.6 L160.2,618.2 L160.4,619.5 L160.6,620.6 L160.8,621.6 L161.0,622.3 L161.2,622.9 L161.4,623.3 L161.6,623.5 L161.8,623.4 L162.0,623.2 L162.2,622.8 L162.4,622.2 L162.6,621.3 L162.8,620.3 L163.0,619.1 L163.2,617.6 L163.4,616.0 L163.6,614.2 L163.8,612.1 L164.0,609.9 L164.2,607.5 L164.4,605.0 L164.6,602.2 L164.8,599.3 L165.0,596.3 L165.2,593.1 L165.4,589.7 L165.6,586.3 L165.8,582.7 L166.0,579.0 L166.2,575.2 L166.4,571.3 L166.6,567.3 L166.8,563.3 L167.0,559.2 L167.2,555.1 L167.4,551.0 L167.6,546.8 L167.8,542.6 L168.0,538.5 L168.2,534.4 L168.4,530.3 L168.6,526.3 L168.8,522.3 L169.0,518.4 L169.2,514.6 L169.4,510.8 L169.6,507.2 L169.8,503.7 L170.0,500.3 L170.2,497.1 L170.3,494.8 L170.4,494.0 L170.5,492.6 L170.6,491.1 L170.6,490.6 L170.8,488.6 L170.8,488.3 L170.9,486.8 L171.0,485.7 L171.0,485.0 L171.2,483.3 L171.2,483.2 L171.3,481.6 L171.4,481.0 L171.5,480.1 L171.6,478.9 L171.6,478.7 L171.8,477.3 L171.8,477.0 L171.9,476.1 L172.0,475.3 L172.0,474.9 L172.2,473.9 L172.2,473.8 L172.3,472.9 L172.4,472.5 L172.5,472.1 L172.6,471.4 L172.6,471.3 L172.7,470.7 L172.8,470.5 L172.9,470.1 L173.0,469.8 L173.0,469.7 L173.2,469.3 L173.2,469.2 L173.3,469.0 L173.4,468.9 L173.4,468.9 L173.6,468.8 L173.6,468.8 L173.7,469.9 L173.8,470.4 L173.9,471.1 L174.0,472.2 L174.0,472.4 L174.1,473.8 L174.2,474.2 L174.3,475.2 L174.4,476.2 L174.4,476.7 L174.6,478.2 L174.6,478.4 L174.7,479.8 L174.8,480.7 L174.8,481.5 L175.0,483.2 L175.0,483.3 L175.1,485.3 L175.2,486.0 L175.3,487.3 L175.4,488.8 L175.4,489.3 L175.6,491.3 L175.6,491.7 L175.7,493.3 L175.8,494.5 L175.8,495.2 L176.0,497.0 L176.0,497.0 L176.1,498.6 L176.2,499.3 L176.3,500.1 L176.4,501.4 L176.4,501.6 L176.5,503.1 L176.6,503.5 L176.7,504.5 L176.8,505.6 L176.8,506.0 L177.0,507.6 L177.0,507.8 L177.1,509.4 L177.2,510.4 L177.2,511.3 L177.4,513.1 L177.4,513.2 L177.5,515.3 L177.6,516.1 L177.7,517.4 L177.8,519.1 L177.8,519.6 L177.9,521.7 L178.0,522.1 L178.1,523.8 L178.2,525.2 L178.2,526.1 L178.4,528.3 L178.4,528.4 L178.5,530.6 L178.6,531.7 L178.6,532.9 L178.8,534.9 L178.8,535.2 L178.9,537.4 L179.0,538.1 L179.1,539.6 L179.2,541.0 L179.2,541.6 L179.3,543.5 L179.4,543.7 L179.5,545.4 L179.6,546.4 L179.6,547.2 L179.8,548.9 L179.8,548.9 L179.9,550.7 L180.0,551.3 L180.1,552.4 L180.2,553.7 L180.2,554.0 L180.3,555.7 L180.4,556.0 L180.5,557.3 L180.6,558.3 L180.6,558.8 L180.8,560.4 L180.8,560.5 L180.9,561.9 L181.0,562.6 L181.0,563.4 L181.2,564.7 L181.2,564.9 L181.3,566.4 L181.4,566.8 L181.5,567.8 L181.6,568.9 L181.6,569.3 L181.7,570.7 L181.8,570.9 L181.9,572.1 L182.0,572.9 L182.0,573.5 L182.2,574.8 L182.2,574.9 L182.3,576.2 L182.4,576.7 L182.4,577.5 L182.6,578.6 L182.6,578.8 L182.7,580.1 L182.8,580.4 L182.9,581.4 L183.0,582.2 L183.0,582.7 L183.1,583.9 L183.2,583.9 L183.3,585.0 L183.4,585.5 L183.4,586.0 L183.6,586.8 L183.6,586.9 L183.7,587.8 L183.7,588.1 L183.8,588.7 L183.9,589.2 L184.0,589.5 L184.1,590.2 L184.1,590.4 L184.3,591.0 L184.3,591.4 L184.4,591.8 L184.5,592.5 L184.6,592.5 L184.7,593.2 L184.7,593.5 L184.8,594.0 L184.9,594.6 L185.0,594.8 L185.1,595.6 L185.1,595.8 L185.3,596.6 L185.3,597.2 L185.4,597.5 L185.5,598.4 L185.5,598.4 L185.7,599.2 L185.7,599.5 L185.8,599.9 L185.9,600.3 L186.0,600.3 L186.1,600.6 L186.1,600.7 L186.2,600.8 L186.3,601.0 L186.4,601.0 L186.5,601.1 L186.5,601.2 L186.7,601.2 L186.7,601.3 L186.8,601.3 L186.9,601.2 L186.9,601.2 L187.1,601.1 L187.1,601.1 L187.3,600.8 L187.5,600.3 L187.7,599.8 L187.9,599.1 L188.1,598.3 L188.3,597.3 L188.5,596.3 L188.7,595.1 L188.9,593.8 L189.1,592.4 L189.3,590.8 L189.5,589.2 L189.7,587.4 L189.9,585.5 L190.1,583.6 L190.3,581.5 L190.5,579.3 L190.7,577.1 L190.9,574.8 L191.1,572.4 L191.3,569.9 L191.5,567.4 L191.7,564.8 L191.9,562.1 L192.1,559.5 L192.3,556.7 L192.5,554.0 L192.7,551.2 L192.9,548.5 L193.1,545.7 L193.3,542.9 L193.5,540.1 L193.7,537.4 L193.9,534.6 L194.1,531.9 L194.3,529.3 L194.5,526.6 L194.7,524.1 L194.9,521.6 L195.1,519.1 L195.3,516.8 L195.5,514.5 L195.7,512.3 L195.9,510.2 L196.1,508.2 L196.3,506.3 L196.5,504.5 L196.7,502.8 L196.9,501.2 L197.1,499.7 L197.3,498.4 L197.5,497.2 L197.7,496.1 L197.9,495.2 L198.1,494.4 L198.3,493.8 L198.5,493.3 L198.7,492.9 L198.9,492.7 L199.1,492.6 L199.3,492.7 L199.5,492.9 L199.7,493.2 L199.9,493.7 L200.1,494.3 L200.3,495.1 L200.5,496.0 L200.7,497.0 L200.9,498.2 L201.1,499.5 L201.3,500.9 L201.5,502.5 L201.7,504.1 L201.9,505.9 L202.1,507.8 L202.3,509.8 L202.5,511.9 L202.7,514.1 L202.9,516.4 L203.1,518.7 L203.3,521.2 L203.5,523.7 L203.7,526.2 L203.9,528.8 L204.1,531.5 L204.3,534.2 L204.5,536.9 L204.7,539.7 L204.9,542.5 L205.1,545.3 L205.3,548.0 L205.5,550.8 L205.7,553.6 L205.9,556.4 L206.1,559.1 L206.3,561.8 L206.5,564.4 L206.7,567.1 L206.9,569.6 L207.1,572.1 L207.3,574.5 L207.5,576.9 L207.7,579.1 L207.9,581.3 L208.1,583.4 L208.3,585.3 L208.5,587.2 L208.7,589.0 L208.9,590.6 L209.1,592.1 L209.3,593.6 L209.5,594.8 L209.7,596.0 L209.9,597.0 L210.1,597.9 L210.3,598.6 L210.5,599.2 L210.7,599.7 L210.9,600.0 L211.1,600.1 L211.3,600.1 L211.5,600.0 L211.7,599.8 L211.9,599.3 L212.1,598.8 L212.3,598.1 L212.5,597.3 L212.6,596.3 L212.8,595.2 L213.0,593.9 L213.2,592.6 L213.4,591.1 L213.6,589.5 L213.8,587.7 L214.0,585.9 L214.2,583.9 L214.4,581.9 L214.6,579.7 L214.8,577.5 L215.0,575.2 L215.2,572.8 L215.4,570.3 L215.6,567.8 L215.8,565.2 L216.0,562.6 L216.2,559.9 L216.4,557.2 L216.6,554.4 L216.8,551.6 L217.0,548.9 L217.2,546.1 L217.4,543.3 L217.6,540.5 L217.8,537.7 L218.0,535.0 L218.2,532.2 L218.4,529.6 L218.6,526.9 L218.8,524.4 L219.0,521.8 L219.2,519.4 L219.4,517.0 L219.6,514.7 L219.8,512.5 L220.0,510.3 L220.2,508.3 L220.4,506.4 L220.6,504.6 L220.8,502.9 L221.0,501.3 L221.2,499.8 L221.4,498.5 L221.6,497.2 L221.8,496.2 L222.0,495.2 L222.2,494.4 L222.4,493.7 L222.6,493.2 L222.8,492.8 L223.0,492.6 L223.2,492.5 L223.4,492.5 L223.6,492.7 L223.8,493.1 L224.0,493.5 L224.2,494.2 L224.4,494.9 L224.6,495.8 L224.8,496.9 L225.0,498.0 L225.2,499.3 L225.4,500.8 L225.6,502.3 L225.8,504.0 L226.0,505.8 L226.2,507.7 L226.4,509.7 L226.6,511.8 L226.8,514.0 L227.0,516.2 L227.2,518.6 L227.4,521.0 L227.6,523.5 L227.8,526.1 L228.0,528.7 L228.2,531.4 L228.4,534.1 L228.6,536.8 L228.8,539.6 L229.0,542.4 L229.2,545.2 L229.4,548.0 L229.6,550.8 L229.8,553.5 L230.0,556.3 L230.2,559.0 L230.4,561.7 L230.6,564.4 L230.8,567.0 L231.0,569.6 L231.2,572.1 L231.4,574.5 L231.6,576.8 L231.8,579.1 L232.0,581.3 L232.2,583.4 L232.4,585.4 L232.6,587.2 L232.8,589.0 L233.0,590.7 L233.2,592.2 L233.4,593.6 L233.6,594.9 L233.8,596.1 L234.0,597.1 L234.2,598.0 L234.4,598.7 L234.6,599.3 L234.8,599.8 L235.0,600.1 L235.2,600.3 L235.4,600.3 L235.6,600.2 L235.8,599.9 L236.0,599.5 L236.2,598.9 L236.4,598.3 L236.6,597.4 L236.8,596.5 L237.0,595.3 L237.2,594.1 L237.4,592.7 L237.6,591.3 L237.8,589.6 L238.0,587.9 L238.2,586.1 L238.4,584.1 L238.6,582.1 L238.8,579.9 L239.0,577.7 L239.2,575.4 L239.4,573.0 L239.6,570.5 L239.8,568.0 L240.0,565.4 L240.2,562.7 L240.4,560.0 L240.6,557.3 L240.8,554.6 L241.0,551.8 L241.2,549.0 L241.4,546.2 L241.6,543.4 L241.7,540.6 L241.9,537.8 L242.1,535.1 L242.3,532.3 L242.5,529.7 L242.7,527.0 L242.9,524.4 L243.1,521.9 L243.3,519.4 L243.5,517.0 L243.7,514.7 L243.9,512.5 L244.1,510.4 L244.3,508.3 L244.5,506.4 L244.7,504.5 L244.9,502.8 L245.1,501.2 L245.3,499.8 L245.5,498.4 L245.7,497.2 L245.9,496.1 L246.1,495.1 L246.3,494.3 L246.5,493.6 L246.7,493.1 L246.9,492.7 L247.1,492.4 L247.3,492.3 L247.5,492.4 L247.7,492.6 L247.9,492.9 L248.1,493.4 L248.3,494.0 L248.5,494.8 L248.7,495.7 L248.9,496.7 L249.1,497.9 L249.3,499.2 L249.5,500.6 L249.7,502.1 L249.9,503.8 L250.1,505.6 L250.3,507.5 L250.5,509.5 L250.7,511.6 L250.9,513.8 L251.1,516.1 L251.3,518.4 L251.5,520.8 L251.7,523.4 L251.9,525.9 L252.1,528.5 L252.3,531.2 L252.5,533.9 L252.7,536.7 L252.9,539.4 L253.1,542.2 L253.3,545.0 L253.5,547.8 L253.7,550.6 L253.9,553.4 L254.1,556.2 L254.3,558.9 L254.5,561.7 L254.7,564.3 L254.9,566.9 L255.1,569.5 L255.3,572.0 L255.5,574.5 L255.7,576.8 L255.9,579.1 L256.1,581.3 L256.3,583.4 L256.5,585.4 L256.7,587.3 L256.9,589.0 L257.1,590.7 L257.3,592.2 L257.5,593.7 L257.7,595.0 L257.9,596.1 L258.1,597.2 L258.3,598.0 L258.5,598.8 L258.7,599.4 L258.9,599.9 L259.1,600.2 L259.3,600.4 L259.5,600.4 L259.7,600.3 L259.9,600.1 L260.1,599.7 L260.3,599.1 L260.5,598.4 L260.7,597.6 L260.9,596.6 L261.1,595.5 L261.3,594.3 L261.5,592.9 L261.7,591.4 L261.9,589.8 L262.1,588.1 L262.3,586.3 L262.5,584.3 L262.7,582.3 L262.9,580.1 L263.1,577.9 L263.3,575.6 L263.5,573.2 L263.7,570.7 L263.9,568.2 L264.1,565.6 L264.3,562.9 L264.5,560.2 L264.7,557.5 L264.9,554.7 L265.1,551.9 L265.3,549.1 L265.5,546.3 L265.7,543.5 L265.9,540.7 L266.1,537.9 L266.3,535.2 L266.5,532.4 L266.7,529.7 L266.9,527.1 L267.1,524.5 L267.3,522.0 L267.5,519.5 L267.7,517.1 L267.9,514.8 L268.1,512.5 L268.3,510.4 L268.5,508.3 L268.7,506.4 L268.9,504.5 L269.1,502.8 L269.3,501.2 L269.5,499.7 L269.7,498.3 L269.9,497.1 L270.1,496.0 L270.3,495.0 L270.5,494.2 L270.6,493.5 L270.8,493.0 L271.0,492.6 L271.2,492.3 L271.4,492.2 L271.6,492.2 L271.8,492.4 L272.0,492.7 L272.2,493.2 L272.4,493.8 L272.6,494.6 L272.8,495.5 L273.0,496.5 L273.2,497.7 L273.4,499.0 L273.6,500.4 L273.8,501.9 L274.0,503.6 L274.2,505.4 L274.4,507.3 L274.6,509.3 L274.8,511.4 L275.0,513.6 L275.2,515.9 L275.4,518.2 L275.6,520.7 L275.8,523.2 L276.0,525.7 L276.2,528.4 L276.4,531.0 L276.6,533.8 L276.8,536.5 L277.0,539.3 L277.2,542.1 L277.4,544.9 L277.6,547.7 L277.8,550.5 L278.0,553.3 L278.2,556.1 L278.4,558.8 L278.6,561.6 L278.8,564.2 L279.0,566.9 L279.2,569.4 L279.4,572.0 L279.6,574.4 L279.8,576.8 L280.0,579.1 L280.2,581.3 L280.4,583.4 L280.6,585.4 L280.8,587.3 L281.0,589.1 L281.2,590.7 L281.4,592.3 L281.6,593.7 L281.8,595.0 L282.0,596.2 L282.2,597.2 L282.4,598.1 L282.6,598.9 L282.8,599.5 L283.0,600.0 L283.2,600.3 L283.4,600.5 L283.6,600.6 L283.8,600.5 L284.0,600.2 L284.2,599.8 L284.4,599.3 L284.6,598.6 L284.8,597.8 L285.0,596.8 L285.2,595.7 L285.4,594.5 L285.6,593.1 L285.8,591.6 L286.0,590.0 L286.2,588.3 L286.4,586.5 L286.6,584.5 L286.8,582.5 L287.0,580.3 L287.2,578.1 L287.4,575.8 L287.6,573.4 L287.8,570.9 L288.0,568.3 L288.2,565.7 L288.4,563.1 L288.6,560.4 L288.8,557.6 L289.0,554.9 L289.2,552.1 L289.4,549.3 L289.6,546.5 L289.8,543.6 L290.0,540.8 L290.2,538.0 L290.4,535.3 L290.6,532.5 L290.8,529.8 L291.0,527.2 L291.2,524.6 L291.4,522.0 L291.6,519.5 L291.8,517.1 L292.0,514.8 L292.2,512.5 L292.4,510.4 L292.6,508.3 L292.8,506.4 L293.0,504.5 L293.2,502.8 L293.4,501.2 L293.6,499.7 L293.8,498.3 L294.0,497.0 L294.2,495.9 L294.4,495.0 L294.6,494.1 L294.8,493.4 L295.0,492.9 L295.2,492.5 L295.4,492.2 L295.6,492.1 L295.8,492.1 L296.0,492.3 L296.2,492.6 L296.4,493.1 L296.6,493.7 L296.8,494.4 L297.0,495.3 L297.2,496.3 L297.4,497.5 L297.6,498.8 L297.8,500.2 L298.0,501.8 L298.2,503.4 L298.4,505.2 L298.6,507.1 L298.8,509.1 L299.0,511.2 L299.2,513.4 L299.4,515.7 L299.5,518.0 L299.7,520.5 L299.9,523.0 L300.1,525.6 L300.3,528.2 L300.5,530.9 L300.7,533.6 L300.9,536.4 L301.1,539.1 L301.3,541.9 L301.5,544.8 L301.7,547.6 L301.9,550.4 L302.1,553.2 L302.3,556.0 L302.5,558.7 L302.7,561.5 L302.9,564.2 L303.1,566.8 L303.3,569.4 L303.5,571.9 L303.7,574.4 L303.9,576.7 L304.1,579.0 L304.3,581.2 L304.5,583.4 L304.7,585.4 L304.9,587.3 L305.1,589.1 L305.3,590.8 L305.5,592.3 L305.7,593.8 L305.9,595.1 L306.1,596.3 L306.3,597.3 L306.5,598.2 L306.7,599.0 L306.9,599.6 L307.1,600.1 L307.3,600.5 L307.5,600.6 L307.7,600.7 L307.9,600.6 L308.1,600.4 L308.3,600.0 L308.5,599.4 L308.7,598.8 L308.9,597.9 L309.1,597.0 L309.3,595.9 L309.5,594.7 L309.7,593.3 L309.9,591.8 L310.1,590.2 L310.3,588.5 L310.5,586.7 L310.7,584.7 L310.9,582.7 L311.1,580.5 L311.3,578.3 L311.5,575.9 L311.7,573.5 L311.9,571.1 L312.1,568.5 L312.3,565.9 L312.5,563.2 L312.7,560.5 L312.9,557.8 L313.1,555.0 L313.3,552.2 L313.5,549.4 L313.7,546.6 L313.9,543.8 L314.1,541.0 L314.3,538.2 L314.5,535.4 L314.7,532.6 L314.9,529.9 L315.1,527.2 L315.3,524.6 L315.5,522.1 L315.7,519.6 L315.9,517.2 L316.1,514.8 L316.3,512.6 L316.5,510.4 L316.7,508.3 L316.9,506.3 L317.1,504.5 L317.3,502.7 L317.5,501.1 L317.7,499.6 L317.9,498.2 L318.1,497.0 L318.3,495.8 L318.5,494.9 L318.7,494.0 L318.9,493.3 L319.1,492.8 L319.3,492.3 L319.5,492.1 L319.7,491.9 L319.9,492.0 L320.1,492.1 L320.3,492.4 L320.5,492.9 L320.7,493.5 L320.9,494.3 L321.1,495.1 L321.3,496.2 L321.5,497.3 L321.7,498.6 L321.9,500.0 L322.1,501.6 L322.3,503.3 L322.5,505.0 L322.7,506.9 L322.9,508.9 L323.1,511.0 L323.3,513.2 L323.5,515.5 L323.7,517.9 L323.9,520.3 L324.1,522.9 L324.3,525.4 L324.5,528.1 L324.7,530.8 L324.9,533.5 L325.1,536.3 L325.3,539.1 L325.5,541.9 L325.7,544.7 L325.9,547.5 L326.1,550.3 L326.3,553.2 L326.5,556.0 L326.7,558.7 L326.9,561.5 L327.1,564.2 L327.3,566.8 L327.5,569.4 L327.7,571.9 L327.9,574.4 L328.1,576.8 L328.3,579.1 L328.5,581.3 L328.6,583.4 L328.8,585.4 L329.0,587.4 L329.2,589.2 L329.4,590.9 L329.6,592.4 L329.8,593.9 L330.0,595.2 L330.2,596.4 L330.4,597.4 L330.6,598.3 L330.8,599.1 L331.0,599.8 L331.2,600.2 L331.4,600.6 L331.6,600.8 L331.8,600.8 L332.0,600.7 L332.2,600.5 L332.4,600.1 L332.6,599.6 L332.8,598.9 L333.0,598.1 L333.2,597.1 L333.4,596.0 L333.6,594.8 L333.8,593.4 L334.0,591.9 L334.2,590.3 L334.4,588.6 L334.6,586.8 L334.8,584.8 L335.0,582.7 L335.2,580.6 L335.4,578.3 L335.6,576.0 L335.8,573.6 L336.0,571.1 L336.2,568.6 L336.4,565.9 L336.6,563.3 L336.8,560.6 L337.0,557.8 L337.2,555.0 L337.4,552.2 L337.6,549.4 L337.8,546.6 L338.0,543.7 L338.2,540.9 L338.4,538.1 L338.6,535.3 L338.8,532.6 L339.0,529.8 L339.2,527.2 L339.4,524.5 L339.6,522.0 L339.8,519.5 L340.0,517.1 L340.2,514.7 L340.4,512.4 L340.6,510.3 L340.8,508.2 L341.0,506.2 L341.2,504.4 L341.4,502.6 L341.6,501.0 L341.8,499.5 L342.0,498.1 L342.2,496.8 L342.4,495.7 L342.6,494.7 L342.8,493.9 L343.0,493.2 L343.2,492.6 L343.4,492.2 L343.6,491.9 L343.8,491.8 L344.0,491.8 L344.2,492.0 L344.4,492.3 L344.6,492.8 L344.8,493.4 L345.0,494.2 L345.2,495.1 L345.4,496.1 L345.6,497.3 L345.8,498.6 L346.0,500.0 L346.2,501.5 L346.4,503.2 L346.6,505.0 L346.8,506.9 L347.0,508.9 L347.2,511.0 L347.4,513.2 L347.6,515.5 L347.8,517.9 L348.0,520.3 L348.2,522.9 L348.4,525.4 L348.6,528.1 L348.8,530.8 L349.0,533.5 L349.2,536.3 L349.4,539.1 L349.6,541.9 L349.8,544.7 L350.0,547.6 L350.2,550.4 L350.4,553.2 L350.6,556.0 L350.8,558.8 L351.0,561.5 L351.2,564.2 L351.4,566.9 L351.6,569.5 L351.8,572.0 L352.0,574.5 L352.2,576.9 L352.4,579.2 L352.6,581.4 L352.8,583.5 L353.0,585.5 L353.2,587.4 L353.4,589.2 L353.6,590.9 L353.8,592.5 L354.0,594.0 L354.2,595.3 L354.4,596.5 L354.6,597.5 L354.8,598.4 L355.0,599.2 L355.2,599.8 L355.4,600.3 L355.6,600.7 L355.8,600.8 L356.0,600.9 L356.2,600.8 L356.4,600.5 L356.6,600.2 L356.8,599.6 L357.0,598.9 L357.2,598.1 L357.4,597.1 L357.5,596.0 L357.7,594.8 L357.9,593.4 L358.1,592.0 L358.3,590.3 L358.5,588.6 L358.7,586.8 L358.9,584.8 L359.1,582.7 L359.3,580.6 L359.5,578.3 L359.7,576.0 L359.9,573.6 L360.1,571.1 L360.3,568.5 L360.5,565.9 L360.7,563.2 L360.9,560.5 L361.1,557.8 L361.3,555.0 L361.5,552.2 L361.7,549.4 L361.9,546.5 L362.1,543.7 L362.3,540.9 L362.5,538.1 L362.7,535.3 L362.9,532.5 L363.1,529.8 L363.3,527.1 L363.5,524.5 L363.7,521.9 L363.9,519.4 L364.1,517.0 L364.3,514.7 L364.5,512.4 L364.7,510.2 L364.9,508.2 L365.1,506.2 L365.3,504.3 L365.5,502.6 L365.7,500.9 L365.9,499.4 L366.1,498.1 L366.3,496.8 L366.5,495.7 L366.7,494.7 L366.9,493.9 L367.1,493.2 L367.3,492.6 L367.5,492.2 L367.7,491.9 L367.9,491.8 L368.1,491.8 L368.3,492.0 L368.5,492.3 L368.7,492.8 L368.9,493.4 L369.1,494.2 L369.3,495.0 L369.5,496.1 L369.7,497.3 L369.9,498.6 L370.1,500.0 L370.3,501.5 L370.5,503.2 L370.7,505.0 L370.9,506.9 L371.1,508.9 L371.3,511.0 L371.5,513.2 L371.7,515.5 L371.9,517.9 L372.1,520.4 L372.3,522.9 L372.5,525.5 L372.7,528.1 L372.9,530.8 L373.1,533.6 L373.3,536.3 L373.5,539.1 L373.7,541.9 L373.9,544.8 L374.1,547.6 L374.3,550.4 L374.5,553.2 L374.7,556.0 L374.9,558.8 L375.1,561.6 L375.3,564.3 L375.5,566.9 L375.7,569.5 L375.9,572.0 L376.1,574.5 L376.3,576.9 L376.5,579.2 L376.7,581.4 L376.9,583.5 L377.1,585.6 L377.3,587.5 L377.5,589.3 L377.7,591.0 L377.9,592.5 L378.1,594.0 L378.3,595.3 L378.5,596.5 L378.7,597.5 L378.9,598.5 L379.1,599.2 L379.3,599.9 L379.5,600.3 L379.7,600.7 L379.9,600.9 L380.1,600.9 L380.3,600.8 L380.5,600.6 L380.7,600.2 L380.9,599.6 L381.1,598.9 L381.3,598.1 L381.5,597.1 L381.7,596.0 L381.9,594.8 L382.1,593.4 L382.3,592.0 L382.5,590.3 L382.7,588.6 L382.9,586.7 L383.1,584.8 L383.3,582.7 L383.5,580.6 L383.7,578.3 L383.9,576.0 L384.1,573.6 L384.3,571.1 L384.5,568.5 L384.7,565.9 L384.9,563.2 L385.1,560.5 L385.3,557.7 L385.5,555.0 L385.7,552.2 L385.9,549.3 L386.1,546.5 L386.3,543.7 L386.5,540.8 L386.6,538.0 L386.8,535.2 L387.0,532.5 L387.2,529.8 L387.4,527.1 L387.6,524.5 L387.8,521.9 L388.0,519.4 L388.2,517.0 L388.4,514.6 L388.6,512.4 L388.8,510.2 L389.0,508.1 L389.2,506.1 L389.4,504.3 L389.6,502.5 L389.8,500.9 L390.0,499.4 L390.2,498.0 L390.4,496.8 L390.6,495.6 L390.8,494.7 L391.0,493.8 L391.2,493.1 L391.4,492.6 L391.6,492.2 L391.8,491.9 L392.0,491.8 L392.2,491.8 L392.4,492.0 L392.6,492.3 L392.8,492.8 L393.0,493.4 L393.2,494.1 L393.4,495.0 L393.6,496.1 L393.8,497.3 L394.0,498.6 L394.2,500.0 L394.4,501.5 L394.6,503.2 L394.8,505.0 L395.0,506.9 L395.2,508.9 L395.4,511.0 L395.6,513.3 L395.8,515.6 L396.0,517.9 L396.2,520.4 L396.4,522.9 L396.6,525.5 L396.8,528.2 L397.0,530.8 L397.2,533.6 L397.4,536.4 L397.6,539.2 L397.8,542.0 L398.0,544.8 L398.2,547.6 L398.4,550.5 L398.6,553.3 L398.8,556.1 L399.0,558.9 L399.2,561.6 L399.4,564.3 L399.6,567.0 L399.8,569.6 L400.0,572.1 L400.2,574.6 L400.4,576.9 L400.6,579.2 L400.8,581.5 L401.0,583.6 L401.2,585.6 L401.4,587.5 L401.6,589.3 L401.8,591.0 L402.0,592.6 L402.2,594.0 L402.4,595.3 L402.6,596.5 L402.8,597.6 L403.0,598.5 L403.2,599.3 L403.4,599.9 L403.6,600.4 L403.8,600.7 L404.0,600.9 L404.2,600.9 L404.4,600.8 L404.6,600.6 L404.8,600.2 L405.0,599.6 L405.2,598.9 L405.4,598.1 L405.6,597.2 L405.8,596.0 L406.0,594.8 L406.2,593.4 L406.4,591.9 L406.6,590.3 L406.8,588.6 L407.0,586.7 L407.2,584.8 L407.4,582.7 L407.6,580.5 L407.8,578.3 L408.0,576.0 L408.2,573.5 L408.4,571.0 L408.6,568.5 L408.8,565.9 L409.0,563.2 L409.2,560.5 L409.4,557.7 L409.6,554.9 L409.8,552.1 L410.0,549.3 L410.2,546.5 L410.4,543.6 L410.6,540.8 L410.8,538.0 L411.0,535.2 L411.2,532.4 L411.4,529.7 L411.6,527.0 L411.8,524.4 L412.0,521.8 L412.2,519.3 L412.4,516.9 L412.6,514.6 L412.8,512.3 L413.0,510.1 L413.2,508.1 L413.4,506.1 L413.6,504.2 L413.8,502.5 L414.0,500.9 L414.2,499.4 L414.4,498.0 L414.6,496.7 L414.8,495.6 L415.0,494.6 L415.2,493.8 L415.4,493.1 L415.5,492.5 L415.7,492.1 L415.9,491.9 L416.1,491.8 L416.3,491.8 L416.5,492.0 L416.7,492.3 L416.9,492.8 L417.1,493.4 L417.3,494.1 L417.5,495.0 L417.7,496.1 L417.9,497.2 L418.1,498.6 L418.3,500.0 L418.5,501.5 L418.7,503.2 L418.9,505.0 L419.1,506.9 L419.3,508.9 L419.5,511.1 L419.7,513.3 L419.9,515.6 L420.1,518.0 L420.3,520.4 L420.5,522.9 L420.7,525.5 L420.9,528.2 L421.1,530.9 L421.3,533.6 L421.5,536.4 L421.7,539.2 L421.9,542.0 L422.1,544.8 L422.3,547.7 L422.5,550.5 L422.7,553.3 L422.9,556.1 L423.1,558.9 L423.3,561.7 L423.5,564.4 L423.7,567.0 L423.9,569.6 L424.1,572.1 L424.3,574.6 L424.5,577.0 L424.7,579.3 L424.9,581.5 L425.1,583.6 L425.3,585.6 L425.5,587.6 L425.7,589.4 L425.9,591.1 L426.1,592.6 L426.3,594.1 L426.5,595.4 L426.7,596.6 L426.9,597.6 L427.1,598.5 L427.3,599.3 L427.5,599.9 L427.7,600.4 L427.9,600.7 L428.1,600.9 L428.3,601.0 L428.5,600.8 L428.7,600.6 L428.9,600.2 L429.1,599.6 L429.3,599.0 L429.5,598.1 L429.7,597.2 L429.9,596.1 L430.1,594.8 L430.3,593.4 L430.5,591.9 L430.7,590.3 L430.9,588.6 L431.1,586.7 L431.3,584.8 L431.5,582.7 L431.7,580.5 L431.9,578.3 L432.1,575.9 L432.3,573.5 L432.5,571.0 L432.7,568.5 L432.9,565.8 L433.1,563.2 L433.3,560.4 L433.5,557.7 L433.7,554.9 L433.9,552.1 L434.1,549.2 L434.3,546.4 L434.5,543.6 L434.7,540.8 L434.9,537.9 L435.1,535.2 L435.3,532.4 L435.5,529.7 L435.7,527.0 L435.9,524.4 L436.1,521.8 L436.3,519.3 L436.5,516.9 L436.7,514.5 L436.9,512.3 L437.1,510.1 L437.3,508.0 L437.5,506.1 L437.7,504.2 L437.9,502.5 L438.1,500.8 L438.3,499.3 L438.5,497.9 L438.7,496.7 L438.9,495.6 L439.1,494.6 L439.3,493.8 L439.5,493.1 L439.7,492.5 L439.9,492.1 L440.1,491.9 L440.3,491.7 L440.5,491.8 L440.7,492.0 L440.9,492.3 L441.1,492.8 L441.3,493.4 L441.5,494.1 L441.7,495.0 L441.9,496.1 L442.1,497.2 L442.3,498.6 L442.5,500.0 L442.7,501.6 L442.9,503.2 L443.1,505.0 L443.3,506.9 L443.5,509.0 L443.7,511.1 L443.9,513.3 L444.1,515.6 L444.3,518.0 L444.4,520.4 L444.6,523.0 L444.8,525.6 L445.0,528.2 L445.2,530.9 L445.4,533.7 L445.6,536.4 L445.8,539.2 L446.0,542.1 L446.2,544.9 L446.4,547.7 L446.6,550.6 L446.8,553.4 L447.0,556.2 L447.2,559.0 L447.4,561.7 L447.6,564.4 L447.8,567.0 L448.0,569.6 L448.2,572.2 L448.4,574.6 L448.6,577.0 L448.8,579.3 L449.0,581.5 L449.2,583.7 L449.4,585.7 L449.6,587.6 L449.8,589.4 L450.0,591.1 L450.2,592.7 L450.4,594.1 L450.6,595.4 L450.8,596.6 L451.0,597.6 L451.2,598.5 L451.4,599.3 L451.6,599.9 L451.8,600.4 L452.0,600.7 L452.2,600.9 L452.4,601.0 L452.6,600.9 L452.8,600.6 L453.0,600.2 L453.2,599.7 L453.4,599.0 L453.6,598.1 L453.8,597.2 L454.0,596.1 L454.2,594.8 L454.4,593.4 L454.6,591.9 L454.8,590.3 L455.0,588.6 L455.2,586.7 L455.4,584.7 L455.6,582.7 L455.8,580.5 L456.0,578.3 L456.2,575.9 L456.4,573.5 L456.6,571.0 L456.8,568.4 L457.0,565.8 L457.2,563.1 L457.4,560.4 L457.6,557.6 L457.8,554.9 L458.0,552.0 L458.2,549.2 L458.4,546.4 L458.6,543.5 L458.8,540.7 L459.0,537.9 L459.2,535.1 L459.4,532.3 L459.6,529.6 L459.8,526.9 L460.0,524.3 L460.2,521.8 L460.4,519.3 L460.6,516.8 L460.8,514.5 L461.0,512.2 L461.2,510.1 L461.4,508.0 L461.6,506.0 L461.8,504.2 L462.0,502.4 L462.2,500.8 L462.4,499.3 L462.6,497.9 L462.8,496.7 L463.0,495.5 L463.2,494.6 L463.4,493.7 L463.6,493.0 L463.8,492.5 L464.0,492.1 L464.2,491.8 L464.4,491.7 L464.6,491.8 L464.8,491.9 L465.0,492.3 L465.2,492.7 L465.4,493.4 L465.6,494.1 L465.8,495.0 L466.0,496.1 L466.2,497.2 L466.4,498.6 L466.6,500.0 L466.8,501.6 L467.0,503.2 L467.2,505.0 L467.4,507.0 L467.6,509.0 L467.8,511.1 L468.0,513.3 L468.2,515.6 L468.4,518.0 L468.6,520.5 L468.8,523.0 L469.0,525.6 L469.2,528.2 L469.4,530.9 L469.6,533.7 L469.8,536.5 L470.0,539.3 L470.2,542.1 L470.4,544.9 L470.6,547.8 L470.8,550.6 L471.0,553.4 L471.2,556.2 L471.4,559.0 L471.6,561.7 L471.8,564.4 L472.0,567.1 L472.2,569.7 L472.4,572.2 L472.6,574.7 L472.8,577.1 L473.0,579.4 L473.2,581.6 L473.4,583.7 L473.5,585.7 L473.7,587.6 L473.9,589.4 L474.1,591.1 L474.3,592.7 L474.5,594.1 L474.7,595.4 L474.9,596.6 L475.1,597.7 L475.3,598.6 L475.5,599.3 L475.7,600.0 L475.9,600.4 L476.1,600.8 L476.3,601.0 L476.5,601.0 L476.7,600.9 L476.9,600.6 L477.1,600.2 L477.3,599.7 L477.5,599.0 L477.7,598.1 L477.9,597.2 L478.1,596.1 L478.3,594.8 L478.5,593.4 L478.7,591.9 L478.9,590.3 L479.1,588.6 L479.3,586.7 L479.5,584.7 L479.7,582.7 L479.9,580.5 L480.1,578.2 L480.3,575.9 L480.5,573.5 L480.7,571.0 L480.9,568.4 L481.1,565.8 L481.3,563.1 L481.5,560.4 L481.7,557.6 L481.9,554.8 L482.1,552.0 L482.3,549.2 L482.5,546.3 L482.7,543.5 L482.9,540.7 L483.1,537.9 L483.3,535.1 L483.5,532.3 L483.7,529.6 L483.9,526.9 L484.1,524.3 L484.3,521.7 L484.5,519.3 L484.7,516.8 L484.9,514.5 L485.1,512.2 L485.3,510.1 L485.5,508.0 L485.7,506.1 L485.9,504.2 L486.1,502.5 L486.3,500.8 L486.5,499.3 L486.7,497.9 L486.9,496.7 L487.1,495.6 L487.3,494.6 L487.5,493.8 L487.7,493.1 L487.9,492.5 L488.1,492.1 L488.3,491.8 L488.5,491.7 L488.7,491.7 L488.9,491.9 L489.1,492.2 L489.3,492.7 L489.5,493.3 L489.7,494.0 L489.9,494.9 L490.1,495.9 L490.3,497.1 L490.5,498.4 L490.7,499.8 L490.9,501.3 L491.1,503.0 L491.3,504.8 L491.5,506.7 L491.7,508.7 L491.9,510.8 L492.1,513.0 L492.3,515.3 L492.5,517.6 L492.7,520.1 L492.9,522.6 L493.1,525.2 L493.3,527.8 L493.5,530.5 L493.7,533.2 L493.9,536.0 L494.1,538.8 L494.3,541.6 L494.5,544.4 L494.7,547.2 L494.9,550.0 L495.1,552.9 L495.3,555.7 L495.5,558.4 L495.7,561.2 L495.9,563.9 L496.1,566.5 L496.3,569.1 L496.5,571.7 L496.7,574.1 L496.9,576.5 L497.1,578.8 L497.3,581.1 L497.5,583.2 L497.7,585.3 L497.9,587.2 L498.1,589.0 L498.3,590.7 L498.5,592.3 L498.7,593.8 L498.9,595.1 L499.1,596.3 L499.3,597.4 L499.5,598.4 L499.7,599.2 L499.9,599.8 L500.1,600.3 L500.3,600.7 L500.5,600.9 L500.7,601.0 L500.9,600.9 L501.1,600.7 L501.3,600.4 L501.5,599.9 L501.7,599.2 L501.9,598.4 L502.1,597.5 L502.3,596.5 L502.4,595.3 L502.6,593.9 L502.8,592.5 L503.0,590.9 L503.2,589.2 L503.4,587.4 L503.6,585.5 L503.8,583.4 L504.0,581.3 L504.2,579.1 L504.4,576.8 L504.6,574.4 L504.8,571.9 L505.0,569.4 L505.2,566.8 L505.4,564.2 L505.6,561.5 L505.8,558.7 L506.0,555.9 L506.2,553.2 L506.4,550.3 L506.6,547.5 L506.8,544.7 L507.0,541.9 L507.2,539.0 L507.4,536.3 L507.6,533.5 L507.8,530.8 L508.0,528.1 L508.2,525.4 L508.4,522.8 L508.6,520.3 L508.8,517.9 L509.0,515.5 L509.2,513.2 L509.4,511.0 L509.6,508.9 L509.8,506.9 L510.0,505.0 L510.2,503.2 L510.4,501.5 L510.6,499.9 L510.8,498.5 L511.0,497.2 L511.2,496.0 L511.4,495.0 L511.6,494.1 L511.8,493.3 L512.0,492.7 L512.2,492.2 L512.4,491.9 L512.6,491.7 L512.8,491.7 L513.0,491.8 L513.2,492.0 L513.4,492.4 L513.6,493.0 L513.8,493.7 L514.0,494.5 L514.2,495.5 L514.4,496.6 L514.6,497.8 L514.8,499.2 L515.0,500.6 L515.2,502.3 L515.4,504.0 L515.6,505.8 L515.8,507.8 L516.0,509.8 L516.2,512.0 L516.4,514.2 L516.6,516.6 L516.8,519.0 L517.0,521.5 L517.2,524.0 L517.4,526.6 L517.6,529.3 L517.8,532.0 L518.0,534.8 L518.2,537.5 L518.4,540.3 L518.6,543.2 L518.8,546.0 L519.0,548.8 L519.2,551.6 L519.4,554.4 L519.6,557.2 L519.8,560.0 L520.0,562.7 L520.2,565.4 L520.4,568.0 L520.6,570.6 L520.8,573.1 L521.0,575.5 L521.2,577.9 L521.4,580.1 L521.6,582.3 L521.8,584.4 L522.0,586.4 L522.2,588.2 L522.4,590.0 L522.6,591.7 L522.8,593.2 L523.0,594.6 L523.2,595.8 L523.4,597.0 L523.6,598.0 L523.8,598.8 L524.0,599.6 L524.2,600.1 L524.4,600.6 L524.6,600.9 L524.8,601.0 L525.0,601.0 L525.2,600.9 L525.4,600.6 L525.6,600.1 L525.8,599.6 L526.0,598.8 L526.2,598.0 L526.4,597.0 L526.6,595.8 L526.8,594.5 L527.0,593.1 L527.2,591.6 L527.4,590.0 L527.6,588.2 L527.8,586.3 L528.0,584.3 L528.2,582.3 L528.4,580.1 L528.6,577.8 L528.8,575.5 L529.0,573.0 L529.2,570.5 L529.4,567.9 L529.6,565.3 L529.8,562.6 L530.0,559.9 L530.2,557.2 L530.4,554.4 L530.6,551.6 L530.8,548.7 L531.0,545.9 L531.2,543.1 L531.4,540.3" stroke="#0000ff" stroke-width="1.3" fill="none"/>
<path d="M53.2,546.1 L53.2,518.0 L53.4,518.4 L53.6,518.9 L53.8,519.3 L54.0,519.8 L54.2,520.3 L54.4,520.8 L54.6,521.3 L54.8,521.9 L55.0,522.4 L55.2,522.9 L55.4,523.5 L55.6,524.1 L55.8,524.7 L56.0,525.3 L56.2,525.9 L56.4,526.5 L56.6,527.1 L56.8,527.7 L57.0,528.4 L57.2,529.0 L57.4,529.7 L57.6,530.3 L57.8,531.0 L58.0,531.7 L58.2,532.4 L58.4,533.1 L58.6,533.9 L58.8,534.6 L59.0,535.4 L59.2,536.2 L59.4,537.1 L59.6,537.9 L59.8,538.8 L60.0,539.6 L60.2,540.5 L60.4,541.4 L60.6,542.3 L60.8,543.2 L61.0,544.0 L61.2,544.9 L61.4,545.8 L61.6,546.7 L61.8,547.6 L62.0,548.5 L62.2,549.3 L62.4,550.2 L62.6,551.1 L62.8,552.0 L63.0,552.9 L63.2,553.8 L63.4,554.7 L63.6,555.6 L63.8,556.6 L64.0,557.5 L64.2,558.4 L64.4,559.3 L64.6,560.2 L64.8,561.1 L65.0,562.0 L65.2,562.9 L65.4,563.8 L65.6,564.6 L65.8,565.5 L66.0,566.3 L66.2,567.1 L66.4,567.9 L66.6,568.7 L66.8,569.4 L67.0,570.2 L67.2,570.9 L67.4,571.6 L67.6,572.4 L67.7,573.1 L67.9,573.8 L68.1,574.5 L68.3,575.2 L68.5,575.9 L68.7,576.6 L68.9,577.2 L69.1,577.9 L69.3,578.6 L69.5,579.3 L69.7,580.0 L69.9,580.7 L70.1,581.4 L70.3,582.1 L70.5,582.8 L70.7,583.5 L70.9,584.2 L71.1,585.0 L71.3,585.7 L71.5,586.4 L71.7,587.1 L71.9,587.8 L72.1,588.6 L72.3,589.3 L72.5,590.0 L72.7,590.7 L72.9,591.4 L73.1,592.1 L73.3,592.7 L73.5,593.4 L73.7,594.0 L73.9,594.7 L74.1,595.3 L74.3,595.9 L74.5,596.5 L74.7,597.1 L74.9,597.7 L75.1,598.3 L75.3,598.9 L75.5,599.5 L75.7,600.1 L75.9,600.6 L76.1,601.2 L76.3,601.7 L76.5,602.3 L76.7,602.8 L76.9,603.3 L77.1,603.9 L77.3,604.4 L77.5,604.9 L77.7,605.4 L77.9,605.9 L78.1,606.3 L78.3,606.8 L78.5,607.3 L78.7,607.7 L78.9,608.2 L79.1,608.6 L79.3,609.1 L79.5,609.5 L79.7,609.9 L79.9,610.4 L80.1,610.8 L80.3,611.2 L80.5,611.6 L80.7,612.0 L80.9,612.4 L81.1,612.8 L81.3,613.2 L81.5,613.5 L81.7,613.9 L81.9,614.2 L82.1,614.6 L82.3,614.9 L82.5,615.2 L82.7,615.6 L82.9,615.9 L83.1,616.3 L83.3,616.7 L83.5,617.0 L83.7,617.4 L83.9,617.7 L84.1,618.1 L84.3,618.4 L84.5,618.7 L84.7,619.0 L84.9,619.3 L85.1,619.5 L85.3,619.7 L85.5,619.9 L85.7,620.0 L85.9,620.1 L86.1,620.1 L86.3,620.1 L86.5,620.1 L86.7,620.0 L86.9,619.9 L87.1,619.8 L87.3,619.6 L87.5,619.5 L87.7,619.3 L87.9,619.1 L88.1,618.9 L88.3,618.7 L88.5,618.5 L88.7,618.2 L88.9,618.0 L89.1,617.7 L89.3,617.5 L89.5,617.2 L89.7,617.0 L89.9,616.7 L90.1,616.4 L90.3,616.1 L90.5,615.7 L90.7,615.3 L90.9,614.9 L91.1,614.5 L91.3,614.1 L91.5,613.6 L91.7,613.1 L91.9,612.6 L92.1,612.1 L92.3,611.5 L92.5,610.9 L92.7,610.4 L92.9,609.8 L93.1,609.1 L93.3,608.5 L93.5,607.9 L93.7,607.2 L93.9,606.5 L94.1,605.8 L94.3,605.1 L94.5,604.4 L94.7,603.7 L94.9,603.0 L95.1,602.2 L95.3,601.3 L95.5,600.4 L95.7,599.5 L95.9,598.6 L96.1,597.6 L96.3,596.6 L96.5,595.5 L96.7,594.4 L96.8,593.3 L97.0,592.1 L97.2,590.9 L97.4,589.7 L97.6,588.5 L97.8,587.2 L98.0,585.9 L98.2,584.6 L98.4,583.3 L98.6,582.0 L98.8,580.6 L99.0,579.2 L99.2,577.8 L99.4,576.4 L99.6,575.0 L99.8,573.5 L100.0,572.1 L100.2,570.6 L100.4,569.1 L100.6,567.6 L100.8,566.1 L101.0,564.6 L101.2,562.9 L101.4,561.2 L101.6,559.5 L101.8,557.7 L102.0,555.9 L102.2,554.0 L102.4,552.1 L102.6,550.2 L102.8,548.2 L103.0,546.2 L103.2,544.2 L103.4,542.2 L103.6,540.2 L103.8,538.2 L104.0,536.2 L104.2,534.2 L104.4,532.2 L104.6,530.3 L104.8,528.3 L105.0,526.3 L105.2,524.3 L105.4,522.3 L105.6,520.2 L105.8,518.1 L106.0,516.0 L106.2,513.9 L106.4,511.8 L106.6,509.7 L106.8,507.7 L107.0,505.7 L107.2,503.7 L107.4,501.8 L107.6,500.0 L107.8,498.3 L108.0,496.7 L108.2,495.0 L108.4,493.3 L108.6,491.7 L108.8,490.0 L109.0,488.4 L109.2,486.9 L109.4,485.3 L109.6,483.9 L109.8,482.5 L110.0,481.2 L110.2,480.0 L110.4,479.0 L110.6,478.0 L110.8,477.2 L111.0,476.5 L111.2,475.8 L111.4,475.1 L111.6,474.4 L111.8,473.7 L112.0,473.1 L112.2,472.6 L112.4,472.1 L112.6,471.6 L112.8,471.3 L113.0,471.0 L113.2,470.7 L113.4,470.6 L113.6,470.6 L113.8,470.7 L114.0,470.9 L114.2,471.1 L114.4,471.4 L114.6,471.8 L114.8,472.2 L115.0,472.7 L115.2,473.3 L115.4,473.9 L115.6,474.6 L115.8,475.4 L116.0,476.2 L116.2,477.2 L116.4,478.2 L116.6,479.2 L116.8,480.3 L117.0,481.5 L117.2,482.8 L117.4,484.1 L117.6,485.5 L117.8,487.0 L118.0,488.5 L118.2,490.1 L118.4,491.7 L118.6,493.4 L118.8,495.2 L119.0,497.0 L119.2,498.9 L119.4,500.9 L119.6,502.9 L119.8,504.9 L120.0,507.0 L120.2,509.1 L120.4,511.3 L120.6,513.6 L120.8,515.9 L121.0,518.2 L121.2,520.5 L121.4,522.9 L121.6,525.4 L121.8,527.8 L122.0,530.3 L122.2,532.8 L122.4,535.3 L122.6,537.9 L122.8,540.4 L123.0,543.0 L123.2,545.6 L123.4,548.2 L123.6,550.8 L123.8,553.4 L124.0,556.0 L124.2,558.6 L124.4,561.2 L124.6,563.8 L124.8,566.3 L125.0,568.9 L125.2,571.4 L125.4,573.9 L125.6,576.4 L125.7,578.8 L125.9,581.2 L126.1,583.6 L126.3,585.9 L126.5,588.2 L126.7,590.4 L126.9,592.6 L127.1,594.7 L127.3,596.8 L127.5,598.8 L127.7,600.7 L127.9,602.6 L128.1,604.4 L128.3,606.1 L128.5,607.8 L128.7,609.4 L128.9,610.9 L129.1,612.3 L129.3,613.6 L129.5,614.8 L129.7,616.0 L129.9,617.1 L130.1,618.0 L130.3,618.9 L130.5,619.7 L130.7,620.3 L130.9,620.9 L131.1,621.4 L131.3,621.7 L131.5,622.0 L131.7,622.1 L131.9,622.2 L132.1,622.1 L132.3,622.0 L132.5,621.7 L132.7,621.3 L132.9,620.8 L133.1,620.2 L133.3,619.5 L133.5,618.7 L133.7,617.8 L133.9,616.7 L134.1,615.6 L134.3,614.3 L134.5,612.9 L134.7,611.4 L134.9,609.8 L135.1,608.1 L135.3,606.3 L135.5,604.4 L135.7,602.4 L135.9,600.3 L136.1,598.1 L136.3,595.8 L136.5,593.5 L136.7,591.0 L136.9,588.4 L137.1,585.8 L137.3,583.1 L137.5,580.3 L137.7,577.5 L137.9,574.6 L138.1,571.6 L138.3,568.6 L138.5,565.6 L138.7,562.5 L138.9,559.3 L139.1,556.2 L139.3,553.0 L139.5,549.7 L139.7,546.5 L139.9,543.3 L140.1,540.0 L140.3,536.8 L140.5,533.5 L140.7,530.3 L140.9,527.1 L141.1,523.9 L141.3,520.8 L141.5,517.7 L141.7,514.6 L141.9,511.6 L142.1,508.7 L142.3,505.8 L142.5,503.0 L142.7,500.2 L142.9,497.6 L143.1,495.0 L143.3,492.5 L143.5,490.2 L143.7,487.9 L143.9,485.7 L144.1,483.7 L144.3,481.7 L144.5,479.9 L144.7,478.2 L144.9,476.7 L145.1,475.2 L145.3,473.9 L145.5,472.8 L145.7,471.8 L145.9,470.9 L146.1,470.2 L146.3,469.7 L146.5,469.3 L146.7,469.0 L146.9,469.0 L147.1,469.0 L147.3,469.3 L147.5,469.7 L147.7,470.2 L147.9,470.9 L148.1,471.8 L148.3,472.9 L148.5,474.1 L148.7,475.4 L148.9,476.9 L149.1,478.6 L149.3,480.4 L149.5,482.3 L149.7,484.4 L149.9,486.7 L150.1,489.1 L150.3,491.6 L150.5,494.2 L150.7,497.0 L150.9,499.9 L151.1,502.9 L151.3,506.0 L151.5,509.2 L151.7,512.4 L151.9,515.8 L152.1,519.3 L152.3,522.8 L152.5,526.4 L152.7,530.0 L152.9,533.7 L153.1,537.4 L153.3,541.2 L153.5,544.9 L153.7,548.7 L153.9,552.5 L154.1,556.3 L154.3,560.0 L154.5,563.8 L154.6,567.5 L154.8,571.1 L155.0,574.7 L155.2,578.3 L155.4,581.7 L155.6,585.1 L155.8,588.4 L156.0,591.6 L156.2,594.7 L156.4,597.6 L156.6,600.5 L156.8,603.2 L157.0,605.8 L157.2,608.2 L157.4,610.5 L157.6,612.6 L157.8,614.5 L158.0,616.3 L158.2,617.9 L158.4,619.3 L158.6,620.6 L158.8,621.6 L159.0,622.5 L159.2,623.1 L159.4,623.6 L159.6,623.8 L159.8,623.9 L160.0,623.7 L160.2,623.4 L160.4,622.8 L160.6,622.1 L160.8,621.1 L161.0,619.9 L161.2,618.5 L161.4,616.8 L161.6,615.0 L161.8,613.0 L162.0,610.7 L162.2,608.3 L162.4,605.7 L162.6,602.9 L162.8,599.9 L163.0,596.7 L163.2,593.4 L163.4,589.9 L163.6,586.3 L163.8,582.5 L164.0,578.7 L164.2,574.7 L164.4,570.6 L164.6,566.5 L164.8,562.3 L165.0,558.0 L165.2,553.7 L165.4,549.4 L165.6,545.1 L165.8,540.7 L166.0,536.4 L166.2,532.1 L166.4,527.9 L166.6,523.7 L166.8,519.6 L167.0,515.6 L167.2,511.7 L167.4,507.9 L167.6,504.2 L167.8,500.7 L168.0,497.3 L168.2,494.1 L168.4,491.0 L168.6,488.1 L168.8,485.4 L169.0,482.8 L169.2,480.5 L169.4,478.3 L169.6,476.4 L169.8,474.6 L170.0,473.1 L170.2,471.7 L170.3,470.9 L170.4,470.6 L170.5,470.2 L170.6,469.7 L170.6,469.6 L170.8,469.1 L170.8,469.0 L170.9,468.6 L171.0,468.5 L171.0,468.3 L171.2,468.1 L171.2,468.1 L171.3,468.0 L171.4,468.0 L171.5,468.2 L171.6,468.7 L171.6,468.8 L171.8,469.6 L171.8,469.8 L171.9,470.5 L172.0,471.2 L172.0,471.5 L172.2,472.7 L172.2,472.8 L172.3,473.9 L172.4,474.5 L172.5,475.2 L172.6,476.5 L172.6,476.6 L172.7,478.3 L172.8,479.0 L172.9,480.3 L173.0,482.0 L173.0,482.5 L173.2,484.8 L173.2,485.2 L173.3,487.0 L173.4,488.3 L173.4,489.1 L173.6,491.2 L173.6,491.3 L173.7,493.3 L173.8,494.2 L173.9,495.3 L174.0,497.1 L174.0,497.4 L174.1,499.6 L174.2,500.2 L174.3,501.7 L174.4,503.3 L174.4,504.0 L174.6,506.3 L174.6,506.5 L174.7,508.6 L174.8,509.8 L174.8,510.9 L175.0,513.2 L175.0,513.3 L175.1,515.7 L175.2,516.6 L175.3,518.3 L175.4,520.3 L175.4,520.9 L175.6,523.7 L175.6,524.3 L175.7,526.7 L175.8,528.7 L175.8,530.1 L176.0,534.4 L176.0,534.5 L176.1,538.9 L176.2,541.0 L176.3,543.5 L176.4,547.3 L176.4,547.8 L176.5,551.3 L176.6,552.1 L176.7,553.7 L176.8,554.7 L176.8,555.1 L177.0,556.1 L177.0,556.2 L177.1,557.0 L177.2,557.4 L177.2,557.7 L177.4,558.4 L177.4,558.4 L177.5,559.2 L177.6,559.5 L177.7,560.2 L177.8,561.0 L177.8,561.2 L177.9,562.4 L178.0,562.6 L178.1,563.6 L178.2,564.3 L178.2,564.7 L178.4,565.7 L178.4,565.8 L178.5,566.7 L178.6,567.0 L178.6,567.5 L178.8,568.2 L178.8,568.3 L178.9,569.1 L179.0,569.3 L179.1,569.8 L179.2,570.3 L179.2,570.5 L179.3,571.2 L179.4,571.3 L179.5,571.9 L179.6,572.3 L179.6,572.6 L179.8,573.3 L179.8,573.3 L179.9,574.0 L180.0,574.2 L180.1,574.6 L180.2,575.2 L180.2,575.3 L180.3,575.9 L180.4,576.0 L180.5,576.5 L180.6,576.9 L180.6,577.1 L180.8,577.8 L180.8,577.8 L180.9,578.4 L181.0,578.7 L181.0,579.1 L181.2,579.7 L181.2,579.8 L181.3,580.5 L181.4,580.7 L181.5,581.3 L181.6,581.9 L181.6,582.1 L181.7,583.0 L181.8,583.2 L181.9,584.0 L182.0,584.5 L182.0,584.9 L182.2,585.9 L182.2,585.9 L182.3,586.9 L182.4,587.2 L182.4,587.8 L182.6,588.5 L182.6,588.7 L182.7,589.5 L182.8,589.7 L182.9,590.3 L183.0,590.8 L183.0,591.1 L183.1,591.8 L183.2,591.9 L183.3,592.6 L183.4,592.9 L183.4,593.3 L183.6,593.9 L183.6,594.0 L183.7,594.7 L183.7,594.9 L183.8,595.4 L183.9,595.9 L184.0,596.1 L184.1,596.8 L184.1,596.9 L184.3,597.6 L184.3,598.0 L184.4,598.3 L184.5,599.0 L184.6,599.1 L184.7,599.8 L184.7,600.1 L184.8,600.6 L184.9,601.2 L185.0,601.4 L185.1,601.7 L185.1,601.6 L185.3,601.6 L185.3,601.5 L185.4,601.4 L185.5,601.2 L185.5,601.2 L185.7,600.9 L185.7,600.8 L185.8,600.6 L185.9,600.2 L186.0,600.2 L186.1,599.7 L186.1,599.6 L186.2,599.2 L186.3,598.7 L186.4,598.6 L186.5,597.9 L186.5,597.8 L186.7,597.2 L186.7,596.7 L186.8,596.3 L186.9,595.5 L186.9,595.5 L187.1,594.6 L187.1,594.2 L187.3,592.7 L187.5,591.1 L187.7,589.4 L187.9,587.6 L188.1,585.7 L188.3,583.7 L188.5,581.6 L188.7,579.3 L188.9,577.0 L189.1,574.6 L189.3,572.2 L189.5,569.6 L189.7,567.0 L189.9,564.4 L190.1,561.6 L190.3,558.9 L190.5,556.1 L190.7,553.3 L190.9,550.4 L191.1,547.6 L191.3,544.7 L191.5,541.8 L191.7,539.0 L191.9,536.2 L192.1,533.4 L192.3,530.6 L192.5,527.9 L192.7,525.2 L192.9,522.6 L193.1,520.0 L193.3,517.5 L193.5,515.2 L193.7,512.8 L193.9,510.6 L194.1,508.5 L194.3,506.5 L194.5,504.6 L194.7,502.8 L194.9,501.1 L195.1,499.6 L195.3,498.2 L195.5,496.9 L195.7,495.7 L195.9,494.7 L196.1,493.8 L196.3,493.1 L196.5,492.5 L196.7,492.1 L196.9,491.8 L197.1,491.6 L197.3,491.6 L197.5,491.8 L197.7,492.0 L197.9,492.5 L198.1,493.0 L198.3,493.7 L198.5,494.6 L198.7,495.6 L198.9,496.7 L199.1,497.9 L199.3,499.3 L199.5,500.8 L199.7,502.5 L199.9,504.2 L200.1,506.1 L200.3,508.0 L200.5,510.1 L200.7,512.3 L200.9,514.5 L201.1,516.9 L201.3,519.3 L201.5,521.8 L201.7,524.3 L201.9,526.9 L202.1,529.6 L202.3,532.3 L202.5,535.1 L202.7,537.8 L202.9,540.6 L203.1,543.5 L203.3,546.3 L203.5,549.1 L203.7,551.9 L203.9,554.7 L204.1,557.5 L204.3,560.3 L204.5,563.0 L204.7,565.7 L204.9,568.3 L205.1,570.8 L205.3,573.3 L205.5,575.8 L205.7,578.1 L205.9,580.4 L206.1,582.5 L206.3,584.6 L206.5,586.6 L206.7,588.4 L206.9,590.2 L207.1,591.8 L207.3,593.3 L207.5,594.7 L207.7,596.0 L207.9,597.1 L208.1,598.1 L208.3,599.0 L208.5,599.7 L208.7,600.2 L208.9,600.7 L209.1,600.9 L209.3,601.1 L209.5,601.1 L209.7,600.9 L209.9,600.6 L210.1,600.1 L210.3,599.6 L210.5,598.8 L210.7,597.9 L210.9,596.9 L211.1,595.8 L211.3,594.5 L211.5,593.1 L211.7,591.6 L211.9,589.9 L212.1,588.2 L212.3,586.3 L212.5,584.3 L212.6,582.2 L212.8,580.0 L213.0,577.8 L213.2,575.4 L213.4,573.0 L213.6,570.5 L213.8,567.9 L214.0,565.3 L214.2,562.6 L214.4,559.9 L214.6,557.1 L214.8,554.3 L215.0,551.5 L215.2,548.7 L215.4,545.9 L215.6,543.1 L215.8,540.2 L216.0,537.4 L216.2,534.7 L216.4,531.9 L216.6,529.2 L216.8,526.6 L217.0,524.0 L217.2,521.4 L217.4,518.9 L217.6,516.5 L217.8,514.2 L218.0,511.9 L218.2,509.8 L218.4,507.7 L218.6,505.8 L218.8,503.9 L219.0,502.2 L219.2,500.6 L219.4,499.1 L219.6,497.8 L219.8,496.5 L220.0,495.4 L220.2,494.4 L220.4,493.6 L220.6,492.9 L220.8,492.4 L221.0,492.0 L221.2,491.7 L221.4,491.6 L221.6,491.7 L221.8,491.8 L222.0,492.2 L222.2,492.6 L222.4,493.3 L222.6,494.0 L222.8,494.9 L223.0,495.9 L223.2,497.1 L223.4,498.4 L223.6,499.8 L223.8,501.4 L224.0,503.0 L224.2,504.8 L224.4,506.7 L224.6,508.7 L224.8,510.8 L225.0,513.0 L225.2,515.3 L225.4,517.7 L225.6,520.1 L225.8,522.6 L226.0,525.2 L226.2,527.9 L226.4,530.5 L226.6,533.3 L226.8,536.0 L227.0,538.8 L227.2,541.6 L227.4,544.4 L227.6,547.3 L227.8,550.1 L228.0,552.9 L228.2,555.7 L228.4,558.5 L228.6,561.2 L228.8,563.9 L229.0,566.6 L229.2,569.2 L229.4,571.7 L229.6,574.2 L229.8,576.6 L230.0,578.9 L230.2,581.1 L230.4,583.2 L230.6,585.3 L230.8,587.2 L231.0,589.0 L231.2,590.7 L231.4,592.3 L231.6,593.8 L231.8,595.2 L232.0,596.4 L232.2,597.4 L232.4,598.4 L232.6,599.2 L232.8,599.9 L233.0,600.4 L233.2,600.8 L233.4,601.0 L233.6,601.1 L233.8,601.0 L234.0,600.8 L234.2,600.5 L234.4,600.0 L234.6,599.3 L234.8,598.6 L235.0,597.6 L235.2,596.6 L235.4,595.4 L235.6,594.1 L235.8,592.6 L236.0,591.1 L236.2,589.4 L236.4,587.6 L236.6,585.7 L236.8,583.6 L237.0,581.5 L237.2,579.3 L237.4,577.0 L237.6,574.6 L237.8,572.2 L238.0,569.6 L238.2,567.1 L238.4,564.4 L238.6,561.7 L238.8,559.0 L239.0,556.2 L239.2,553.4 L239.4,550.6 L239.6,547.8 L239.8,545.0 L240.0,542.2 L240.2,539.3 L240.4,536.5 L240.6,533.8 L240.8,531.1 L241.0,528.4 L241.2,525.7 L241.4,523.1 L241.6,520.6 L241.7,518.1 L241.9,515.8 L242.1,513.5 L242.3,511.2 L242.5,509.1 L242.7,507.1 L242.9,505.2 L243.1,503.4 L243.3,501.7 L243.5,500.1 L243.7,498.7 L243.9,497.3 L244.1,496.1 L244.3,495.1 L244.5,494.2 L244.7,493.4 L244.9,492.7 L245.1,492.2 L245.3,491.9 L245.5,491.7 L245.7,491.6 L245.9,491.7 L246.1,491.9 L246.3,492.3 L246.5,492.8 L246.7,493.5 L246.9,494.3 L247.1,495.2 L247.3,496.3 L247.5,497.5 L247.7,498.8 L247.9,500.3 L248.1,501.9 L248.3,503.6 L248.5,505.4 L248.7,507.4 L248.9,509.4 L249.1,511.5 L249.3,513.8 L249.5,516.1 L249.7,518.5 L249.9,520.9 L250.1,523.5 L250.3,526.1 L250.5,528.7 L250.7,531.4 L250.9,534.2 L251.1,536.9 L251.3,539.7 L251.5,542.5 L251.7,545.4 L251.9,548.2 L252.1,551.0 L252.3,553.8 L252.5,556.6 L252.7,559.4 L252.9,562.1 L253.1,564.8 L253.3,567.4 L253.5,570.0 L253.7,572.5 L253.9,574.9 L254.1,577.3 L254.3,579.6 L254.5,581.8 L254.7,583.9 L254.9,585.9 L255.1,587.8 L255.3,589.6 L255.5,591.3 L255.7,592.8 L255.9,594.3 L256.1,595.6 L256.3,596.7 L256.5,597.8 L256.7,598.7 L256.9,599.4 L257.1,600.0 L257.3,600.5 L257.5,600.9 L257.7,601.0 L257.9,601.1 L258.1,601.0 L258.3,600.7 L258.5,600.3 L258.7,599.8 L258.9,599.1 L259.1,598.3 L259.3,597.3 L259.5,596.2 L259.7,595.0 L259.9,593.6 L260.1,592.1 L260.3,590.5 L260.5,588.8 L260.7,587.0 L260.9,585.0 L261.1,583.0 L261.3,580.8 L261.5,578.6 L261.7,576.2 L261.9,573.8 L262.1,571.4 L262.3,568.8 L262.5,566.2 L262.7,563.5 L262.9,560.8 L263.1,558.1 L263.3,555.3 L263.5,552.5 L263.7,549.7 L263.9,546.9 L264.1,544.1 L264.3,541.2 L264.5,538.4 L264.7,535.7 L264.9,532.9 L265.1,530.2 L265.3,527.5 L265.5,524.9 L265.7,522.3 L265.9,519.8 L266.1,517.4 L266.3,515.0 L266.5,512.7 L266.7,510.5 L266.9,508.5 L267.1,506.5 L267.3,504.6 L267.5,502.8 L267.7,501.2 L267.9,499.6 L268.1,498.2 L268.3,496.9 L268.5,495.8 L268.7,494.8 L268.9,493.9 L269.1,493.2 L269.3,492.6 L269.5,492.1 L269.7,491.8 L269.9,491.6 L270.1,491.6 L270.3,491.8 L270.5,492.0 L270.6,492.5 L270.8,493.0 L271.0,493.7 L271.2,494.6 L271.4,495.6 L271.6,496.7 L271.8,497.9 L272.0,499.3 L272.2,500.8 L272.4,502.4 L272.6,504.2 L272.8,506.0 L273.0,508.0 L273.2,510.1 L273.4,512.2 L273.6,514.5 L273.8,516.8 L274.0,519.3 L274.2,521.7 L274.4,524.3 L274.6,526.9 L274.8,529.6 L275.0,532.3 L275.2,535.0 L275.4,537.8 L275.6,540.6 L275.8,543.4 L276.0,546.3 L276.2,549.1 L276.4,551.9 L276.6,554.7 L276.8,557.5 L277.0,560.2 L277.2,563.0 L277.4,565.6 L277.6,568.2 L277.8,570.8 L278.0,573.3 L278.2,575.7 L278.4,578.1 L278.6,580.3 L278.8,582.5 L279.0,584.6 L279.2,586.5 L279.4,588.4 L279.6,590.2 L279.8,591.8 L280.0,593.3 L280.2,594.7 L280.4,596.0 L280.6,597.1 L280.8,598.1 L281.0,598.9 L281.2,599.6 L281.4,600.2 L281.6,600.6 L281.8,600.9 L282.0,601.1 L282.2,601.1 L282.4,600.9 L282.6,600.6 L282.8,600.2 L283.0,599.6 L283.2,598.8 L283.4,598.0 L283.6,597.0 L283.8,595.8 L284.0,594.6 L284.2,593.2 L284.4,591.6 L284.6,590.0 L284.8,588.2 L285.0,586.3 L285.2,584.4 L285.4,582.3 L285.6,580.1 L285.8,577.8 L286.0,575.5 L286.2,573.0 L286.4,570.5 L286.6,568.0 L286.8,565.4 L287.0,562.7 L287.2,560.0 L287.4,557.2 L287.6,554.4 L287.8,551.6 L288.0,548.8 L288.2,546.0 L288.4,543.2 L288.6,540.3 L288.8,537.5 L289.0,534.8 L289.2,532.0 L289.4,529.3 L289.6,526.6 L289.8,524.0 L290.0,521.5 L290.2,519.0 L290.4,516.6 L290.6,514.3 L290.8,512.0 L291.0,509.9 L291.2,507.8 L291.4,505.9 L291.6,504.0 L291.8,502.3 L292.0,500.7 L292.2,499.2 L292.4,497.8 L292.6,496.6 L292.8,495.4 L293.0,494.5 L293.2,493.6 L293.4,493.0 L293.6,492.4 L293.8,492.0 L294.0,491.7 L294.2,491.6 L294.4,491.7 L294.6,491.8 L294.8,492.2 L295.0,492.6 L295.2,493.2 L295.4,494.0 L295.6,494.9 L295.8,495.9 L296.0,497.1 L296.2,498.4 L296.4,499.8 L296.6,501.3 L296.8,503.0 L297.0,504.8 L297.2,506.7 L297.4,508.7 L297.6,510.8 L297.8,513.0 L298.0,515.2 L298.2,517.6 L298.4,520.0 L298.6,522.6 L298.8,525.1 L299.0,527.8 L299.2,530.5 L299.4,533.2 L299.5,535.9 L299.7,538.7 L299.9,541.5 L300.1,544.3 L300.3,547.2 L300.5,550.0 L300.7,552.8 L300.9,555.6 L301.1,558.4 L301.3,561.1 L301.5,563.8 L301.7,566.5 L301.9,569.1 L302.1,571.6 L302.3,574.1 L302.5,576.5 L302.7,578.8 L302.9,581.0 L303.1,583.2 L303.3,585.2 L303.5,587.2 L303.7,589.0 L303.9,590.7 L304.1,592.3 L304.3,593.8 L304.5,595.1 L304.7,596.3 L304.9,597.4 L305.1,598.4 L305.3,599.2 L305.5,599.8 L305.7,600.4 L305.9,600.7 L306.1,601.0 L306.3,601.1 L306.5,601.0 L306.7,600.8 L306.9,600.5 L307.1,600.0 L307.3,599.4 L307.5,598.6 L307.7,597.7 L307.9,596.6 L308.1,595.4 L308.3,594.1 L308.5,592.7 L308.7,591.1 L308.9,589.4 L309.1,587.6 L309.3,585.7 L309.5,583.7 L309.7,581.6 L309.9,579.4 L310.1,577.1 L310.3,574.7 L310.5,572.2 L310.7,569.7 L310.9,567.1 L311.1,564.5 L311.3,561.8 L311.5,559.1 L311.7,556.3 L311.9,553.5 L312.1,550.7 L312.3,547.9 L312.5,545.1 L312.7,542.2 L312.9,539.4 L313.1,536.6 L313.3,533.9 L313.5,531.1 L313.7,528.4 L313.9,525.8 L314.1,523.2 L314.3,520.7 L314.5,518.2 L314.7,515.8 L314.9,513.5 L315.1,511.3 L315.3,509.2 L315.5,507.2 L315.7,505.2 L315.9,503.4 L316.1,501.7 L316.3,500.2 L316.5,498.7 L316.7,497.4 L316.9,496.2 L317.1,495.1 L317.3,494.2 L317.5,493.4 L317.7,492.8 L317.9,492.3 L318.1,491.9 L318.3,491.7 L318.5,491.6 L318.7,491.7 L318.9,491.9 L319.1,492.3 L319.3,492.8 L319.5,493.5 L319.7,494.3 L319.9,495.2 L320.1,496.3 L320.3,497.5 L320.5,498.8 L320.7,500.3 L320.9,501.9 L321.1,503.6 L321.3,505.4 L321.5,507.3 L321.7,509.3 L321.9,511.5 L322.1,513.7 L322.3,516.0 L322.5,518.4 L322.7,520.9 L322.9,523.4 L323.1,526.0 L323.3,528.6 L323.5,531.3 L323.7,534.1 L323.9,536.8 L324.1,539.6 L324.3,542.4 L324.5,545.3 L324.7,548.1 L324.9,550.9 L325.1,553.7 L325.3,556.5 L325.5,559.3 L325.7,562.0 L325.9,564.7 L326.1,567.3 L326.3,569.9 L326.5,572.4 L326.7,574.9 L326.9,577.2 L327.1,579.5 L327.3,581.7 L327.5,583.8 L327.7,585.9 L327.9,587.8 L328.1,589.5 L328.3,591.2 L328.5,592.8 L328.6,594.2 L328.8,595.5 L329.0,596.7 L329.2,597.7 L329.4,598.6 L329.6,599.4 L329.8,600.0 L330.0,600.5 L330.2,600.8 L330.4,601.0 L330.6,601.1 L330.8,601.0 L331.0,600.7 L331.2,600.3 L331.4,599.8 L331.6,599.1 L331.8,598.3 L332.0,597.3 L332.2,596.2 L332.4,595.0 L332.6,593.7 L332.8,592.2 L333.0,590.6 L333.2,588.9 L333.4,587.0 L333.6,585.1 L333.8,583.0 L334.0,580.9 L334.2,578.6 L334.4,576.3 L334.6,573.9 L334.8,571.4 L335.0,568.9 L335.2,566.3 L335.4,563.6 L335.6,560.9 L335.8,558.2 L336.0,555.4 L336.2,552.6 L336.4,549.8 L336.6,547.0 L336.8,544.2 L337.0,541.3 L337.2,538.5 L337.4,535.7 L337.6,533.0 L337.8,530.3 L338.0,527.6 L338.2,525.0 L338.4,522.4 L338.6,519.9 L338.8,517.4 L339.0,515.1 L339.2,512.8 L339.4,510.6 L339.6,508.5 L339.8,506.5 L340.0,504.6 L340.2,502.9 L340.4,501.2 L340.6,499.7 L340.8,498.3 L341.0,497.0 L341.2,495.8 L341.4,494.8 L341.6,493.9 L341.8,493.2 L342.0,492.6 L342.2,492.1 L342.4,491.8 L342.6,491.6 L342.8,491.6 L343.0,491.8 L343.2,492.0 L343.4,492.4 L343.6,493.0 L343.8,493.7 L344.0,494.5 L344.2,495.5 L344.4,496.6 L344.6,497.9 L344.8,499.3 L345.0,500.8 L345.2,502.4 L345.4,504.1 L345.6,506.0 L345.8,507.9 L346.0,510.0 L346.2,512.2 L346.4,514.4 L346.6,516.8 L346.8,519.2 L347.0,521.7 L347.2,524.2 L347.4,526.8 L347.6,529.5 L347.8,532.2 L348.0,535.0 L348.2,537.7 L348.4,540.5 L348.6,543.3 L348.8,546.2 L349.0,549.0 L349.2,551.8 L349.4,554.6 L349.6,557.4 L349.8,560.2 L350.0,562.9 L350.2,565.5 L350.4,568.2 L350.6,570.7 L350.8,573.2 L351.0,575.6 L351.2,578.0 L351.4,580.3 L351.6,582.4 L351.8,584.5 L352.0,586.5 L352.2,588.3 L352.4,590.1 L352.6,591.7 L352.8,593.3 L353.0,594.6 L353.2,595.9 L353.4,597.0 L353.6,598.0 L353.8,598.9 L354.0,599.6 L354.2,600.2 L354.4,600.6 L354.6,600.9 L354.8,601.1 L355.0,601.1 L355.2,600.9 L355.4,600.6 L355.6,600.2 L355.8,599.6 L356.0,598.9 L356.2,598.0 L356.4,597.0 L356.6,595.9 L356.8,594.6 L357.0,593.2 L357.2,591.7 L357.4,590.0 L357.5,588.3 L357.7,586.4 L357.9,584.4 L358.1,582.3 L358.3,580.2 L358.5,577.9 L358.7,575.6 L358.9,573.1 L359.1,570.6 L359.3,568.1 L359.5,565.4 L359.7,562.8 L359.9,560.1 L360.1,557.3 L360.3,554.5 L360.5,551.7 L360.7,548.9 L360.9,546.1 L361.1,543.2 L361.3,540.4 L361.5,537.6 L361.7,534.8 L361.9,532.1 L362.1,529.4 L362.3,526.7 L362.5,524.1 L362.7,521.6 L362.9,519.1 L363.1,516.7 L363.3,514.3 L363.5,512.1 L363.7,509.9 L363.9,507.9 L364.1,505.9 L364.3,504.1 L364.5,502.3 L364.7,500.7 L364.9,499.2 L365.1,497.8 L365.3,496.6 L365.5,495.5 L365.7,494.5 L365.9,493.7 L366.1,493.0 L366.3,492.4 L366.5,492.0 L366.7,491.7 L366.9,491.6 L367.1,491.7 L367.3,491.8 L367.5,492.1 L367.7,492.6 L367.9,493.2 L368.1,494.0 L368.3,494.8 L368.5,495.9 L368.7,497.0 L368.9,498.3 L369.1,499.7 L369.3,501.3 L369.5,502.9 L369.7,504.7 L369.9,506.6 L370.1,508.6 L370.3,510.7 L370.5,512.9 L370.7,515.2 L370.9,517.5 L371.1,520.0 L371.3,522.5 L371.5,525.1 L371.7,527.7 L371.9,530.4 L372.1,533.1 L372.3,535.8 L372.5,538.6 L372.7,541.4 L372.9,544.3 L373.1,547.1 L373.3,549.9 L373.5,552.7 L373.7,555.5 L373.9,558.3 L374.1,561.0 L374.3,563.7 L374.5,566.4 L374.7,569.0 L374.9,571.5 L375.1,574.0 L375.3,576.4 L375.5,578.7 L375.7,581.0 L375.9,583.1 L376.1,585.2 L376.3,587.1 L376.5,588.9 L376.7,590.6 L376.9,592.2 L377.1,593.7 L377.3,595.1 L377.5,596.3 L377.7,597.4 L377.9,598.3 L378.1,599.1 L378.3,599.8 L378.5,600.4 L378.7,600.7 L378.9,601.0 L379.1,601.1 L379.3,601.0 L379.5,600.8 L379.7,600.5 L379.9,600.0 L380.1,599.4 L380.3,598.6 L380.5,597.7 L380.7,596.7 L380.9,595.5 L381.1,594.2 L381.3,592.7 L381.5,591.2 L381.7,589.5 L381.9,587.7 L382.1,585.8 L382.3,583.8 L382.5,581.7 L382.7,579.4 L382.9,577.2 L383.1,574.8 L383.3,572.3 L383.5,569.8 L383.7,567.2 L383.9,564.6 L384.1,561.9 L384.3,559.2 L384.5,556.4 L384.7,553.6 L384.9,550.8 L385.1,548.0 L385.3,545.2 L385.5,542.3 L385.7,539.5 L385.9,536.7 L386.1,534.0 L386.3,531.2 L386.5,528.5 L386.6,525.9 L386.8,523.3 L387.0,520.8 L387.2,518.3 L387.4,515.9 L387.6,513.6 L387.8,511.4 L388.0,509.3 L388.2,507.2 L388.4,505.3 L388.6,503.5 L388.8,501.8 L389.0,500.2 L389.2,498.7 L389.4,497.4 L389.6,496.2 L389.8,495.2 L390.0,494.2 L390.2,493.4 L390.4,492.8 L390.6,492.3 L390.8,491.9 L391.0,491.7 L391.2,491.6 L391.4,491.7 L391.6,491.9 L391.8,492.3 L392.0,492.8 L392.2,493.4 L392.4,494.2 L392.6,495.2 L392.8,496.2 L393.0,497.4 L393.2,498.8 L393.4,500.2 L393.6,501.8 L393.8,503.5 L394.0,505.3 L394.2,507.2 L394.4,509.3 L394.6,511.4 L394.8,513.6 L395.0,515.9 L395.2,518.3 L395.4,520.8 L395.6,523.3 L395.8,525.9 L396.0,528.5 L396.2,531.2 L396.4,534.0 L396.6,536.7 L396.8,539.5 L397.0,542.3 L397.2,545.2 L397.4,548.0 L397.6,550.8 L397.8,553.6 L398.0,556.4 L398.2,559.2 L398.4,561.9 L398.6,564.6 L398.8,567.2 L399.0,569.8 L399.2,572.3 L399.4,574.8 L399.6,577.2 L399.8,579.5 L400.0,581.7 L400.2,583.8 L400.4,585.8 L400.6,587.7 L400.8,589.5 L401.0,591.2 L401.2,592.7 L401.4,594.2 L401.6,595.5 L401.8,596.7 L402.0,597.7 L402.2,598.6 L402.4,599.4 L402.6,600.0 L402.8,600.5 L403.0,600.8 L403.2,601.0 L403.4,601.1 L403.6,601.0 L403.8,600.7 L404.0,600.4 L404.2,599.8 L404.4,599.1 L404.6,598.3 L404.8,597.4 L405.0,596.3 L405.2,595.1 L405.4,593.7 L405.6,592.2 L405.8,590.6 L406.0,588.9 L406.2,587.1 L406.4,585.1 L406.6,583.1 L406.8,581.0 L407.0,578.7 L407.2,576.4 L407.4,574.0 L407.6,571.5 L407.8,569.0 L408.0,566.4 L408.2,563.7 L408.4,561.0 L408.6,558.3 L408.8,555.5 L409.0,552.7 L409.2,549.9 L409.4,547.1 L409.6,544.2 L409.8,541.4 L410.0,538.6 L410.2,535.8 L410.4,533.1 L410.6,530.3 L410.8,527.7 L411.0,525.0 L411.2,522.5 L411.4,520.0 L411.6,517.5 L411.8,515.2 L412.0,512.9 L412.2,510.7 L412.4,508.6 L412.6,506.6 L412.8,504.7 L413.0,502.9 L413.2,501.3 L413.4,499.7 L413.6,498.3 L413.8,497.0 L414.0,495.9 L414.2,494.8 L414.4,494.0 L414.6,493.2 L414.8,492.6 L415.0,492.1 L415.2,491.8 L415.4,491.7 L415.5,491.6 L415.7,491.7 L415.9,492.0 L416.1,492.4 L416.3,493.0 L416.5,493.7 L416.7,494.5 L416.9,495.5 L417.1,496.6 L417.3,497.8 L417.5,499.2 L417.7,500.7 L417.9,502.3 L418.1,504.1 L418.3,505.9 L418.5,507.9 L418.7,509.9 L418.9,512.1 L419.1,514.3 L419.3,516.7 L419.5,519.1 L419.7,521.6 L419.9,524.1 L420.1,526.7 L420.3,529.4 L420.5,532.1 L420.7,534.9 L420.9,537.6 L421.1,540.4 L421.3,543.3 L421.5,546.1 L421.7,548.9 L421.9,551.7 L422.1,554.5 L422.3,557.3 L422.5,560.1 L422.7,562.8 L422.9,565.5 L423.1,568.1 L423.3,570.6 L423.5,573.1 L423.7,575.6 L423.9,577.9 L424.1,580.2 L424.3,582.4 L424.5,584.4 L424.7,586.4 L424.9,588.3 L425.1,590.0 L425.3,591.7 L425.5,593.2 L425.7,594.6 L425.9,595.9 L426.1,597.0 L426.3,598.0 L426.5,598.9 L426.7,599.6 L426.9,600.2 L427.1,600.6 L427.3,600.9 L427.5,601.1 L427.7,601.1 L427.9,600.9 L428.1,600.6 L428.3,600.2 L428.5,599.6 L428.7,598.9 L428.9,598.0 L429.1,597.0 L429.3,595.9 L429.5,594.6 L429.7,593.2 L429.9,591.7 L430.1,590.1 L430.3,588.3 L430.5,586.5 L430.7,584.5 L430.9,582.4 L431.1,580.2 L431.3,578.0 L431.5,575.6 L431.7,573.2 L431.9,570.7 L432.1,568.1 L432.3,565.5 L432.5,562.9 L432.7,560.1 L432.9,557.4 L433.1,554.6 L433.3,551.8 L433.5,549.0 L433.7,546.2 L433.9,543.3 L434.1,540.5 L434.3,537.7 L434.5,534.9 L434.7,532.2 L434.9,529.5 L435.1,526.8 L435.3,524.2 L435.5,521.6 L435.7,519.2 L435.9,516.7 L436.1,514.4 L436.3,512.2 L436.5,510.0 L436.7,507.9 L436.9,506.0 L437.1,504.1 L437.3,502.4 L437.5,500.8 L437.7,499.3 L437.9,497.9 L438.1,496.6 L438.3,495.5 L438.5,494.5 L438.7,493.7 L438.9,493.0 L439.1,492.4 L439.3,492.0 L439.5,491.8 L439.7,491.6 L439.9,491.6 L440.1,491.8 L440.3,492.1 L440.5,492.6 L440.7,493.2 L440.9,493.9 L441.1,494.8 L441.3,495.8 L441.5,497.0 L441.7,498.3 L441.9,499.7 L442.1,501.2 L442.3,502.9 L442.5,504.7 L442.7,506.5 L442.9,508.5 L443.1,510.6 L443.3,512.8 L443.5,515.1 L443.7,517.5 L443.9,519.9 L444.1,522.4 L444.3,525.0 L444.4,527.6 L444.6,530.3 L444.8,533.0 L445.0,535.8 L445.2,538.5 L445.4,541.4 L445.6,544.2 L445.8,547.0 L446.0,549.8 L446.2,552.6 L446.4,555.4 L446.6,558.2 L446.8,560.9 L447.0,563.7 L447.2,566.3 L447.4,568.9 L447.6,571.5 L447.8,573.9 L448.0,576.3 L448.2,578.7 L448.4,580.9 L448.6,583.0 L448.8,585.1 L449.0,587.0 L449.2,588.9 L449.4,590.6 L449.6,592.2 L449.8,593.7 L450.0,595.0 L450.2,596.3 L450.4,597.3 L450.6,598.3 L450.8,599.1 L451.0,599.8 L451.2,600.3 L451.4,600.7 L451.6,601.0 L451.8,601.1 L452.0,601.0 L452.2,600.8 L452.4,600.5 L452.6,600.0 L452.8,599.4 L453.0,598.6 L453.2,597.7 L453.4,596.7 L453.6,595.5 L453.8,594.2 L454.0,592.8 L454.2,591.2 L454.4,589.5 L454.6,587.7 L454.8,585.8 L455.0,583.8 L455.2,581.7 L455.4,579.5 L455.6,577.2 L455.8,574.9 L456.0,572.4 L456.2,569.9 L456.4,567.3 L456.6,564.7 L456.8,562.0 L457.0,559.3 L457.2,556.5 L457.4,553.7 L457.6,550.9 L457.8,548.1 L458.0,545.2 L458.2,542.4 L458.4,539.6 L458.6,536.8 L458.8,534.0 L459.0,531.3 L459.2,528.6 L459.4,526.0 L459.6,523.4 L459.8,520.8 L460.0,518.4 L460.2,516.0 L460.4,513.7 L460.6,511.4 L460.8,509.3 L461.0,507.3 L461.2,505.4 L461.4,503.5 L461.6,501.8 L461.8,500.3 L462.0,498.8 L462.2,497.5 L462.4,496.3 L462.6,495.2 L462.8,494.2 L463.0,493.5 L463.2,492.8 L463.4,492.3 L463.6,491.9 L463.8,491.7 L464.0,491.6 L464.2,491.7 L464.4,491.9 L464.6,492.3 L464.8,492.8 L465.0,493.4 L465.2,494.2 L465.4,495.1 L465.6,496.2 L465.8,497.4 L466.0,498.7 L466.2,500.2 L466.4,501.7 L466.6,503.4 L466.8,505.3 L467.0,507.2 L467.2,509.2 L467.4,511.3 L467.6,513.5 L467.8,515.8 L468.0,518.2 L468.2,520.7 L468.4,523.2 L468.6,525.8 L468.8,528.5 L469.0,531.2 L469.2,533.9 L469.4,536.7 L469.6,539.4 L469.8,542.3 L470.0,545.1 L470.2,547.9 L470.4,550.7 L470.6,553.5 L470.8,556.3 L471.0,559.1 L471.2,561.8 L471.4,564.5 L471.6,567.2 L471.8,569.7 L472.0,572.3 L472.2,574.7 L472.4,577.1 L472.6,579.4 L472.8,581.6 L473.0,583.7 L473.2,585.7 L473.4,587.6 L473.5,589.4 L473.7,591.1 L473.9,592.7 L474.1,594.1 L474.3,595.4 L474.5,596.6 L474.7,597.7 L474.9,598.6 L475.1,599.4 L475.3,600.0 L475.5,600.5 L475.7,600.8 L475.9,601.0 L476.1,601.1 L476.3,601.0 L476.5,600.7 L476.7,600.4 L476.9,599.8 L477.1,599.2 L477.3,598.4 L477.5,597.4 L477.7,596.3 L477.9,595.1 L478.1,593.8 L478.3,592.3 L478.5,590.7 L478.7,589.0 L478.9,587.1 L479.1,585.2 L479.3,583.2 L479.5,581.0 L479.7,578.8 L479.9,576.5 L480.1,574.1 L480.3,571.6 L480.5,569.1 L480.7,566.5 L480.9,563.8 L481.1,561.1 L481.3,558.4 L481.5,555.6 L481.7,552.8 L481.9,550.0 L482.1,547.2 L482.3,544.3 L482.5,541.5 L482.7,538.7 L482.9,535.9 L483.1,533.2 L483.3,530.4 L483.5,527.8 L483.7,525.1 L483.9,522.5 L484.1,520.0 L484.3,517.6 L484.5,515.2 L484.7,512.9 L484.9,510.8 L485.1,508.7 L485.3,506.7 L485.5,504.8 L485.7,503.0 L485.9,501.3 L486.1,499.8 L486.3,498.3 L486.5,497.1 L486.7,495.9 L486.9,494.9 L487.1,494.0 L487.3,493.2 L487.5,492.6 L487.7,492.2 L487.9,491.8 L488.1,491.7 L488.3,491.6 L488.5,491.7 L488.7,492.0 L488.9,492.4 L489.1,493.0 L489.3,493.6 L489.5,494.5 L489.7,495.5 L489.9,496.6 L490.1,497.8 L490.3,499.2 L490.5,500.7 L490.7,502.3 L490.9,504.0 L491.1,505.9 L491.3,507.8 L491.5,509.9 L491.7,512.0 L491.9,514.3 L492.1,516.6 L492.3,519.0 L492.5,521.5 L492.7,524.1 L492.9,526.7 L493.1,529.3 L493.3,532.0 L493.5,534.8 L493.7,537.6 L493.9,540.4 L494.1,543.2 L494.3,546.0 L494.5,548.8 L494.7,551.6 L494.9,554.4 L495.1,557.2 L495.3,560.0 L495.5,562.7 L495.7,565.4 L495.9,568.0 L496.1,570.6 L496.3,573.1 L496.5,575.5 L496.7,577.8 L496.9,580.1 L497.1,582.3 L497.3,584.4 L497.5,586.4 L497.7,588.2 L497.9,590.0 L498.1,591.6 L498.3,593.2 L498.5,594.6 L498.7,595.8 L498.9,597.0 L499.1,598.0 L499.3,598.9 L499.5,599.6 L499.7,600.2 L499.9,600.6 L500.1,600.9 L500.3,601.1 L500.5,601.1 L500.7,600.9 L500.9,600.6 L501.1,600.2 L501.3,599.6 L501.5,598.9 L501.7,598.1 L501.9,597.1 L502.1,595.9 L502.3,594.7 L502.4,593.3 L502.6,591.8 L502.8,590.1 L503.0,588.4 L503.2,586.5 L503.4,584.6 L503.6,582.5 L503.8,580.3 L504.0,578.1 L504.2,575.7 L504.4,573.3 L504.6,570.8 L504.8,568.2 L505.0,565.6 L505.2,562.9 L505.4,560.2 L505.6,557.5 L505.8,554.7 L506.0,551.9 L506.2,549.1 L506.4,546.2 L506.6,543.4 L506.8,540.6 L507.0,537.8 L507.2,535.0 L507.4,532.3 L507.6,529.6 L507.8,526.9 L508.0,524.3 L508.2,521.7 L508.4,519.2 L508.6,516.8 L508.8,514.5 L509.0,512.2 L509.2,510.1 L509.4,508.0 L509.6,506.0 L509.8,504.2 L510.0,502.4 L510.2,500.8 L510.4,499.3 L510.6,497.9 L510.8,496.7 L511.0,495.5 L511.2,494.6 L511.4,493.7 L511.6,493.0 L511.8,492.5 L512.0,492.0 L512.2,491.8 L512.4,491.6 L512.6,491.6 L512.8,491.8 L513.0,492.1 L513.2,492.6 L513.4,493.2 L513.6,493.9 L513.8,494.8 L514.0,495.8 L514.2,496.9 L514.4,498.2 L514.6,499.6 L514.8,501.2 L515.0,502.8 L515.2,504.6 L515.4,506.5 L515.6,508.5 L515.8,510.6 L516.0,512.7 L516.2,515.0 L516.4,517.4 L516.6,519.8 L516.8,522.3 L517.0,524.9 L517.2,527.5 L517.4,530.2 L517.6,532.9 L517.8,535.7 L518.0,538.5 L518.2,541.3 L518.4,544.1 L518.6,546.9 L518.8,549.7 L519.0,552.5 L519.2,555.3 L519.4,558.1 L519.6,560.9 L519.8,563.6 L520.0,566.2 L520.2,568.8 L520.4,571.4 L520.6,573.9 L520.8,576.3 L521.0,578.6 L521.2,580.8 L521.4,583.0 L521.6,585.0 L521.8,587.0 L522.0,588.8 L522.2,590.5 L522.4,592.1 L522.6,593.6 L522.8,595.0 L523.0,596.2 L523.2,597.3 L523.4,598.3 L523.6,599.1 L523.8,599.8 L524.0,600.3 L524.2,600.7 L524.4,601.0 L524.6,601.1 L524.8,601.0 L525.0,600.8 L525.2,600.5 L525.4,600.0 L525.6,599.4 L525.8,598.7 L526.0,597.8 L526.2,596.7 L526.4,595.6 L526.6,594.2 L526.8,592.8 L527.0,591.3 L527.2,589.6 L527.4,587.8 L527.6,585.9 L527.8,583.9 L528.0,581.8 L528.2,579.6 L528.4,577.3 L528.6,574.9 L528.8,572.5 L529.0,570.0 L529.2,567.4 L529.4,564.8 L529.6,562.1 L529.8,559.3 L530.0,556.6 L530.2,553.8 L530.4,551.0 L530.6,548.2 L530.8,545.3 L531.0,542.5 L531.2,539.7 L531.4,536.9" stroke="#ff0000" stroke-width="1.3" fill="none"/>
<rect x="458.2" y="454.1" width="61.30" height="30.90" fill="#fff" stroke="#a9a9a9" stroke-width="1"/>
<path d="M462.7,462.6H476.4" stroke="#0000ff" stroke-width="1.5"/>
<path d="M462.7,477.4H476.4" stroke="#ff0000" stroke-width="1.5"/>
<text x="477.6" y="466.20" font-size="9.4" font-style="italic">FOC_Ia</text>
<text x="477.6" y="481.00" font-size="9.4" font-style="italic">MPSC_Ia</text>
<text transform="translate(20,545.5) rotate(-90)" text-anchor="middle" font-size="15" font-style="italic">Ia(A)</text>
<text x="294" y="677" text-anchor="middle" font-size="15" font-style="italic">t</text>
<path d="M541.4,5V681.5H0" stroke="#eeeeee" stroke-width="1" fill="none"/>
</svg>
</body></html>
